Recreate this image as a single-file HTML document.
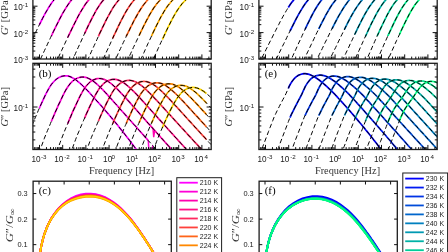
<!DOCTYPE html><html><head><meta charset="utf-8"><title>figure</title>
<style>html,body{margin:0;padding:0;background:#fff}svg{display:block}text{font-family:"Liberation Sans",sans-serif;fill:#1a1a1a}.s{font-family:"Liberation Serif",serif;fill:#333}</style></head><body>
<svg width="448" height="252" viewBox="0 0 448 252">
<rect width="448" height="252" fill="#fff"/>
<defs>
<clipPath id="clipaL"><rect x="32.90" y="-27.70" width="178.30" height="86.70"/></clipPath>
<clipPath id="clipbL"><rect x="32.90" y="63.30" width="178.30" height="86.20"/></clipPath>
<clipPath id="clipcL"><rect x="33.10" y="181.20" width="138.20" height="93.80"/></clipPath>
<clipPath id="clipaR"><rect x="258.90" y="-27.70" width="178.30" height="86.70"/></clipPath>
<clipPath id="clipbR"><rect x="258.90" y="63.30" width="178.30" height="86.20"/></clipPath>
<clipPath id="clipcR"><rect x="259.10" y="181.20" width="138.20" height="93.80"/></clipPath>
</defs>
<g clip-path="url(#clipaL)">
<path d="M39.3 24.9 L39.5 24.5 L41.0 21.5 L42.5 18.5 L44.0 15.7 L45.5 12.9 L47.0 10.3 L48.5 7.8 L50.0 5.5 L51.4 3.3 L52.9 1.3 L54.4 -0.6 L55.8 -2.3 L57.2 -3.8 L58.6 -5.2 L60.1 -6.5 L61.5 -7.7 L62.9 -8.8 L64.3 -9.8 L65.7 -10.8 L67.2 -11.6 L68.6 -12.4 L70.0 -13.1 L71.4 -13.8 L72.8 -14.4 L74.3 -14.9 L75.7 -15.4 L77.1 -15.8 L78.5 -16.3 L79.9 -16.6 L81.4 -16.9 L82.8 -17.2 L84.2 -17.5 L85.6 -17.8 L87.1 -18.0 L88.5 -18.2 L89.9 -18.4 L91.3 -18.6 L92.7 -18.7 L94.2 -18.9 L95.6 -19.0 L97.0 -19.2 L98.4 -19.3 L99.8 -19.4 L101.3 -19.5 L102.7 -19.6 L104.1 -19.7 L105.5 -19.8 L106.9 -19.8 L108.4 -19.9 L109.8 -20.0 L111.2 -20.0 L112.6 -20.1 L114.0 -20.2 L115.5 -20.2 L116.9 -20.3 L118.3 -20.3 L119.7 -20.3 L121.1 -20.4 L122.6 -20.4 L124.0 -20.5 L125.4 -20.5 L126.8 -20.5 L128.3 -20.6 L129.7 -20.6 L131.1 -20.6 L132.5 -20.6 L133.9 -20.7 L135.4 -20.7 L136.8 -20.7 L138.2 -20.7 L139.6 -20.7 L141.0 -20.8 L142.5 -20.8 L143.9 -20.8 L145.3 -20.8 L146.7 -20.8 L148.1 -20.8 L149.6 -20.8 L151.0 -20.9 L152.4 -20.9 L153.8 -20.9 L155.2 -20.9 L156.7 -20.9 L158.1 -20.9 L159.5 -20.9 L160.9 -20.9 L162.4 -20.9 L163.8 -20.9 L165.2 -20.9 L166.6 -20.9 L168.0 -21.0 L169.5 -21.0 L170.9 -21.0 L172.3 -21.0 L173.7 -21.0 L175.1 -21.0 L176.6 -21.0 L178.0 -21.0 L179.4 -21.0 L180.8 -21.0 L182.2 -21.0 L183.7 -21.0 L185.1 -21.0 L186.5 -21.0 L187.9 -21.0 L189.3 -21.0 L190.8 -21.0 L192.2 -21.0 L193.6 -21.0 L195.0 -21.0 L196.5 -21.0 L197.9 -21.0 L199.3 -21.0 L200.7 -21.0 L202.1 -21.0 L203.6 -21.0 L205.0 -21.0 L206.4 -21.0 L206.5 -21.0" fill="none" stroke="#ff00ff" stroke-width="1.7"/>
<path d="M29.0 46.4 L30.5 43.2 L32.0 40.0 L33.5 36.9 L35.0 33.7 L36.5 30.6 L38.0 27.5 L38.6 26.3 L39.5 24.5 L41.0 21.5 L42.5 18.5 L44.0 15.7 L45.5 12.9 L47.0 10.3 L48.5 7.8 L50.0 5.5 L51.4 3.3 L52.9 1.3 L54.4 -0.6 L55.8 -2.3 L57.2 -3.8 L58.6 -5.2 L60.1 -6.5 L61.5 -7.7 L62.9 -8.8 L64.3 -9.8 L65.7 -10.8 L67.2 -11.6 L68.6 -12.4 L70.0 -13.1 L71.4 -13.8 L72.8 -14.4 L74.3 -14.9 L75.7 -15.4 L77.1 -15.8 L78.5 -16.3 L79.9 -16.6 L81.4 -16.9 L82.8 -17.2 L84.2 -17.5 L85.6 -17.8 L87.1 -18.0 L88.5 -18.2 L89.9 -18.4 L91.3 -18.6 L92.7 -18.7 L94.2 -18.9 L95.6 -19.0 L97.0 -19.2 L98.4 -19.3 L99.8 -19.4 L101.3 -19.5 L102.7 -19.6 L104.1 -19.7 L105.5 -19.8 L106.9 -19.8 L108.4 -19.9 L109.8 -20.0 L111.2 -20.0 L112.6 -20.1 L114.0 -20.2 L115.5 -20.2 L116.9 -20.3 L118.3 -20.3 L119.7 -20.3 L121.1 -20.4 L122.6 -20.4 L124.0 -20.5 L125.4 -20.5 L126.8 -20.5 L128.3 -20.6 L129.7 -20.6 L131.1 -20.6 L132.5 -20.6 L133.9 -20.7 L135.4 -20.7 L136.8 -20.7 L138.2 -20.7 L139.6 -20.7 L141.0 -20.8 L142.5 -20.8 L143.9 -20.8 L145.3 -20.8 L146.7 -20.8 L148.1 -20.8 L149.6 -20.8 L151.0 -20.9 L152.4 -20.9 L153.8 -20.9 L155.2 -20.9 L156.7 -20.9 L158.1 -20.9 L159.5 -20.9 L160.9 -20.9 L162.4 -20.9 L163.8 -20.9 L165.2 -20.9 L166.6 -20.9 L168.0 -21.0 L169.5 -21.0 L170.9 -21.0 L172.3 -21.0 L173.7 -21.0 L175.1 -21.0 L176.6 -21.0 L178.0 -21.0 L179.4 -21.0 L180.8 -21.0 L182.2 -21.0 L183.7 -21.0 L185.1 -21.0 L186.5 -21.0 L187.9 -21.0 L189.3 -21.0 L190.8 -21.0 L192.2 -21.0 L193.6 -21.0 L195.0 -21.0 L196.5 -21.0 L197.9 -21.0 L199.3 -21.0 L200.7 -21.0 L202.1 -21.0 L203.6 -21.0 L205.0 -21.0 L206.4 -21.0 L206.5 -21.0 L207.8 -21.0 L209.2 -21.0 L210.7 -21.0 L212.1 -21.0 L213.5 -21.0" fill="none" stroke="#000" stroke-width="1.0" stroke-dasharray="4.6 2.7"/>
<path d="M51.3 36.0 L52.0 34.6 L53.5 31.4 L55.0 28.3 L56.5 25.3 L58.0 22.3 L59.5 19.3 L61.0 16.5 L62.5 13.7 L64.0 11.1 L65.5 8.6 L67.0 6.2 L68.5 4.0 L69.9 2.0 L71.4 0.1 L72.8 -1.6 L74.3 -3.2 L75.7 -4.6 L77.1 -5.9 L78.5 -7.1 L79.9 -8.2 L81.4 -9.2 L82.8 -10.2 L84.2 -11.0 L85.6 -11.8 L87.1 -12.5 L88.5 -13.2 L89.9 -13.8 L91.3 -14.4 L92.7 -14.8 L94.2 -15.3 L95.6 -15.7 L97.0 -16.1 L98.4 -16.4 L99.8 -16.7 L101.3 -17.0 L102.7 -17.2 L104.1 -17.5 L105.5 -17.7 L106.9 -17.9 L108.4 -18.1 L109.8 -18.2 L111.2 -18.4 L112.6 -18.5 L114.0 -18.6 L115.5 -18.8 L116.9 -18.9 L118.3 -19.0 L119.7 -19.1 L121.1 -19.2 L122.6 -19.2 L124.0 -19.3 L125.4 -19.4 L126.8 -19.5 L128.3 -19.5 L129.7 -19.6 L131.1 -19.6 L132.5 -19.7 L133.9 -19.7 L135.4 -19.8 L136.8 -19.8 L138.2 -19.9 L139.6 -19.9 L141.0 -20.0 L142.5 -20.0 L143.9 -20.0 L145.3 -20.0 L146.7 -20.1 L148.1 -20.1 L149.6 -20.1 L151.0 -20.2 L152.4 -20.2 L153.8 -20.2 L155.2 -20.2 L156.7 -20.2 L158.1 -20.3 L159.5 -20.3 L160.9 -20.3 L162.4 -20.3 L163.8 -20.3 L165.2 -20.3 L166.6 -20.3 L168.0 -20.4 L169.5 -20.4 L170.9 -20.4 L172.3 -20.4 L173.7 -20.4 L175.1 -20.4 L176.6 -20.4 L178.0 -20.4 L179.4 -20.4 L180.8 -20.4 L182.2 -20.4 L183.7 -20.4 L185.1 -20.4 L186.5 -20.5 L187.9 -20.5 L189.3 -20.5 L190.8 -20.5 L192.2 -20.5 L193.6 -20.5 L195.0 -20.5 L196.5 -20.5 L197.9 -20.5 L199.3 -20.5 L200.7 -20.5 L202.1 -20.5 L203.6 -20.5 L205.0 -20.5 L206.4 -20.5 L206.5 -20.5" fill="none" stroke="#ff00d7" stroke-width="1.7"/>
<path d="M28.6 86.0 L30.0 82.7 L31.5 79.5 L32.9 76.3 L34.3 73.1 L35.7 69.8 L37.1 66.6 L38.6 63.4 L40.0 60.1 L41.5 56.9 L43.0 53.7 L44.5 50.5 L46.0 47.3 L47.5 44.1 L49.0 40.9 L50.3 38.2 L50.5 37.7 L52.0 34.6 L53.5 31.4 L55.0 28.3 L56.5 25.3 L58.0 22.3 L59.5 19.3 L61.0 16.5 L62.5 13.7 L64.0 11.1 L65.5 8.6 L67.0 6.2 L68.5 4.0 L69.9 2.0 L71.4 0.1 L72.8 -1.6 L74.3 -3.2 L75.7 -4.6 L77.1 -5.9 L78.5 -7.1 L79.9 -8.2 L81.4 -9.2 L82.8 -10.2 L84.2 -11.0 L85.6 -11.8 L87.1 -12.5 L88.5 -13.2 L89.9 -13.8 L91.3 -14.4 L92.7 -14.8 L94.2 -15.3 L95.6 -15.7 L97.0 -16.1 L98.4 -16.4 L99.8 -16.7 L101.3 -17.0 L102.7 -17.2 L104.1 -17.5 L105.5 -17.7 L106.9 -17.9 L108.4 -18.1 L109.8 -18.2 L111.2 -18.4 L112.6 -18.5 L114.0 -18.6 L115.5 -18.8 L116.9 -18.9 L118.3 -19.0 L119.7 -19.1 L121.1 -19.2 L122.6 -19.2 L124.0 -19.3 L125.4 -19.4 L126.8 -19.5 L128.3 -19.5 L129.7 -19.6 L131.1 -19.6 L132.5 -19.7 L133.9 -19.7 L135.4 -19.8 L136.8 -19.8 L138.2 -19.9 L139.6 -19.9 L141.0 -20.0 L142.5 -20.0 L143.9 -20.0 L145.3 -20.0 L146.7 -20.1 L148.1 -20.1 L149.6 -20.1 L151.0 -20.2 L152.4 -20.2 L153.8 -20.2 L155.2 -20.2 L156.7 -20.2 L158.1 -20.3 L159.5 -20.3 L160.9 -20.3 L162.4 -20.3 L163.8 -20.3 L165.2 -20.3 L166.6 -20.3 L168.0 -20.4 L169.5 -20.4 L170.9 -20.4 L172.3 -20.4 L173.7 -20.4 L175.1 -20.4 L176.6 -20.4 L178.0 -20.4 L179.4 -20.4 L180.8 -20.4 L182.2 -20.4 L183.7 -20.4 L185.1 -20.4 L186.5 -20.5 L187.9 -20.5 L189.3 -20.5 L190.8 -20.5 L192.2 -20.5 L193.6 -20.5 L195.0 -20.5 L196.5 -20.5 L197.9 -20.5 L199.3 -20.5 L200.7 -20.5 L202.1 -20.5 L203.6 -20.5 L205.0 -20.5 L206.4 -20.5 L206.5 -20.5 L207.8 -20.5 L209.2 -20.5 L210.7 -20.5 L212.1 -20.5 L213.5 -20.5" fill="none" stroke="#000" stroke-width="1.0" stroke-dasharray="4.6 2.7"/>
<path d="M67.7 37.5 L69.2 34.4 L70.7 31.3 L72.2 28.2 L73.7 25.2 L75.2 22.2 L76.6 19.3 L78.1 16.4 L79.6 13.7 L81.1 11.1 L82.6 8.6 L84.1 6.3 L85.5 4.1 L87.0 2.1 L88.5 0.3 L89.9 -1.4 L91.3 -2.9 L92.7 -4.3 L94.2 -5.6 L95.6 -6.7 L97.0 -7.8 L98.4 -8.8 L99.8 -9.7 L101.3 -10.6 L102.7 -11.4 L104.1 -12.1 L105.5 -12.7 L106.9 -13.3 L108.4 -13.8 L109.8 -14.3 L111.2 -14.8 L112.6 -15.2 L114.0 -15.5 L115.5 -15.9 L116.9 -16.2 L118.3 -16.4 L119.7 -16.7 L121.1 -16.9 L122.6 -17.1 L124.0 -17.3 L125.4 -17.5 L126.8 -17.6 L128.3 -17.8 L129.7 -17.9 L131.1 -18.0 L132.5 -18.2 L133.9 -18.3 L135.4 -18.4 L136.8 -18.5 L138.2 -18.5 L139.6 -18.6 L141.0 -18.7 L142.5 -18.8 L143.9 -18.8 L145.3 -18.9 L146.7 -19.0 L148.1 -19.0 L149.6 -19.1 L151.0 -19.1 L152.4 -19.2 L153.8 -19.2 L155.2 -19.3 L156.7 -19.3 L158.1 -19.3 L159.5 -19.4 L160.9 -19.4 L162.4 -19.4 L163.8 -19.5 L165.2 -19.5 L166.6 -19.5 L168.0 -19.5 L169.5 -19.6 L170.9 -19.6 L172.3 -19.6 L173.7 -19.6 L175.1 -19.6 L176.6 -19.6 L178.0 -19.7 L179.4 -19.7 L180.8 -19.7 L182.2 -19.7 L183.7 -19.7 L185.1 -19.7 L186.5 -19.7 L187.9 -19.7 L189.3 -19.8 L190.8 -19.8 L192.2 -19.8 L193.6 -19.8 L195.0 -19.8 L196.5 -19.8 L197.9 -19.8 L199.3 -19.8 L200.7 -19.8 L202.1 -19.8 L203.6 -19.8 L205.0 -19.8 L206.4 -19.8 L206.5 -19.8" fill="none" stroke="#ff00af" stroke-width="1.7"/>
<path d="M28.8 124.6 L30.2 121.4 L31.7 118.1 L33.1 114.9 L34.5 111.7 L35.9 108.4 L37.3 105.2 L38.8 102.0 L40.2 98.7 L41.6 95.5 L43.0 92.3 L44.4 89.0 L45.9 85.8 L47.3 82.6 L48.7 79.3 L50.1 76.1 L51.6 72.9 L53.0 69.7 L54.4 66.4 L55.8 63.2 L57.2 60.0 L58.7 56.8 L60.2 53.5 L61.7 50.3 L63.2 47.1 L64.7 43.9 L66.2 40.7 L66.8 39.5 L67.7 37.6 L69.2 34.4 L70.7 31.3 L72.2 28.2 L73.7 25.2 L75.2 22.2 L76.6 19.3 L78.1 16.4 L79.6 13.7 L81.1 11.1 L82.6 8.6 L84.1 6.3 L85.5 4.1 L87.0 2.1 L88.5 0.3 L89.9 -1.4 L91.3 -2.9 L92.7 -4.3 L94.2 -5.6 L95.6 -6.7 L97.0 -7.8 L98.4 -8.8 L99.8 -9.7 L101.3 -10.6 L102.7 -11.4 L104.1 -12.1 L105.5 -12.7 L106.9 -13.3 L108.4 -13.8 L109.8 -14.3 L111.2 -14.8 L112.6 -15.2 L114.0 -15.5 L115.5 -15.9 L116.9 -16.2 L118.3 -16.4 L119.7 -16.7 L121.1 -16.9 L122.6 -17.1 L124.0 -17.3 L125.4 -17.5 L126.8 -17.6 L128.3 -17.8 L129.7 -17.9 L131.1 -18.0 L132.5 -18.2 L133.9 -18.3 L135.4 -18.4 L136.8 -18.5 L138.2 -18.5 L139.6 -18.6 L141.0 -18.7 L142.5 -18.8 L143.9 -18.8 L145.3 -18.9 L146.7 -19.0 L148.1 -19.0 L149.6 -19.1 L151.0 -19.1 L152.4 -19.2 L153.8 -19.2 L155.2 -19.3 L156.7 -19.3 L158.1 -19.3 L159.5 -19.4 L160.9 -19.4 L162.4 -19.4 L163.8 -19.5 L165.2 -19.5 L166.6 -19.5 L168.0 -19.5 L169.5 -19.6 L170.9 -19.6 L172.3 -19.6 L173.7 -19.6 L175.1 -19.6 L176.6 -19.6 L178.0 -19.7 L179.4 -19.7 L180.8 -19.7 L182.2 -19.7 L183.7 -19.7 L185.1 -19.7 L186.5 -19.7 L187.9 -19.7 L189.3 -19.8 L190.8 -19.8 L192.2 -19.8 L193.6 -19.8 L195.0 -19.8 L196.5 -19.8 L197.9 -19.8 L199.3 -19.8 L200.7 -19.8 L202.1 -19.8 L203.6 -19.8 L205.0 -19.8 L206.4 -19.8 L206.5 -19.8 L207.8 -19.8 L209.2 -19.8 L210.7 -19.8 L212.1 -19.9 L213.5 -19.9" fill="none" stroke="#000" stroke-width="1.0" stroke-dasharray="4.6 2.7"/>
<path d="M84.6 33.6 L85.5 31.7 L86.9 28.6 L88.3 25.6 L89.8 22.7 L91.2 19.8 L92.6 17.0 L94.1 14.3 L95.5 11.7 L96.9 9.2 L98.4 6.9 L99.8 4.8 L101.2 2.8 L102.7 0.9 L104.1 -0.7 L105.5 -2.3 L106.9 -3.7 L108.4 -5.0 L109.8 -6.1 L111.2 -7.2 L112.6 -8.2 L114.0 -9.2 L115.5 -10.0 L116.9 -10.8 L118.3 -11.5 L119.7 -12.2 L121.1 -12.8 L122.6 -13.3 L124.0 -13.8 L125.4 -14.3 L126.8 -14.7 L128.3 -15.1 L129.7 -15.4 L131.1 -15.7 L132.5 -16.0 L133.9 -16.2 L135.4 -16.5 L136.8 -16.7 L138.2 -16.9 L139.6 -17.0 L141.0 -17.2 L142.5 -17.4 L143.9 -17.5 L145.3 -17.6 L146.7 -17.8 L148.1 -17.9 L149.6 -18.0 L151.0 -18.1 L152.4 -18.2 L153.8 -18.2 L155.2 -18.3 L156.7 -18.4 L158.1 -18.5 L159.5 -18.5 L160.9 -18.6 L162.4 -18.6 L163.8 -18.7 L165.2 -18.8 L166.6 -18.8 L168.0 -18.8 L169.5 -18.9 L170.9 -18.9 L172.3 -19.0 L173.7 -19.0 L175.1 -19.0 L176.6 -19.1 L178.0 -19.1 L179.4 -19.1 L180.8 -19.1 L182.2 -19.2 L183.7 -19.2 L185.1 -19.2 L186.5 -19.2 L187.9 -19.3 L189.3 -19.3 L190.8 -19.3 L192.2 -19.3 L193.6 -19.3 L195.0 -19.3 L196.5 -19.4 L197.9 -19.4 L199.3 -19.4 L200.7 -19.4 L202.1 -19.4 L203.6 -19.4 L205.0 -19.4 L206.4 -19.4 L206.5 -19.4" fill="none" stroke="#ff0f87" stroke-width="1.7"/>
<path d="M29.9 155.7 L31.3 152.5 L32.8 149.3 L34.2 146.2 L35.6 143.0 L37.0 139.8 L38.4 136.6 L39.9 133.4 L41.3 130.2 L42.7 127.0 L44.1 123.8 L45.5 120.6 L47.0 117.4 L48.4 114.2 L49.8 111.0 L51.2 107.8 L52.7 104.7 L54.1 101.5 L55.5 98.3 L56.9 95.1 L58.3 91.9 L59.8 88.7 L61.2 85.5 L62.6 82.3 L64.0 79.1 L65.4 75.9 L66.9 72.7 L68.3 69.6 L69.7 66.4 L71.1 63.2 L72.5 60.0 L74.0 56.8 L75.4 53.7 L76.8 50.5 L78.3 47.3 L79.7 44.2 L81.2 41.0 L82.6 37.9 L84.0 34.8 L84.4 33.9 L85.5 31.7 L86.9 28.6 L88.3 25.6 L89.8 22.7 L91.2 19.8 L92.6 17.0 L94.1 14.3 L95.5 11.7 L96.9 9.2 L98.4 6.9 L99.8 4.8 L101.2 2.8 L102.7 0.9 L104.1 -0.7 L105.5 -2.3 L106.9 -3.7 L108.4 -5.0 L109.8 -6.1 L111.2 -7.2 L112.6 -8.2 L114.0 -9.2 L115.5 -10.0 L116.9 -10.8 L118.3 -11.5 L119.7 -12.2 L121.1 -12.8 L122.6 -13.3 L124.0 -13.8 L125.4 -14.3 L126.8 -14.7 L128.3 -15.1 L129.7 -15.4 L131.1 -15.7 L132.5 -16.0 L133.9 -16.2 L135.4 -16.5 L136.8 -16.7 L138.2 -16.9 L139.6 -17.0 L141.0 -17.2 L142.5 -17.4 L143.9 -17.5 L145.3 -17.6 L146.7 -17.8 L148.1 -17.9 L149.6 -18.0 L151.0 -18.1 L152.4 -18.2 L153.8 -18.2 L155.2 -18.3 L156.7 -18.4 L158.1 -18.5 L159.5 -18.5 L160.9 -18.6 L162.4 -18.6 L163.8 -18.7 L165.2 -18.8 L166.6 -18.8 L168.0 -18.8 L169.5 -18.9 L170.9 -18.9 L172.3 -19.0 L173.7 -19.0 L175.1 -19.0 L176.6 -19.1 L178.0 -19.1 L179.4 -19.1 L180.8 -19.1 L182.2 -19.2 L183.7 -19.2 L185.1 -19.2 L186.5 -19.2 L187.9 -19.3 L189.3 -19.3 L190.8 -19.3 L192.2 -19.3 L193.6 -19.3 L195.0 -19.3 L196.5 -19.4 L197.9 -19.4 L199.3 -19.4 L200.7 -19.4 L202.1 -19.4 L203.6 -19.4 L205.0 -19.4 L206.4 -19.4 L206.5 -19.4 L207.8 -19.4 L209.2 -19.4 L210.7 -19.5 L212.1 -19.5 L213.5 -19.5" fill="none" stroke="#000" stroke-width="1.0" stroke-dasharray="4.6 2.7"/>
<path d="M98.4 36.3 L98.4 36.3 L99.8 33.2 L101.3 30.2 L102.7 27.2 L104.1 24.3 L105.5 21.4 L106.9 18.6 L108.4 15.9 L109.8 13.3 L111.2 10.8 L112.6 8.4 L114.0 6.2 L115.5 4.2 L116.9 2.3 L118.3 0.6 L119.7 -1.0 L121.1 -2.5 L122.6 -3.8 L124.0 -5.0 L125.4 -6.2 L126.8 -7.2 L128.3 -8.2 L129.7 -9.1 L131.1 -9.9 L132.5 -10.6 L133.9 -11.3 L135.4 -12.0 L136.8 -12.5 L138.2 -13.1 L139.6 -13.5 L141.0 -14.0 L142.5 -14.4 L143.9 -14.7 L145.3 -15.0 L146.7 -15.3 L148.1 -15.6 L149.6 -15.9 L151.0 -16.1 L152.4 -16.3 L153.8 -16.5 L155.2 -16.6 L156.7 -16.8 L158.1 -17.0 L159.5 -17.1 L160.9 -17.2 L162.4 -17.3 L163.8 -17.5 L165.2 -17.6 L166.6 -17.6 L168.0 -17.7 L169.5 -17.8 L170.9 -17.9 L172.3 -18.0 L173.7 -18.0 L175.1 -18.1 L176.6 -18.2 L178.0 -18.2 L179.4 -18.3 L180.8 -18.3 L182.2 -18.4 L183.7 -18.4 L185.1 -18.5 L186.5 -18.5 L187.9 -18.5 L189.3 -18.6 L190.8 -18.6 L192.2 -18.6 L193.6 -18.7 L195.0 -18.7 L196.5 -18.7 L197.9 -18.7 L199.3 -18.8 L200.7 -18.8 L202.1 -18.8 L203.6 -18.8 L205.0 -18.9 L206.4 -18.9 L206.5 -18.9" fill="none" stroke="#ff285f" stroke-width="1.7"/>
<path d="M30.2 187.3 L31.6 184.1 L33.1 181.0 L34.5 177.8 L35.9 174.7 L37.3 171.5 L38.7 168.4 L40.2 165.2 L41.6 162.0 L43.0 158.9 L44.4 155.7 L45.8 152.6 L47.3 149.4 L48.7 146.3 L50.1 143.1 L51.5 140.0 L53.0 136.8 L54.4 133.7 L55.8 130.5 L57.2 127.4 L58.6 124.2 L60.1 121.1 L61.5 117.9 L62.9 114.8 L64.3 111.6 L65.7 108.5 L67.2 105.3 L68.6 102.2 L70.0 99.0 L71.4 95.9 L72.8 92.7 L74.3 89.6 L75.7 86.4 L77.1 83.3 L78.5 80.1 L79.9 77.0 L81.4 73.8 L82.8 70.7 L84.2 67.5 L85.6 64.4 L87.1 61.2 L88.5 58.1 L89.9 55.0 L91.3 51.8 L92.7 48.7 L94.2 45.6 L95.6 42.5 L97.0 39.4 L98.4 36.3 L98.4 36.3 L99.8 33.2 L101.3 30.2 L102.7 27.2 L104.1 24.3 L105.5 21.4 L106.9 18.6 L108.4 15.9 L109.8 13.3 L111.2 10.8 L112.6 8.4 L114.0 6.2 L115.5 4.2 L116.9 2.3 L118.3 0.6 L119.7 -1.0 L121.1 -2.5 L122.6 -3.8 L124.0 -5.0 L125.4 -6.2 L126.8 -7.2 L128.3 -8.2 L129.7 -9.1 L131.1 -9.9 L132.5 -10.6 L133.9 -11.3 L135.4 -12.0 L136.8 -12.5 L138.2 -13.1 L139.6 -13.5 L141.0 -14.0 L142.5 -14.4 L143.9 -14.7 L145.3 -15.0 L146.7 -15.3 L148.1 -15.6 L149.6 -15.9 L151.0 -16.1 L152.4 -16.3 L153.8 -16.5 L155.2 -16.6 L156.7 -16.8 L158.1 -17.0 L159.5 -17.1 L160.9 -17.2 L162.4 -17.3 L163.8 -17.5 L165.2 -17.6 L166.6 -17.6 L168.0 -17.7 L169.5 -17.8 L170.9 -17.9 L172.3 -18.0 L173.7 -18.0 L175.1 -18.1 L176.6 -18.2 L178.0 -18.2 L179.4 -18.3 L180.8 -18.3 L182.2 -18.4 L183.7 -18.4 L185.1 -18.5 L186.5 -18.5 L187.9 -18.5 L189.3 -18.6 L190.8 -18.6 L192.2 -18.6 L193.6 -18.7 L195.0 -18.7 L196.5 -18.7 L197.9 -18.7 L199.3 -18.8 L200.7 -18.8 L202.1 -18.8 L203.6 -18.8 L205.0 -18.9 L206.4 -18.9 L206.5 -18.9 L207.8 -18.9 L209.2 -18.9 L210.7 -18.9 L212.1 -18.9 L213.5 -18.9" fill="none" stroke="#000" stroke-width="1.0" stroke-dasharray="4.6 2.7"/>
<path d="M112.7 38.3 L114.0 35.4 L115.5 32.4 L116.9 29.4 L118.3 26.4 L119.7 23.5 L121.1 20.6 L122.6 17.9 L124.0 15.2 L125.4 12.6 L126.8 10.2 L128.3 7.9 L129.7 5.8 L131.1 3.8 L132.5 2.0 L133.9 0.3 L135.4 -1.2 L136.8 -2.6 L138.2 -3.9 L139.6 -5.1 L141.0 -6.2 L142.5 -7.2 L143.9 -8.1 L145.3 -9.0 L146.7 -9.8 L148.1 -10.5 L149.6 -11.2 L151.0 -11.8 L152.4 -12.3 L153.8 -12.8 L155.2 -13.3 L156.7 -13.7 L158.1 -14.1 L159.5 -14.4 L160.9 -14.7 L162.4 -15.0 L163.8 -15.3 L165.2 -15.5 L166.6 -15.7 L168.0 -15.9 L169.5 -16.1 L170.9 -16.3 L172.3 -16.4 L173.7 -16.6 L175.1 -16.7 L176.6 -16.8 L178.0 -16.9 L179.4 -17.0 L180.8 -17.1 L182.2 -17.2 L183.7 -17.3 L185.1 -17.4 L186.5 -17.5 L187.9 -17.5 L189.3 -17.6 L190.8 -17.7 L192.2 -17.7 L193.6 -17.8 L195.0 -17.8 L196.5 -17.9 L197.9 -17.9 L199.3 -18.0 L200.7 -18.0 L202.1 -18.1 L203.6 -18.1 L205.0 -18.1 L206.4 -18.2 L206.5 -18.2" fill="none" stroke="#ff413c" stroke-width="1.7"/>
<path d="M30.2 217.4 L31.6 217.4 L33.1 214.7 L34.5 211.5 L35.9 208.4 L37.3 205.2 L38.7 202.1 L40.2 198.9 L41.6 195.8 L43.0 192.6 L44.4 189.5 L45.8 186.3 L47.3 183.2 L48.7 180.0 L50.1 176.9 L51.5 173.7 L53.0 170.6 L54.4 167.4 L55.8 164.3 L57.2 161.1 L58.6 158.0 L60.1 154.8 L61.5 151.7 L62.9 148.5 L64.3 145.4 L65.7 142.2 L67.2 139.1 L68.6 135.9 L70.0 132.8 L71.4 129.6 L72.8 126.4 L74.3 123.3 L75.7 120.1 L77.1 117.0 L78.5 113.8 L79.9 110.7 L81.4 107.5 L82.8 104.4 L84.2 101.2 L85.6 98.1 L87.1 94.9 L88.5 91.8 L89.9 88.6 L91.3 85.5 L92.7 82.3 L94.2 79.2 L95.6 76.0 L97.0 72.9 L98.4 69.7 L99.8 66.6 L101.3 63.4 L102.7 60.3 L104.1 57.2 L105.5 54.0 L106.9 50.9 L108.4 47.8 L109.8 44.7 L111.2 41.6 L112.6 38.5 L112.7 38.3 L114.0 35.4 L115.5 32.4 L116.9 29.4 L118.3 26.4 L119.7 23.5 L121.1 20.6 L122.6 17.9 L124.0 15.2 L125.4 12.6 L126.8 10.2 L128.3 7.9 L129.7 5.8 L131.1 3.8 L132.5 2.0 L133.9 0.3 L135.4 -1.2 L136.8 -2.6 L138.2 -3.9 L139.6 -5.1 L141.0 -6.2 L142.5 -7.2 L143.9 -8.1 L145.3 -9.0 L146.7 -9.8 L148.1 -10.5 L149.6 -11.2 L151.0 -11.8 L152.4 -12.3 L153.8 -12.8 L155.2 -13.3 L156.7 -13.7 L158.1 -14.1 L159.5 -14.4 L160.9 -14.7 L162.4 -15.0 L163.8 -15.3 L165.2 -15.5 L166.6 -15.7 L168.0 -15.9 L169.5 -16.1 L170.9 -16.3 L172.3 -16.4 L173.7 -16.6 L175.1 -16.7 L176.6 -16.8 L178.0 -16.9 L179.4 -17.0 L180.8 -17.1 L182.2 -17.2 L183.7 -17.3 L185.1 -17.4 L186.5 -17.5 L187.9 -17.5 L189.3 -17.6 L190.8 -17.7 L192.2 -17.7 L193.6 -17.8 L195.0 -17.8 L196.5 -17.9 L197.9 -17.9 L199.3 -18.0 L200.7 -18.0 L202.1 -18.1 L203.6 -18.1 L205.0 -18.1 L206.4 -18.2 L206.5 -18.2 L207.8 -18.2 L209.2 -18.2 L210.7 -18.2 L212.1 -18.3 L213.5 -18.3" fill="none" stroke="#000" stroke-width="1.0" stroke-dasharray="4.6 2.7"/>
<path d="M126.3 36.3 L126.3 36.2 L127.8 33.2 L129.3 30.2 L130.7 27.2 L132.2 24.3 L133.6 21.4 L135.1 18.7 L136.6 16.0 L138.0 13.4 L139.5 11.0 L140.9 8.7 L142.4 6.5 L143.8 4.5 L145.3 2.7 L146.7 1.0 L148.1 -0.5 L149.6 -1.9 L151.0 -3.2 L152.4 -4.4 L153.8 -5.5 L155.2 -6.5 L156.7 -7.5 L158.1 -8.3 L159.5 -9.1 L160.9 -9.8 L162.4 -10.5 L163.8 -11.1 L165.2 -11.7 L166.6 -12.2 L168.0 -12.6 L169.5 -13.1 L170.9 -13.4 L172.3 -13.8 L173.7 -14.1 L175.1 -14.4 L176.6 -14.6 L178.0 -14.9 L179.4 -15.1 L180.8 -15.3 L182.2 -15.5 L183.7 -15.7 L185.1 -15.8 L186.5 -16.0 L187.9 -16.1 L189.3 -16.2 L190.8 -16.3 L192.2 -16.4 L193.6 -16.5 L195.0 -16.6 L196.5 -16.7 L197.9 -16.8 L199.3 -16.9 L200.7 -17.0 L202.1 -17.0 L203.6 -17.1 L205.0 -17.1 L206.4 -17.2 L206.5 -17.2" fill="none" stroke="#ff6419" stroke-width="1.7"/>
<path d="M29.4 217.4 L30.8 217.4 L32.3 217.4 L33.7 217.4 L35.1 217.4 L36.5 217.4 L37.9 217.4 L39.4 217.4 L40.8 217.4 L42.2 217.4 L43.6 217.4 L45.0 215.5 L46.5 212.4 L47.9 209.2 L49.3 206.1 L50.7 202.9 L52.2 199.8 L53.6 196.6 L55.0 193.5 L56.4 190.3 L57.8 187.2 L59.3 184.0 L60.7 180.9 L62.1 177.7 L63.5 174.6 L64.9 171.4 L66.4 168.3 L67.8 165.1 L69.2 162.0 L70.6 158.8 L72.0 155.7 L73.5 152.5 L74.9 149.3 L76.3 146.2 L77.7 143.0 L79.1 139.9 L80.6 136.7 L82.0 133.6 L83.4 130.4 L84.8 127.3 L86.3 124.1 L87.7 121.0 L89.1 117.8 L90.5 114.7 L91.9 111.5 L93.4 108.4 L94.8 105.2 L96.2 102.1 L97.6 98.9 L99.0 95.8 L100.5 92.6 L101.9 89.5 L103.3 86.3 L104.7 83.2 L106.1 80.0 L107.6 76.9 L109.0 73.7 L110.4 70.6 L111.8 67.4 L113.2 64.3 L114.7 61.1 L116.1 58.0 L117.6 54.9 L119.0 51.7 L120.5 48.6 L121.9 45.5 L123.4 42.4 L124.9 39.3 L125.8 37.4 L126.3 36.2 L127.8 33.2 L129.3 30.2 L130.7 27.2 L132.2 24.3 L133.6 21.4 L135.1 18.7 L136.6 16.0 L138.0 13.4 L139.5 11.0 L140.9 8.7 L142.4 6.5 L143.8 4.5 L145.3 2.7 L146.7 1.0 L148.1 -0.5 L149.6 -1.9 L151.0 -3.2 L152.4 -4.4 L153.8 -5.5 L155.2 -6.5 L156.7 -7.5 L158.1 -8.3 L159.5 -9.1 L160.9 -9.8 L162.4 -10.5 L163.8 -11.1 L165.2 -11.7 L166.6 -12.2 L168.0 -12.6 L169.5 -13.1 L170.9 -13.4 L172.3 -13.8 L173.7 -14.1 L175.1 -14.4 L176.6 -14.6 L178.0 -14.9 L179.4 -15.1 L180.8 -15.3 L182.2 -15.5 L183.7 -15.7 L185.1 -15.8 L186.5 -16.0 L187.9 -16.1 L189.3 -16.2 L190.8 -16.3 L192.2 -16.4 L193.6 -16.5 L195.0 -16.6 L196.5 -16.7 L197.9 -16.8 L199.3 -16.9 L200.7 -17.0 L202.1 -17.0 L203.6 -17.1 L205.0 -17.1 L206.4 -17.2 L206.5 -17.2 L207.8 -17.2 L209.2 -17.3 L210.7 -17.3 L212.1 -17.4 L213.5 -17.4" fill="none" stroke="#000" stroke-width="1.0" stroke-dasharray="4.6 2.7"/>
<path d="M139.1 35.5 L139.3 35.2 L140.7 32.2 L142.2 29.2 L143.6 26.2 L145.1 23.3 L146.5 20.5 L148.0 17.8 L149.4 15.1 L150.9 12.6 L152.3 10.3 L153.7 8.0 L155.2 6.0 L156.6 4.0 L158.1 2.3 L159.5 0.7 L160.9 -0.8 L162.4 -2.1 L163.8 -3.4 L165.2 -4.5 L166.6 -5.6 L168.0 -6.6 L169.5 -7.5 L170.9 -8.3 L172.3 -9.1 L173.7 -9.8 L175.1 -10.4 L176.6 -11.0 L178.0 -11.5 L179.4 -12.0 L180.8 -12.4 L182.2 -12.8 L183.7 -13.2 L185.1 -13.5 L186.5 -13.8 L187.9 -14.1 L189.3 -14.3 L190.8 -14.6 L192.2 -14.8 L193.6 -15.0 L195.0 -15.2 L196.5 -15.3 L197.9 -15.5 L199.3 -15.6 L200.7 -15.7 L202.1 -15.9 L203.6 -16.0 L205.0 -16.1 L206.4 -16.2 L206.5 -16.2" fill="none" stroke="#ff8800" stroke-width="1.7"/>
<path d="M29.6 217.4 L31.0 217.4 L32.5 217.4 L33.9 217.4 L35.3 217.4 L36.7 217.4 L38.1 217.4 L39.6 217.4 L41.0 217.4 L42.4 217.4 L43.8 217.4 L45.2 217.4 L46.7 217.4 L48.1 217.4 L49.5 217.4 L50.9 217.4 L52.4 217.4 L53.8 217.4 L55.2 217.4 L56.6 217.4 L58.0 214.4 L59.5 211.3 L60.9 208.1 L62.3 205.0 L63.7 201.8 L65.1 198.7 L66.6 195.5 L68.0 192.4 L69.4 189.2 L70.8 186.1 L72.2 182.9 L73.7 179.8 L75.1 176.6 L76.5 173.5 L77.9 170.3 L79.3 167.2 L80.8 164.0 L82.2 160.9 L83.6 157.7 L85.0 154.5 L86.5 151.4 L87.9 148.2 L89.3 145.1 L90.7 141.9 L92.1 138.8 L93.6 135.6 L95.0 132.5 L96.4 129.3 L97.8 126.2 L99.2 123.0 L100.7 119.9 L102.1 116.7 L103.5 113.6 L104.9 110.4 L106.3 107.3 L107.8 104.1 L109.2 101.0 L110.6 97.8 L112.0 94.7 L113.4 91.5 L114.9 88.4 L116.3 85.2 L117.7 82.1 L119.1 78.9 L120.5 75.8 L122.0 72.6 L123.4 69.5 L124.8 66.3 L126.2 63.2 L127.7 60.0 L129.1 56.9 L130.5 53.8 L132.0 50.6 L133.4 47.5 L134.9 44.4 L136.4 41.3 L137.8 38.2 L138.7 36.3 L139.3 35.2 L140.7 32.2 L142.2 29.2 L143.6 26.2 L145.1 23.3 L146.5 20.5 L148.0 17.8 L149.4 15.1 L150.9 12.6 L152.3 10.3 L153.7 8.0 L155.2 6.0 L156.6 4.0 L158.1 2.3 L159.5 0.7 L160.9 -0.8 L162.4 -2.1 L163.8 -3.4 L165.2 -4.5 L166.6 -5.6 L168.0 -6.6 L169.5 -7.5 L170.9 -8.3 L172.3 -9.1 L173.7 -9.8 L175.1 -10.4 L176.6 -11.0 L178.0 -11.5 L179.4 -12.0 L180.8 -12.4 L182.2 -12.8 L183.7 -13.2 L185.1 -13.5 L186.5 -13.8 L187.9 -14.1 L189.3 -14.3 L190.8 -14.6 L192.2 -14.8 L193.6 -15.0 L195.0 -15.2 L196.5 -15.3 L197.9 -15.5 L199.3 -15.6 L200.7 -15.7 L202.1 -15.9 L203.6 -16.0 L205.0 -16.1 L206.4 -16.2 L206.5 -16.2 L207.8 -16.3 L209.2 -16.3 L210.7 -16.4 L212.1 -16.5 L213.5 -16.6" fill="none" stroke="#000" stroke-width="1.0" stroke-dasharray="4.6 2.7"/>
<path d="M151.5 36.1 L152.4 34.1 L153.8 31.1 L155.2 28.2 L156.7 25.2 L158.1 22.4 L159.5 19.6 L160.9 16.9 L162.4 14.4 L163.8 11.9 L165.2 9.6 L166.6 7.5 L168.0 5.5 L169.5 3.7 L170.9 2.0 L172.3 0.5 L173.7 -0.9 L175.1 -2.2 L176.6 -3.4 L178.0 -4.5 L179.4 -5.5 L180.8 -6.4 L182.2 -7.3 L183.7 -8.1 L185.1 -8.8 L186.5 -9.5 L187.9 -10.1 L189.3 -10.7 L190.8 -11.2 L192.2 -11.6 L193.6 -12.0 L195.0 -12.4 L196.5 -12.8 L197.9 -13.1 L199.3 -13.3 L200.7 -13.6 L202.1 -13.8 L203.6 -14.1 L205.0 -14.3 L206.4 -14.4 L206.5 -14.5" fill="none" stroke="#ffac00" stroke-width="1.7"/>
<path d="M30.2 217.4 L31.6 217.4 L33.1 217.4 L34.5 217.4 L35.9 217.4 L37.3 217.4 L38.7 217.4 L40.2 217.4 L41.6 217.4 L43.0 217.4 L44.4 217.4 L45.8 217.4 L47.3 217.4 L48.7 217.4 L50.1 217.4 L51.5 217.4 L53.0 217.4 L54.4 217.4 L55.8 217.4 L57.2 217.4 L58.6 217.4 L60.1 217.4 L61.5 217.4 L62.9 217.4 L64.3 217.4 L65.7 217.4 L67.2 217.4 L68.6 217.4 L70.0 216.5 L71.4 213.3 L72.8 210.2 L74.3 207.0 L75.7 203.9 L77.1 200.7 L78.5 197.6 L79.9 194.4 L81.4 191.2 L82.8 188.1 L84.2 184.9 L85.6 181.8 L87.1 178.6 L88.5 175.5 L89.9 172.3 L91.3 169.2 L92.7 166.0 L94.2 162.9 L95.6 159.7 L97.0 156.6 L98.4 153.4 L99.8 150.3 L101.3 147.1 L102.7 144.0 L104.1 140.8 L105.5 137.7 L106.9 134.5 L108.4 131.4 L109.8 128.2 L111.2 125.1 L112.6 121.9 L114.0 118.8 L115.5 115.6 L116.9 112.5 L118.3 109.3 L119.7 106.2 L121.1 103.0 L122.6 99.9 L124.0 96.7 L125.4 93.6 L126.8 90.4 L128.3 87.3 L129.7 84.1 L131.1 81.0 L132.5 77.8 L133.9 74.7 L135.4 71.5 L136.8 68.4 L138.2 65.2 L139.6 62.1 L141.0 58.9 L142.5 55.8 L143.9 52.7 L145.3 49.5 L146.7 46.4 L148.1 43.3 L149.6 40.2 L151.0 37.2 L151.5 36.1 L152.4 34.1 L153.8 31.1 L155.2 28.2 L156.7 25.2 L158.1 22.4 L159.5 19.6 L160.9 16.9 L162.4 14.4 L163.8 11.9 L165.2 9.6 L166.6 7.5 L168.0 5.5 L169.5 3.7 L170.9 2.0 L172.3 0.5 L173.7 -0.9 L175.1 -2.2 L176.6 -3.4 L178.0 -4.5 L179.4 -5.5 L180.8 -6.4 L182.2 -7.3 L183.7 -8.1 L185.1 -8.8 L186.5 -9.5 L187.9 -10.1 L189.3 -10.7 L190.8 -11.2 L192.2 -11.6 L193.6 -12.0 L195.0 -12.4 L196.5 -12.8 L197.9 -13.1 L199.3 -13.3 L200.7 -13.6 L202.1 -13.8 L203.6 -14.1 L205.0 -14.3 L206.4 -14.4 L206.5 -14.5 L207.8 -14.6 L209.2 -14.8 L210.7 -14.9 L212.1 -15.0 L213.5 -15.2" fill="none" stroke="#000" stroke-width="1.0" stroke-dasharray="4.6 2.7"/>
<path d="M162.3 39.5 L162.4 39.4 L163.8 36.4 L165.2 33.3 L166.6 30.4 L168.0 27.4 L169.5 24.5 L170.9 21.7 L172.3 19.0 L173.7 16.4 L175.1 13.9 L176.6 11.5 L178.0 9.3 L179.4 7.3 L180.8 5.4 L182.2 3.6 L183.7 2.0 L185.1 0.6 L186.5 -0.8 L187.9 -2.0 L189.3 -3.1 L190.8 -4.2 L192.2 -5.2 L193.6 -6.0 L195.0 -6.9 L196.5 -7.6 L197.9 -8.3 L199.3 -9.0 L200.7 -9.5 L202.1 -10.1 L203.6 -10.5 L205.0 -11.0 L206.4 -11.4 L206.5 -11.4" fill="none" stroke="#ffd700" stroke-width="1.7"/>
<path d="M30.2 217.4 L31.6 217.4 L33.1 217.4 L34.5 217.4 L35.9 217.4 L37.3 217.4 L38.7 217.4 L40.2 217.4 L41.6 217.4 L43.0 217.4 L44.4 217.4 L45.8 217.4 L47.3 217.4 L48.7 217.4 L50.1 217.4 L51.5 217.4 L53.0 217.4 L54.4 217.4 L55.8 217.4 L57.2 217.4 L58.6 217.4 L60.1 217.4 L61.5 217.4 L62.9 217.4 L64.3 217.4 L65.7 217.4 L67.2 217.4 L68.6 217.4 L70.0 217.4 L71.4 217.4 L72.8 217.4 L74.3 217.4 L75.7 217.4 L77.1 217.4 L78.5 217.4 L79.9 217.4 L81.4 217.4 L82.8 215.6 L84.2 212.4 L85.6 209.3 L87.1 206.1 L88.5 203.0 L89.9 199.8 L91.3 196.7 L92.7 193.5 L94.2 190.4 L95.6 187.2 L97.0 184.1 L98.4 180.9 L99.8 177.8 L101.3 174.6 L102.7 171.5 L104.1 168.3 L105.5 165.2 L106.9 162.0 L108.4 158.9 L109.8 155.7 L111.2 152.6 L112.6 149.4 L114.0 146.3 L115.5 143.1 L116.9 140.0 L118.3 136.8 L119.7 133.7 L121.1 130.5 L122.6 127.4 L124.0 124.2 L125.4 121.1 L126.8 117.9 L128.3 114.7 L129.7 111.6 L131.1 108.4 L132.5 105.3 L133.9 102.1 L135.4 99.0 L136.8 95.8 L138.2 92.7 L139.6 89.5 L141.0 86.4 L142.5 83.2 L143.9 80.1 L145.3 76.9 L146.7 73.8 L148.1 70.6 L149.6 67.5 L151.0 64.4 L152.4 61.2 L153.8 58.1 L155.2 54.9 L156.7 51.8 L158.1 48.7 L159.5 45.6 L160.9 42.5 L162.3 39.5 L162.4 39.4 L163.8 36.4 L165.2 33.3 L166.6 30.4 L168.0 27.4 L169.5 24.5 L170.9 21.7 L172.3 19.0 L173.7 16.4 L175.1 13.9 L176.6 11.5 L178.0 9.3 L179.4 7.3 L180.8 5.4 L182.2 3.6 L183.7 2.0 L185.1 0.6 L186.5 -0.8 L187.9 -2.0 L189.3 -3.1 L190.8 -4.2 L192.2 -5.2 L193.6 -6.0 L195.0 -6.9 L196.5 -7.6 L197.9 -8.3 L199.3 -9.0 L200.7 -9.5 L202.1 -10.1 L203.6 -10.5 L205.0 -11.0 L206.4 -11.4 L206.5 -11.4 L207.8 -11.7 L209.2 -12.0 L210.7 -12.3 L212.1 -12.6 L213.5 -12.9" fill="none" stroke="#000" stroke-width="1.0" stroke-dasharray="4.6 2.7"/>
</g>
<g clip-path="url(#clipbL)">
<path d="M39.3 108.3 L39.9 107.0 L41.4 103.6 L43.0 100.2 L44.4 97.1 L45.8 94.1 L47.3 91.3 L48.7 88.7 L50.1 86.4 L51.5 84.3 L53.0 82.5 L54.4 81.0 L55.8 79.7 L57.2 78.6 L58.6 77.7 L60.1 77.0 L61.5 76.4 L62.9 76.1 L64.3 75.8 L65.7 75.8 L67.2 75.9 L68.6 76.2 L70.0 76.6 L71.4 77.2 L72.8 77.9 L74.3 78.8 L75.7 79.7 L77.1 80.8 L78.5 82.0 L79.9 83.2 L81.4 84.5 L82.8 85.8 L84.2 87.2 L85.6 88.7 L87.1 90.2 L88.5 91.7 L89.9 93.2 L91.3 94.7 L92.7 96.3 L94.2 97.9 L95.6 99.5 L97.0 101.1 L98.4 102.6 L99.8 104.2 L101.3 105.8 L102.7 107.5 L104.1 109.1 L105.5 110.7 L106.9 112.4 L108.4 114.1 L109.8 115.7 L111.2 117.4 L112.6 119.1 L114.0 120.9 L115.5 122.6 L116.9 124.3 L118.3 126.1 L119.7 127.9 L121.1 129.6 L122.6 131.4 L124.0 133.2 L125.4 135.1 L126.8 136.9 L128.3 138.7 L129.7 140.6 L131.1 142.5 L132.5 144.3 L133.9 146.2 L135.4 148.2 L136.8 150.1 L138.2 152.0 L139.6 154.0 L141.0 155.9 L142.5 157.9 L143.9 159.9 L145.3 161.9 L146.7 163.9 L148.1 166.0 L149.6 168.0 L151.0 170.1 L152.4 172.2 L153.8 174.3 L155.2 176.4 L156.7 178.5 L158.1 180.6 L159.5 182.8 L160.9 184.9 L162.4 187.1 L163.8 189.3 L165.2 191.5 L166.6 193.7 L168.0 196.0 L169.5 198.2 L170.9 200.5 L172.3 202.7 L173.7 205.0 L175.1 207.3 L176.6 209.6 L178.0 212.0 L179.4 214.3 L180.8 216.7 L182.2 219.0 L183.7 221.4 L185.1 223.8 L186.5 226.2 L187.9 228.7 L189.3 231.1 L190.8 233.6 L192.2 236.0 L193.6 238.5 L195.0 241.0 L196.5 243.5 L197.9 246.0 L199.3 248.5 L200.7 251.1 L202.1 253.6 L203.6 256.2 L205.0 258.8 L206.4 261.4 L206.5 261.6" fill="none" stroke="#ff00ff" stroke-width="1.7"/>
<path d="M28.9 132.8 L30.5 129.0 L32.1 125.2 L33.6 121.5 L35.2 117.8 L36.8 114.1 L38.3 110.5 L38.9 109.1 L39.9 107.0 L41.4 103.6 L43.0 100.2 L44.4 97.1 L45.8 94.1 L47.3 91.3 L48.7 88.7 L50.1 86.4 L51.5 84.3 L53.0 82.5 L54.4 81.0 L55.8 79.7 L57.2 78.6 L58.6 77.7 L60.1 77.0 L61.5 76.4 L62.9 76.1 L64.3 75.8 L65.7 75.8 L67.2 75.9 L68.6 76.2 L70.0 76.6 L71.4 77.2 L72.8 77.9 L74.3 78.8 L75.7 79.7 L77.1 80.8 L78.5 82.0 L79.9 83.2 L81.4 84.5 L82.8 85.8 L84.2 87.2 L85.6 88.7 L87.1 90.2 L88.5 91.7 L89.9 93.2 L91.3 94.7 L92.7 96.3 L94.2 97.9 L95.6 99.5 L97.0 101.1 L98.4 102.6 L99.8 104.2 L101.3 105.8 L102.7 107.5 L104.1 109.1 L105.5 110.7 L106.9 112.4 L108.4 114.1 L109.8 115.7 L111.2 117.4 L112.6 119.1 L114.0 120.9 L115.5 122.6 L116.9 124.3 L118.3 126.1 L119.7 127.9 L121.1 129.6 L122.6 131.4 L124.0 133.2 L125.4 135.1 L126.8 136.9 L128.3 138.7 L129.7 140.6 L131.1 142.5 L132.5 144.3 L133.9 146.2 L135.4 148.2 L136.8 150.1 L138.2 152.0 L139.6 154.0 L141.0 155.9 L142.5 157.9 L143.9 159.9 L145.3 161.9 L146.7 163.9 L148.1 166.0 L149.6 168.0 L151.0 170.1 L152.4 172.2 L153.8 174.3 L155.2 176.4 L156.7 178.5 L158.1 180.6 L159.5 182.8 L160.9 184.9 L162.4 187.1 L163.8 189.3 L165.2 191.5 L166.6 193.7 L168.0 196.0 L169.5 198.2 L170.9 200.5 L172.3 202.7 L173.7 205.0 L175.1 207.3 L176.6 209.6 L178.0 212.0 L179.4 214.3 L180.8 216.7 L182.2 219.0 L183.7 221.4 L185.1 223.8 L186.5 226.2 L187.9 228.7 L189.3 231.1 L190.8 233.6 L192.2 236.0 L193.6 238.5 L195.0 241.0 L196.5 243.5 L197.9 246.0 L199.3 248.5 L200.7 251.1 L202.1 253.6 L203.6 256.2 L205.0 258.8 L206.4 261.4 L206.5 261.6 L207.8 264.0 L209.2 266.6 L210.7 269.3 L212.1 271.9 L213.5 274.6" fill="none" stroke="#000" stroke-width="1.0" stroke-dasharray="4.6 2.7"/>
<path d="M51.3 121.5 L52.2 119.4 L53.8 115.7 L55.3 112.1 L56.9 108.6 L58.4 105.1 L60.0 101.8 L61.5 98.6 L62.9 95.6 L64.3 92.8 L65.7 90.2 L67.2 87.8 L68.6 85.7 L70.0 83.9 L71.4 82.3 L72.8 81.0 L74.3 79.9 L75.7 79.0 L77.1 78.2 L78.5 77.7 L79.9 77.3 L81.4 77.1 L82.8 77.0 L84.2 77.1 L85.6 77.4 L87.1 77.8 L88.5 78.4 L89.9 79.1 L91.3 79.9 L92.7 80.8 L94.2 81.9 L95.6 83.0 L97.0 84.2 L98.4 85.5 L99.8 86.9 L101.3 88.3 L102.7 89.7 L104.1 91.2 L105.5 92.7 L106.9 94.2 L108.4 95.8 L109.8 97.3 L111.2 98.9 L112.6 100.5 L114.0 102.1 L115.5 103.7 L116.9 105.3 L118.3 106.9 L119.7 108.5 L121.1 110.1 L122.6 111.7 L124.0 113.3 L125.4 114.9 L126.8 116.5 L128.3 118.1 L129.7 119.7 L131.1 121.3 L132.5 122.9 L133.9 124.5 L135.4 126.0 L136.8 127.6 L138.2 129.2 L139.6 130.8 L141.0 132.4 L142.5 134.0 L143.9 135.6 L145.3 137.2 L146.7 138.8 L148.1 140.4 L148.3 140.5" fill="none" stroke="#ff00d7" stroke-width="1.7"/>
<path d="M148.3 140.5 L148.9 151 M151.2 151 L152.6 146.8 L153.8 151" fill="none" stroke="#ff00d7" stroke-width="1.5"/>
<path d="M28.8 180.4 L30.2 176.6 L31.7 172.7 L33.1 168.9 L34.5 165.0 L35.9 161.2 L37.3 157.3 L38.8 153.5 L40.2 149.7 L41.6 145.8 L43.0 142.0 L44.4 138.2 L45.9 134.4 L47.5 130.6 L49.1 126.8 L50.4 123.7 L50.6 123.1 L52.2 119.4 L53.8 115.7 L55.3 112.1 L56.9 108.6 L58.4 105.1 L60.0 101.8 L61.5 98.6 L62.9 95.6 L64.3 92.8 L65.7 90.2 L67.2 87.8 L68.6 85.7 L70.0 83.9 L71.4 82.3 L72.8 81.0 L74.3 79.9 L75.7 79.0 L77.1 78.2 L78.5 77.7 L79.9 77.3 L81.4 77.1 L82.8 77.0 L84.2 77.1 L85.6 77.4 L87.1 77.8 L88.5 78.4 L89.9 79.1 L91.3 79.9 L92.7 80.8 L94.2 81.9 L95.6 83.0 L97.0 84.2 L98.4 85.5 L99.8 86.9 L101.3 88.3 L102.7 89.7 L104.1 91.2 L105.5 92.7 L106.9 94.2 L108.4 95.8 L109.8 97.3 L111.2 98.9 L112.6 100.5 L114.0 102.1 L115.5 103.7 L116.9 105.3 L118.3 106.9 L119.7 108.5 L121.1 110.1 L122.6 111.7 L124.0 113.3 L125.4 114.9 L126.8 116.5 L128.3 118.1 L129.7 119.7 L131.1 121.3 L132.5 122.9 L133.9 124.5 L135.4 126.0 L136.8 127.6 L138.2 129.2 L139.6 130.8 L141.0 132.4 L142.5 134.0 L143.9 135.6 L145.3 137.2 L146.7 138.8 L148.1 140.4 L149.6 142.0 L151.0 143.5 L152.4 145.1 L153.8 146.7 L155.2 148.3 L156.7 149.9 L158.1 151.5 L159.5 153.1 L160.9 154.7 L162.4 156.3 L163.8 157.9 L165.2 159.5 L166.6 161.1 L168.0 162.7 L169.5 164.3 L170.9 165.9 L172.3 167.5 L173.7 169.1 L175.1 170.7 L176.6 172.3 L178.0 173.9 L179.4 175.5 L180.8 177.1 L182.2 178.7 L183.7 180.3 L185.1 181.9 L186.5 183.5 L187.9 185.2 L189.3 186.8 L190.8 188.4 L192.2 190.0 L193.6 191.6 L195.0 193.2 L196.5 194.8 L197.9 196.4 L199.3 198.0 L200.7 199.7 L202.1 201.3 L203.6 202.9 L205.0 204.5 L206.4 206.1 L206.5 206.2 L207.8 207.7 L209.2 209.4 L210.7 211.0 L212.1 212.6 L213.5 214.2" fill="none" stroke="#000" stroke-width="1.0" stroke-dasharray="4.6 2.7"/>
<path d="M67.7 123.6 L69.2 120.0 L70.8 116.3 L72.3 112.7 L73.9 109.2 L75.5 105.8 L77.0 102.5 L78.5 99.3 L79.9 96.4 L81.4 93.6 L82.8 91.1 L84.2 88.8 L85.6 86.8 L87.1 85.0 L88.5 83.5 L89.9 82.2 L91.3 81.1 L92.7 80.3 L94.2 79.6 L95.6 79.1 L97.0 78.7 L98.4 78.5 L99.8 78.5 L101.3 78.7 L102.7 79.0 L104.1 79.4 L105.5 80.0 L106.9 80.8 L108.4 81.6 L109.8 82.6 L111.2 83.7 L112.6 84.8 L114.0 86.1 L115.5 87.4 L116.9 88.7 L118.3 90.1 L119.7 91.6 L121.1 93.1 L122.6 94.6 L124.0 96.1 L125.4 97.7 L126.8 99.2 L128.3 100.8 L129.7 102.4 L131.1 104.0 L132.5 105.6 L133.9 107.2 L135.4 108.8 L136.8 110.4 L138.2 112.0 L139.6 113.6 L141.0 115.2 L142.5 116.8 L143.9 118.4 L145.3 120.0 L146.7 121.6 L148.1 123.2 L149.6 124.8 L151.0 126.3 L152.4 127.9 L153.8 129.5 L155.2 131.1 L156.7 132.7 L158.1 134.3 L159.5 135.9 L160.9 137.5 L162.4 139.1 L163.8 140.7 L165.2 142.3 L166.6 143.8 L168.0 145.4 L169.5 147.0 L170.9 148.6 L172.3 150.2 L173.7 151.8 L175.1 153.4 L176.6 155.0 L178.0 156.6 L179.4 158.2 L180.8 159.8 L182.2 161.4 L183.7 163.0 L185.1 164.6 L186.5 166.2 L187.9 167.8 L189.3 169.4 L190.8 171.0 L192.2 172.6 L193.6 174.2 L195.0 175.8 L196.5 177.4 L197.9 179.0 L199.3 180.6 L200.7 182.2 L202.1 183.8 L203.6 185.4 L205.0 187.1 L206.4 188.7 L206.5 188.8" fill="none" stroke="#ff00af" stroke-width="1.7"/>
<path d="M153.0 128.6 L153.7 137.1 L154.6 130.8" fill="none" stroke="#ff00af" stroke-width="1.4"/>
<path d="M28.8 227.2 L30.2 223.3 L31.7 219.5 L33.1 215.6 L34.5 211.8 L35.9 207.9 L37.3 204.1 L38.8 200.2 L40.2 196.4 L41.6 192.5 L43.0 188.7 L44.4 184.8 L45.9 181.0 L47.3 177.1 L48.7 173.3 L50.1 169.4 L51.6 165.6 L53.0 161.7 L54.4 157.9 L55.8 154.1 L57.2 150.2 L58.7 146.4 L60.1 142.6 L61.5 138.8 L63.0 135.0 L64.5 131.2 L66.1 127.4 L66.7 126.0 L67.7 123.7 L69.2 120.0 L70.8 116.3 L72.3 112.7 L73.9 109.2 L75.5 105.8 L77.0 102.5 L78.5 99.3 L79.9 96.4 L81.4 93.6 L82.8 91.1 L84.2 88.8 L85.6 86.8 L87.1 85.0 L88.5 83.5 L89.9 82.2 L91.3 81.1 L92.7 80.3 L94.2 79.6 L95.6 79.1 L97.0 78.7 L98.4 78.5 L99.8 78.5 L101.3 78.7 L102.7 79.0 L104.1 79.4 L105.5 80.0 L106.9 80.8 L108.4 81.6 L109.8 82.6 L111.2 83.7 L112.6 84.8 L114.0 86.1 L115.5 87.4 L116.9 88.7 L118.3 90.1 L119.7 91.6 L121.1 93.1 L122.6 94.6 L124.0 96.1 L125.4 97.7 L126.8 99.2 L128.3 100.8 L129.7 102.4 L131.1 104.0 L132.5 105.6 L133.9 107.2 L135.4 108.8 L136.8 110.4 L138.2 112.0 L139.6 113.6 L141.0 115.2 L142.5 116.8 L143.9 118.4 L145.3 120.0 L146.7 121.6 L148.1 123.2 L149.6 124.8 L151.0 126.3 L152.4 127.9 L153.8 129.5 L155.2 131.1 L156.7 132.7 L158.1 134.3 L159.5 135.9 L160.9 137.5 L162.4 139.1 L163.8 140.7 L165.2 142.3 L166.6 143.8 L168.0 145.4 L169.5 147.0 L170.9 148.6 L172.3 150.2 L173.7 151.8 L175.1 153.4 L176.6 155.0 L178.0 156.6 L179.4 158.2 L180.8 159.8 L182.2 161.4 L183.7 163.0 L185.1 164.6 L186.5 166.2 L187.9 167.8 L189.3 169.4 L190.8 171.0 L192.2 172.6 L193.6 174.2 L195.0 175.8 L196.5 177.4 L197.9 179.0 L199.3 180.6 L200.7 182.2 L202.1 183.8 L203.6 185.4 L205.0 187.1 L206.4 188.7 L206.5 188.8 L207.8 190.3 L209.2 191.9 L210.7 193.5 L212.1 195.1 L213.5 196.7" fill="none" stroke="#000" stroke-width="1.0" stroke-dasharray="4.6 2.7"/>
<path d="M84.6 118.0 L85.0 117.2 L86.5 113.6 L88.1 110.2 L89.6 106.8 L91.2 103.5 L92.7 100.4 L94.2 97.4 L95.6 94.7 L97.0 92.2 L98.4 89.9 L99.8 87.8 L101.3 86.1 L102.7 84.5 L104.1 83.2 L105.5 82.1 L106.9 81.2 L108.4 80.5 L109.8 80.0 L111.2 79.6 L112.6 79.4 L114.0 79.3 L115.5 79.4 L116.9 79.7 L118.3 80.1 L119.7 80.6 L121.1 81.3 L122.6 82.1 L124.0 83.0 L125.4 84.0 L126.8 85.2 L128.3 86.3 L129.7 87.6 L131.1 88.9 L132.5 90.3 L133.9 91.7 L135.4 93.2 L136.8 94.6 L138.2 96.1 L139.6 97.7 L141.0 99.2 L142.5 100.8 L143.9 102.3 L145.3 103.9 L146.7 105.5 L148.1 107.0 L149.6 108.6 L151.0 110.2 L152.4 111.8 L153.8 113.4 L155.2 114.9 L156.7 116.5 L158.1 118.1 L159.5 119.7 L160.9 121.2 L162.4 122.8 L163.8 124.4 L165.2 126.0 L166.6 127.5 L168.0 129.1 L169.5 130.7 L170.9 132.3 L172.3 133.8 L173.7 135.4 L175.1 137.0 L176.6 138.5 L178.0 140.1 L179.4 141.7 L180.8 143.2 L182.2 144.8 L183.7 146.4 L185.1 148.0 L186.5 149.5 L187.9 151.1 L189.3 152.7 L190.8 154.3 L192.2 155.8 L193.6 157.4 L195.0 159.0 L196.5 160.6 L197.9 162.1 L199.3 163.7 L200.7 165.3 L202.1 166.9 L203.6 168.4 L205.0 170.0 L206.4 171.6 L206.5 171.7" fill="none" stroke="#ff0f87" stroke-width="1.7"/>
<path d="M28.8 264.7 L30.2 260.9 L31.7 257.1 L33.1 253.3 L34.5 249.5 L35.9 245.7 L37.3 241.9 L38.8 238.1 L40.2 234.3 L41.6 230.4 L43.0 226.6 L44.4 222.8 L45.9 219.0 L47.3 215.2 L48.7 211.4 L50.1 207.6 L51.6 203.8 L53.0 200.0 L54.4 196.2 L55.8 192.4 L57.2 188.6 L58.7 184.8 L60.1 181.0 L61.5 177.2 L62.9 173.4 L64.3 169.6 L65.8 165.8 L67.2 162.0 L68.6 158.2 L70.0 154.4 L71.4 150.7 L72.9 146.9 L74.3 143.1 L75.7 139.3 L77.1 135.6 L78.7 131.9 L80.3 128.1 L81.8 124.5 L83.4 120.8 L83.8 119.8 L85.0 117.2 L86.5 113.6 L88.1 110.2 L89.6 106.8 L91.2 103.5 L92.7 100.4 L94.2 97.4 L95.6 94.7 L97.0 92.2 L98.4 89.9 L99.8 87.8 L101.3 86.1 L102.7 84.5 L104.1 83.2 L105.5 82.1 L106.9 81.2 L108.4 80.5 L109.8 80.0 L111.2 79.6 L112.6 79.4 L114.0 79.3 L115.5 79.4 L116.9 79.7 L118.3 80.1 L119.7 80.6 L121.1 81.3 L122.6 82.1 L124.0 83.0 L125.4 84.0 L126.8 85.2 L128.3 86.3 L129.7 87.6 L131.1 88.9 L132.5 90.3 L133.9 91.7 L135.4 93.2 L136.8 94.6 L138.2 96.1 L139.6 97.7 L141.0 99.2 L142.5 100.8 L143.9 102.3 L145.3 103.9 L146.7 105.5 L148.1 107.0 L149.6 108.6 L151.0 110.2 L152.4 111.8 L153.8 113.4 L155.2 114.9 L156.7 116.5 L158.1 118.1 L159.5 119.7 L160.9 121.2 L162.4 122.8 L163.8 124.4 L165.2 126.0 L166.6 127.5 L168.0 129.1 L169.5 130.7 L170.9 132.3 L172.3 133.8 L173.7 135.4 L175.1 137.0 L176.6 138.5 L178.0 140.1 L179.4 141.7 L180.8 143.2 L182.2 144.8 L183.7 146.4 L185.1 148.0 L186.5 149.5 L187.9 151.1 L189.3 152.7 L190.8 154.3 L192.2 155.8 L193.6 157.4 L195.0 159.0 L196.5 160.6 L197.9 162.1 L199.3 163.7 L200.7 165.3 L202.1 166.9 L203.6 168.4 L205.0 170.0 L206.4 171.6 L206.5 171.7 L207.8 173.2 L209.2 174.8 L210.7 176.4 L212.1 177.9 L213.5 179.5" fill="none" stroke="#000" stroke-width="1.0" stroke-dasharray="4.6 2.7"/>
<path d="M98.4 121.1 L99.1 119.5 L100.6 116.0 L102.2 112.5 L103.7 109.1 L105.3 105.9 L106.8 102.7 L108.4 99.7 L109.8 96.9 L111.2 94.3 L112.6 91.9 L114.0 89.8 L115.5 87.9 L116.9 86.3 L118.3 84.9 L119.7 83.7 L121.1 82.7 L122.6 81.9 L124.0 81.3 L125.4 80.8 L126.8 80.5 L128.3 80.3 L129.7 80.3 L131.1 80.5 L132.5 80.8 L133.9 81.2 L135.4 81.8 L136.8 82.5 L138.2 83.4 L139.6 84.3 L141.0 85.3 L142.5 86.4 L143.9 87.6 L145.3 88.9 L146.7 90.2 L148.1 91.6 L149.6 93.0 L151.0 94.4 L152.4 95.9 L153.8 97.4 L155.2 98.9 L156.7 100.4 L158.1 101.9 L159.5 103.5 L160.9 105.0 L162.4 106.6 L163.8 108.1 L165.2 109.7 L166.6 111.2 L168.0 112.8 L169.5 114.4 L170.9 115.9 L172.3 117.5 L173.7 119.0 L175.1 120.6 L176.6 122.2 L178.0 123.7 L179.4 125.3 L180.8 126.8 L182.2 128.4 L183.7 129.9 L185.1 131.5 L186.5 133.0 L187.9 134.6 L189.3 136.1 L190.8 137.7 L192.2 139.2 L193.6 140.8 L195.0 142.3 L196.5 143.9 L197.9 145.4 L199.3 147.0 L200.7 148.5 L202.1 150.1 L203.6 151.6 L205.0 153.2 L206.4 154.8 L206.5 154.9" fill="none" stroke="#ff285f" stroke-width="1.7"/>
<path d="M28.8 302.7 L30.2 299.0 L31.7 295.2 L33.1 291.5 L34.5 287.7 L35.9 284.0 L37.3 280.2 L38.8 276.5 L40.2 272.7 L41.6 268.9 L43.0 265.2 L44.4 261.4 L45.9 257.7 L47.3 253.9 L48.7 250.2 L50.1 246.4 L51.6 242.7 L53.0 238.9 L54.4 235.2 L55.8 231.4 L57.2 227.6 L58.7 223.9 L60.1 220.1 L61.5 216.4 L62.9 212.6 L64.3 208.9 L65.8 205.1 L67.2 201.4 L68.6 197.6 L70.0 193.9 L71.4 190.1 L72.9 186.4 L74.3 182.6 L75.7 178.9 L77.1 175.1 L78.5 171.3 L80.0 167.6 L81.4 163.9 L82.8 160.1 L84.2 156.4 L85.7 152.6 L87.1 148.9 L88.5 145.2 L89.9 141.4 L91.3 137.7 L92.8 134.0 L94.4 130.4 L96.0 126.7 L97.5 123.1 L97.5 123.1 L99.1 119.5 L100.6 116.0 L102.2 112.5 L103.7 109.1 L105.3 105.9 L106.8 102.7 L108.4 99.7 L109.8 96.9 L111.2 94.3 L112.6 91.9 L114.0 89.8 L115.5 87.9 L116.9 86.3 L118.3 84.9 L119.7 83.7 L121.1 82.7 L122.6 81.9 L124.0 81.3 L125.4 80.8 L126.8 80.5 L128.3 80.3 L129.7 80.3 L131.1 80.5 L132.5 80.8 L133.9 81.2 L135.4 81.8 L136.8 82.5 L138.2 83.4 L139.6 84.3 L141.0 85.3 L142.5 86.4 L143.9 87.6 L145.3 88.9 L146.7 90.2 L148.1 91.6 L149.6 93.0 L151.0 94.4 L152.4 95.9 L153.8 97.4 L155.2 98.9 L156.7 100.4 L158.1 101.9 L159.5 103.5 L160.9 105.0 L162.4 106.6 L163.8 108.1 L165.2 109.7 L166.6 111.2 L168.0 112.8 L169.5 114.4 L170.9 115.9 L172.3 117.5 L173.7 119.0 L175.1 120.6 L176.6 122.2 L178.0 123.7 L179.4 125.3 L180.8 126.8 L182.2 128.4 L183.7 129.9 L185.1 131.5 L186.5 133.0 L187.9 134.6 L189.3 136.1 L190.8 137.7 L192.2 139.2 L193.6 140.8 L195.0 142.3 L196.5 143.9 L197.9 145.4 L199.3 147.0 L200.7 148.5 L202.1 150.1 L203.6 151.6 L205.0 153.2 L206.4 154.8 L206.5 154.9 L207.8 156.3 L209.2 157.9 L210.7 159.4 L212.1 161.0 L213.5 162.5" fill="none" stroke="#000" stroke-width="1.0" stroke-dasharray="4.6 2.7"/>
<path d="M112.7 123.7 L113.2 122.6 L114.7 119.0 L116.3 115.5 L117.8 112.1 L119.4 108.8 L120.9 105.6 L122.5 102.5 L124.0 99.6 L125.4 96.8 L126.8 94.3 L128.3 92.1 L129.7 90.0 L131.1 88.3 L132.5 86.7 L133.9 85.4 L135.4 84.3 L136.8 83.4 L138.2 82.7 L139.6 82.1 L141.0 81.7 L142.5 81.5 L143.9 81.4 L145.3 81.5 L146.7 81.7 L148.1 82.1 L149.6 82.6 L151.0 83.2 L152.4 84.0 L153.8 84.9 L155.2 85.8 L156.7 86.9 L158.1 88.1 L159.5 89.3 L160.9 90.6 L162.4 91.9 L163.8 93.3 L165.2 94.7 L166.6 96.2 L168.0 97.6 L169.5 99.1 L170.9 100.7 L172.3 102.2 L173.7 103.7 L175.1 105.3 L176.6 106.8 L178.0 108.4 L179.4 109.9 L180.8 111.5 L182.2 113.0 L183.7 114.6 L185.1 116.2 L186.5 117.7 L187.9 119.3 L189.3 120.8 L190.8 122.4 L192.2 124.0 L193.6 125.5 L195.0 127.1 L196.5 128.6 L197.9 130.2 L199.3 131.7 L200.7 133.3 L202.1 134.8 L203.6 136.4 L205.0 137.9 L206.4 139.5 L206.5 139.6" fill="none" stroke="#ff413c" stroke-width="1.7"/>
<path d="M28.8 343.5 L30.2 339.7 L31.7 336.0 L33.1 332.2 L34.5 328.5 L35.9 324.7 L37.3 320.9 L38.8 317.2 L40.2 313.4 L41.6 309.7 L43.0 305.9 L44.4 302.2 L45.9 298.4 L47.3 294.7 L48.7 290.9 L50.1 287.2 L51.6 283.4 L53.0 279.6 L54.4 275.9 L55.8 272.1 L57.2 268.4 L58.7 264.6 L60.1 260.9 L61.5 257.1 L62.9 253.4 L64.3 249.6 L65.8 245.9 L67.2 242.1 L68.6 238.4 L70.0 234.6 L71.4 230.8 L72.9 227.1 L74.3 223.3 L75.7 219.6 L77.1 215.8 L78.5 212.1 L80.0 208.3 L81.4 204.6 L82.8 200.8 L84.2 197.1 L85.7 193.3 L87.1 189.5 L88.5 185.8 L89.9 182.0 L91.3 178.3 L92.8 174.5 L94.2 170.8 L95.6 167.0 L97.0 163.3 L98.4 159.6 L99.9 155.8 L101.3 152.1 L102.7 148.3 L104.1 144.6 L105.5 140.9 L107.0 137.2 L108.5 133.5 L110.0 129.8 L111.6 126.2 L111.7 126.0 L113.2 122.6 L114.7 119.0 L116.3 115.5 L117.8 112.1 L119.4 108.8 L120.9 105.6 L122.5 102.5 L124.0 99.6 L125.4 96.8 L126.8 94.3 L128.3 92.1 L129.7 90.0 L131.1 88.3 L132.5 86.7 L133.9 85.4 L135.4 84.3 L136.8 83.4 L138.2 82.7 L139.6 82.1 L141.0 81.7 L142.5 81.5 L143.9 81.4 L145.3 81.5 L146.7 81.7 L148.1 82.1 L149.6 82.6 L151.0 83.2 L152.4 84.0 L153.8 84.9 L155.2 85.8 L156.7 86.9 L158.1 88.1 L159.5 89.3 L160.9 90.6 L162.4 91.9 L163.8 93.3 L165.2 94.7 L166.6 96.2 L168.0 97.6 L169.5 99.1 L170.9 100.7 L172.3 102.2 L173.7 103.7 L175.1 105.3 L176.6 106.8 L178.0 108.4 L179.4 109.9 L180.8 111.5 L182.2 113.0 L183.7 114.6 L185.1 116.2 L186.5 117.7 L187.9 119.3 L189.3 120.8 L190.8 122.4 L192.2 124.0 L193.6 125.5 L195.0 127.1 L196.5 128.6 L197.9 130.2 L199.3 131.7 L200.7 133.3 L202.1 134.8 L203.6 136.4 L205.0 137.9 L206.4 139.5 L206.5 139.6 L207.8 141.0 L209.2 142.6 L210.7 144.1 L212.1 145.7 L213.5 147.2" fill="none" stroke="#000" stroke-width="1.0" stroke-dasharray="4.6 2.7"/>
<path d="M126.3 123.3 L127.4 120.7 L129.0 117.2 L130.6 113.8 L132.1 110.4 L133.7 107.2 L135.2 104.1 L136.7 101.2 L138.2 98.5 L139.6 95.9 L141.0 93.6 L142.5 91.6 L143.9 89.8 L145.3 88.3 L146.7 86.9 L148.1 85.8 L149.6 84.9 L151.0 84.2 L152.4 83.6 L153.8 83.2 L155.2 82.9 L156.7 82.8 L158.1 82.9 L159.5 83.1 L160.9 83.4 L162.4 83.9 L163.8 84.6 L165.2 85.3 L166.6 86.2 L168.0 87.2 L169.5 88.2 L170.9 89.4 L172.3 90.6 L173.7 91.9 L175.1 93.2 L176.6 94.6 L178.0 96.0 L179.4 97.5 L180.8 98.9 L182.2 100.4 L183.7 101.9 L185.1 103.5 L186.5 105.0 L187.9 106.5 L189.3 108.1 L190.8 109.6 L192.2 111.2 L193.6 112.8 L195.0 114.3 L196.5 115.9 L197.9 117.4 L199.3 119.0 L200.7 120.6 L202.1 122.1 L203.6 123.7 L205.0 125.2 L206.4 126.8 L206.5 126.9" fill="none" stroke="#ff6419" stroke-width="1.7"/>
<path d="M28.8 379.0 L30.2 375.2 L31.7 371.5 L33.1 367.7 L34.5 363.9 L35.9 360.2 L37.3 356.4 L38.8 352.7 L40.2 348.9 L41.6 345.2 L43.0 341.4 L44.4 337.7 L45.9 333.9 L47.3 330.2 L48.7 326.4 L50.1 322.6 L51.6 318.9 L53.0 315.1 L54.4 311.4 L55.8 307.6 L57.2 303.9 L58.7 300.1 L60.1 296.4 L61.5 292.6 L62.9 288.9 L64.3 285.1 L65.8 281.3 L67.2 277.6 L68.6 273.8 L70.0 270.1 L71.4 266.3 L72.9 262.6 L74.3 258.8 L75.7 255.1 L77.1 251.3 L78.5 247.6 L80.0 243.8 L81.4 240.0 L82.8 236.3 L84.2 232.5 L85.7 228.8 L87.1 225.0 L88.5 221.3 L89.9 217.5 L91.3 213.8 L92.8 210.0 L94.2 206.3 L95.6 202.5 L97.0 198.8 L98.4 195.0 L99.9 191.2 L101.3 187.5 L102.7 183.7 L104.1 180.0 L105.5 176.2 L107.0 172.5 L108.4 168.7 L109.8 165.0 L111.2 161.2 L112.6 157.5 L114.1 153.8 L115.5 150.0 L116.9 146.3 L118.3 142.6 L119.7 138.9 L121.2 135.2 L122.8 131.5 L124.3 127.9 L125.3 125.6 L125.9 124.3 L127.4 120.7 L129.0 117.2 L130.6 113.8 L132.1 110.4 L133.7 107.2 L135.2 104.1 L136.7 101.2 L138.2 98.5 L139.6 95.9 L141.0 93.6 L142.5 91.6 L143.9 89.8 L145.3 88.3 L146.7 86.9 L148.1 85.8 L149.6 84.9 L151.0 84.2 L152.4 83.6 L153.8 83.2 L155.2 82.9 L156.7 82.8 L158.1 82.9 L159.5 83.1 L160.9 83.4 L162.4 83.9 L163.8 84.6 L165.2 85.3 L166.6 86.2 L168.0 87.2 L169.5 88.2 L170.9 89.4 L172.3 90.6 L173.7 91.9 L175.1 93.2 L176.6 94.6 L178.0 96.0 L179.4 97.5 L180.8 98.9 L182.2 100.4 L183.7 101.9 L185.1 103.5 L186.5 105.0 L187.9 106.5 L189.3 108.1 L190.8 109.6 L192.2 111.2 L193.6 112.8 L195.0 114.3 L196.5 115.9 L197.9 117.4 L199.3 119.0 L200.7 120.6 L202.1 122.1 L203.6 123.7 L205.0 125.2 L206.4 126.8 L206.5 126.9 L207.8 128.3 L209.2 129.9 L210.7 131.4 L212.1 133.0 L213.5 134.5" fill="none" stroke="#000" stroke-width="1.0" stroke-dasharray="4.6 2.7"/>
<path d="M139.1 122.7 L140.3 120.0 L141.8 116.6 L143.4 113.2 L144.9 109.9 L146.5 106.7 L148.0 103.7 L149.5 100.8 L151.0 98.2 L152.4 95.8 L153.8 93.6 L155.2 91.7 L156.7 90.0 L158.1 88.6 L159.5 87.4 L160.9 86.3 L162.4 85.5 L163.8 84.9 L165.2 84.4 L166.6 84.0 L168.0 83.8 L169.5 83.8 L170.9 83.9 L172.3 84.2 L173.7 84.6 L175.1 85.2 L176.6 85.9 L178.0 86.7 L179.4 87.6 L180.8 88.7 L182.2 89.8 L183.7 91.0 L185.1 92.2 L186.5 93.5 L187.9 94.9 L189.3 96.3 L190.8 97.7 L192.2 99.2 L193.6 100.6 L195.0 102.2 L196.5 103.7 L197.9 105.2 L199.3 106.7 L200.7 108.3 L202.1 109.8 L203.6 111.4 L205.0 112.9 L206.4 114.5 L206.5 114.6" fill="none" stroke="#ff8800" stroke-width="1.7"/>
<path d="M28.8 411.9 L30.2 408.2 L31.7 404.4 L33.1 400.7 L34.5 396.9 L35.9 393.2 L37.3 389.4 L38.8 385.7 L40.2 381.9 L41.6 378.1 L43.0 374.4 L44.4 370.6 L45.9 366.9 L47.3 363.1 L48.7 359.4 L50.1 355.6 L51.6 351.9 L53.0 348.1 L54.4 344.4 L55.8 340.6 L57.2 336.8 L58.7 333.1 L60.1 329.3 L61.5 325.6 L62.9 321.8 L64.3 318.1 L65.8 314.3 L67.2 310.6 L68.6 306.8 L70.0 303.1 L71.4 299.3 L72.9 295.6 L74.3 291.8 L75.7 288.0 L77.1 284.3 L78.5 280.5 L80.0 276.8 L81.4 273.0 L82.8 269.3 L84.2 265.5 L85.7 261.8 L87.1 258.0 L88.5 254.3 L89.9 250.5 L91.3 246.7 L92.8 243.0 L94.2 239.2 L95.6 235.5 L97.0 231.7 L98.4 228.0 L99.9 224.2 L101.3 220.5 L102.7 216.7 L104.1 213.0 L105.5 209.2 L107.0 205.4 L108.4 201.7 L109.8 197.9 L111.2 194.2 L112.6 190.4 L114.1 186.7 L115.5 182.9 L116.9 179.2 L118.3 175.4 L119.7 171.7 L121.2 167.9 L122.6 164.2 L124.0 160.4 L125.4 156.7 L126.9 153.0 L128.3 149.2 L129.7 145.5 L131.1 141.8 L132.5 138.1 L134.0 134.4 L135.6 130.8 L137.1 127.1 L138.1 124.9 L138.7 123.6 L140.3 120.0 L141.8 116.6 L143.4 113.2 L144.9 109.9 L146.5 106.7 L148.0 103.7 L149.5 100.8 L151.0 98.2 L152.4 95.8 L153.8 93.6 L155.2 91.7 L156.7 90.0 L158.1 88.6 L159.5 87.4 L160.9 86.3 L162.4 85.5 L163.8 84.9 L165.2 84.4 L166.6 84.0 L168.0 83.8 L169.5 83.8 L170.9 83.9 L172.3 84.2 L173.7 84.6 L175.1 85.2 L176.6 85.9 L178.0 86.7 L179.4 87.6 L180.8 88.7 L182.2 89.8 L183.7 91.0 L185.1 92.2 L186.5 93.5 L187.9 94.9 L189.3 96.3 L190.8 97.7 L192.2 99.2 L193.6 100.6 L195.0 102.2 L196.5 103.7 L197.9 105.2 L199.3 106.7 L200.7 108.3 L202.1 109.8 L203.6 111.4 L205.0 112.9 L206.4 114.5 L206.5 114.6 L207.8 116.1 L209.2 117.6 L210.7 119.2 L212.1 120.7 L213.5 122.3" fill="none" stroke="#000" stroke-width="1.0" stroke-dasharray="4.6 2.7"/>
<path d="M151.5 123.1 L151.5 123.1 L153.1 119.6 L154.6 116.2 L156.2 112.8 L157.7 109.6 L159.3 106.5 L160.8 103.6 L162.3 100.9 L163.8 98.3 L165.2 96.1 L166.6 94.0 L168.0 92.2 L169.5 90.7 L170.9 89.4 L172.3 88.3 L173.7 87.4 L175.1 86.6 L176.6 86.1 L178.0 85.6 L179.4 85.4 L180.8 85.3 L182.2 85.4 L183.7 85.6 L185.1 85.9 L186.5 86.4 L187.9 87.1 L189.3 87.8 L190.8 88.7 L192.2 89.7 L193.6 90.8 L195.0 91.9 L196.5 93.1 L197.9 94.4 L199.3 95.8 L200.7 97.1 L202.1 98.6 L203.6 100.0 L205.0 101.5 L206.4 103.0 L206.5 103.1" fill="none" stroke="#ffac00" stroke-width="1.7"/>
<path d="M28.8 445.1 L30.2 441.4 L31.7 437.6 L33.1 433.9 L34.5 430.1 L35.9 426.4 L37.3 422.6 L38.8 418.9 L40.2 415.1 L41.6 411.4 L43.0 407.6 L44.4 403.8 L45.9 400.1 L47.3 396.3 L48.7 392.6 L50.1 388.8 L51.6 385.1 L53.0 381.3 L54.4 377.6 L55.8 373.8 L57.2 370.1 L58.7 366.3 L60.1 362.5 L61.5 358.8 L62.9 355.0 L64.3 351.3 L65.8 347.5 L67.2 343.8 L68.6 340.0 L70.0 336.3 L71.4 332.5 L72.9 328.8 L74.3 325.0 L75.7 321.3 L77.1 317.5 L78.5 313.7 L80.0 310.0 L81.4 306.2 L82.8 302.5 L84.2 298.7 L85.7 295.0 L87.1 291.2 L88.5 287.5 L89.9 283.7 L91.3 280.0 L92.8 276.2 L94.2 272.4 L95.6 268.7 L97.0 264.9 L98.4 261.2 L99.9 257.4 L101.3 253.7 L102.7 249.9 L104.1 246.2 L105.5 242.4 L107.0 238.7 L108.4 234.9 L109.8 231.1 L111.2 227.4 L112.6 223.6 L114.1 219.9 L115.5 216.1 L116.9 212.4 L118.3 208.6 L119.7 204.9 L121.2 201.1 L122.6 197.4 L124.0 193.6 L125.4 189.9 L126.9 186.1 L128.3 182.3 L129.7 178.6 L131.1 174.8 L132.5 171.1 L134.0 167.4 L135.4 163.6 L136.8 159.9 L138.2 156.1 L139.6 152.4 L141.1 148.7 L142.5 145.0 L143.9 141.3 L145.3 137.6 L146.8 133.9 L148.4 130.3 L149.9 126.7 L150.5 125.4 L151.5 123.1 L153.1 119.6 L154.6 116.2 L156.2 112.8 L157.7 109.6 L159.3 106.5 L160.8 103.6 L162.3 100.9 L163.8 98.3 L165.2 96.1 L166.6 94.0 L168.0 92.2 L169.5 90.7 L170.9 89.4 L172.3 88.3 L173.7 87.4 L175.1 86.6 L176.6 86.1 L178.0 85.6 L179.4 85.4 L180.8 85.3 L182.2 85.4 L183.7 85.6 L185.1 85.9 L186.5 86.4 L187.9 87.1 L189.3 87.8 L190.8 88.7 L192.2 89.7 L193.6 90.8 L195.0 91.9 L196.5 93.1 L197.9 94.4 L199.3 95.8 L200.7 97.1 L202.1 98.6 L203.6 100.0 L205.0 101.5 L206.4 103.0 L206.5 103.1 L207.8 104.5 L209.2 106.0 L210.7 107.5 L212.1 109.1 L213.5 110.6" fill="none" stroke="#000" stroke-width="1.0" stroke-dasharray="4.6 2.7"/>
<path d="M162.3 127.8 L162.7 126.8 L164.3 123.2 L165.8 119.8 L167.4 116.4 L168.9 113.1 L170.5 110.0 L172.0 107.0 L173.6 104.2 L175.1 101.5 L176.6 99.1 L178.0 97.0 L179.4 95.1 L180.8 93.5 L182.2 92.0 L183.7 90.8 L185.1 89.9 L186.5 89.0 L187.9 88.4 L189.3 87.9 L190.8 87.6 L192.2 87.4 L193.6 87.4 L195.0 87.6 L196.5 87.9 L197.9 88.3 L199.3 88.9 L200.7 89.6 L202.1 90.4 L203.6 91.3 L205.0 92.4 L206.4 93.5 L206.5 93.6" fill="none" stroke="#ffd700" stroke-width="1.7"/>
<path d="M28.8 479.0 L30.2 475.2 L31.7 471.4 L33.1 467.7 L34.5 463.9 L35.9 460.2 L37.3 456.4 L38.8 452.7 L40.2 448.9 L41.6 445.2 L43.0 441.4 L44.4 437.7 L45.9 433.9 L47.3 430.1 L48.7 426.4 L50.1 422.6 L51.6 418.9 L53.0 415.1 L54.4 411.4 L55.8 407.6 L57.2 403.9 L58.7 400.1 L60.1 396.4 L61.5 392.6 L62.9 388.9 L64.3 385.1 L65.8 381.3 L67.2 377.6 L68.6 373.8 L70.0 370.1 L71.4 366.3 L72.9 362.6 L74.3 358.8 L75.7 355.1 L77.1 351.3 L78.5 347.6 L80.0 343.8 L81.4 340.0 L82.8 336.3 L84.2 332.5 L85.7 328.8 L87.1 325.0 L88.5 321.3 L89.9 317.5 L91.3 313.8 L92.8 310.0 L94.2 306.3 L95.6 302.5 L97.0 298.7 L98.4 295.0 L99.9 291.2 L101.3 287.5 L102.7 283.7 L104.1 280.0 L105.5 276.2 L107.0 272.5 L108.4 268.7 L109.8 265.0 L111.2 261.2 L112.6 257.4 L114.1 253.7 L115.5 249.9 L116.9 246.2 L118.3 242.4 L119.7 238.7 L121.2 234.9 L122.6 231.2 L124.0 227.4 L125.4 223.7 L126.9 219.9 L128.3 216.1 L129.7 212.4 L131.1 208.6 L132.5 204.9 L134.0 201.1 L135.4 197.4 L136.8 193.6 L138.2 189.9 L139.6 186.1 L141.1 182.4 L142.5 178.6 L143.9 174.9 L145.3 171.1 L146.7 167.4 L148.2 163.6 L149.6 159.9 L151.0 156.2 L152.4 152.4 L153.8 148.7 L155.3 145.0 L156.7 141.3 L158.1 137.6 L159.6 134.0 L161.1 130.5 L161.2 130.4 L162.7 126.8 L164.3 123.2 L165.8 119.8 L167.4 116.4 L168.9 113.1 L170.5 110.0 L172.0 107.0 L173.6 104.2 L175.1 101.5 L176.6 99.1 L178.0 97.0 L179.4 95.1 L180.8 93.5 L182.2 92.0 L183.7 90.8 L185.1 89.9 L186.5 89.0 L187.9 88.4 L189.3 87.9 L190.8 87.6 L192.2 87.4 L193.6 87.4 L195.0 87.6 L196.5 87.9 L197.9 88.3 L199.3 88.9 L200.7 89.6 L202.1 90.4 L203.6 91.3 L205.0 92.4 L206.4 93.5 L206.5 93.6 L207.8 94.7 L209.2 95.9 L210.7 97.3 L212.1 98.6 L213.5 100.0" fill="none" stroke="#000" stroke-width="1.0" stroke-dasharray="4.6 2.7"/>
</g>
<g clip-path="url(#clipcL)">
<path d="M39.0 269.9 L39.0 269.9 L39.0 269.8 L39.0 269.8 L39.0 269.7 L39.0 269.6 L39.0 269.5 L39.0 269.3 L39.0 269.1 L39.0 268.9 L39.0 268.7 L39.0 268.4 L39.0 268.1 L39.0 267.7 L39.0 267.2 L39.0 266.6 L39.1 265.9 L39.1 265.1 L39.1 264.2 L39.2 263.0 L39.3 261.7 L39.4 260.1 L39.6 258.2 L39.8 256.0 L40.1 253.4 L40.5 250.4 L41.1 246.9 L42.0 243.0 L43.1 238.5 L44.5 233.7 L46.4 228.6 L48.7 223.3 L51.5 218.1 L54.8 213.1 L58.5 208.5 L62.5 204.4 L66.8 201.0 L71.4 198.2 L76.1 196.0 L80.9 194.5 L85.8 193.7 L90.8 193.6 L95.7 194.2 L100.4 195.4 L105.0 197.2 L109.4 199.5 L113.6 202.2 L117.5 205.2 L121.1 208.4 L124.4 211.8 L127.5 215.1 L130.3 218.4 L132.9 221.7 L135.2 224.8 L137.4 227.8 L139.4 230.6 L141.2 233.3 L142.9 235.8 L144.5 238.2 L145.9 240.4 L147.2 242.5 L148.5 244.4 L149.6 246.2 L150.6 247.9 L151.6 249.5 L152.5 250.9 L153.4 252.3 L154.1 253.5 L154.9 254.7 L155.6 255.8 L156.2 256.8 L156.8 257.7 L157.3 258.6 L157.8 259.4 L158.3 260.1 L158.7 260.8 L159.1 261.5 L159.5 262.1 L159.9 262.6 L160.2 263.2 L160.5 263.7 L160.8 264.1 L161.1 264.5 L161.3 264.9 L161.5 265.3 L161.8 265.6 L162.0 266.0 L162.1 266.2 L162.3 266.5 L162.5 266.8 L162.6 267.0 L162.8 267.2 L162.9 267.4 L163.0 267.6 L163.1 267.8 L163.2 268.0 L163.3 268.1 L163.4 268.3 L163.5 268.4 L163.6 268.5 L163.6 268.7 L163.7 268.8 L163.8 268.9 L163.8 269.0 L163.9 269.0 L163.9 269.1 L164.0 269.2 L164.0 269.3 L164.1 269.3 L164.1 269.4 L164.1 269.5 L164.2 269.5 L164.2 269.6 L164.2 269.6 L164.3 269.6 L164.3 269.7 L164.3 269.7 L164.3 269.8 L164.3 269.8 L164.4 269.8" fill="none" stroke="#ff00ff" stroke-width="1.9"/>
<path d="M39.0 269.9 L39.0 269.9 L39.0 269.8 L39.0 269.8 L39.0 269.7 L39.0 269.6 L39.0 269.5 L39.0 269.3 L39.0 269.1 L39.0 268.9 L39.0 268.7 L39.0 268.4 L39.0 268.1 L39.0 267.7 L39.0 267.2 L39.0 266.6 L39.1 265.9 L39.1 265.1 L39.1 264.2 L39.2 263.0 L39.3 261.7 L39.4 260.1 L39.6 258.2 L39.8 256.0 L40.1 253.4 L40.5 250.4 L41.1 246.9 L42.0 243.0 L43.1 238.6 L44.5 233.7 L46.4 228.6 L48.7 223.4 L51.5 218.2 L54.8 213.2 L58.5 208.7 L62.5 204.8 L66.8 201.4 L71.4 198.7 L76.1 196.6 L80.9 195.2 L85.8 194.3 L90.8 194.2 L95.7 194.7 L100.4 195.9 L105.0 197.7 L109.4 200.0 L113.6 202.6 L117.5 205.6 L121.1 208.8 L124.4 212.1 L127.5 215.4 L130.3 218.7 L132.9 221.9 L135.2 225.0 L137.4 228.0 L139.4 230.8 L141.2 233.5 L142.9 236.0 L144.5 238.3 L145.9 240.5 L147.2 242.6 L148.5 244.5 L149.6 246.3 L150.6 248.0 L151.6 249.5 L152.5 251.0 L153.4 252.3 L154.1 253.6 L154.9 254.7 L155.6 255.8 L156.2 256.8 L156.8 257.7 L157.3 258.6 L157.8 259.4 L158.3 260.1 L158.7 260.8 L159.1 261.5 L159.5 262.1 L159.9 262.7 L160.2 263.2 L160.5 263.7 L160.8 264.1 L161.1 264.5 L161.3 264.9 L161.5 265.3 L161.8 265.6 L162.0 266.0 L162.1 266.3 L162.3 266.5 L162.5 266.8 L162.6 267.0 L162.8 267.2 L162.9 267.5 L163.0 267.6 L163.1 267.8 L163.2 268.0 L163.3 268.1 L163.4 268.3 L163.5 268.4 L163.6 268.5 L163.6 268.7 L163.7 268.8 L163.8 268.9 L163.8 269.0 L163.9 269.1 L163.9 269.1 L164.0 269.2 L164.0 269.3 L164.1 269.3 L164.1 269.4 L164.1 269.5 L164.2 269.5 L164.2 269.6 L164.2 269.6 L164.3 269.6 L164.3 269.7 L164.3 269.7 L164.3 269.8 L164.3 269.8 L164.4 269.8" fill="none" stroke="#ff00d7" stroke-width="1.9"/>
<path d="M39.0 269.9 L39.0 269.9 L39.0 269.8 L39.0 269.8 L39.0 269.7 L39.0 269.6 L39.0 269.5 L39.0 269.3 L39.0 269.1 L39.0 268.9 L39.0 268.7 L39.0 268.4 L39.0 268.1 L39.0 267.7 L39.0 267.2 L39.0 266.6 L39.1 265.9 L39.1 265.1 L39.1 264.2 L39.2 263.0 L39.3 261.7 L39.4 260.1 L39.6 258.2 L39.8 256.0 L40.1 253.4 L40.5 250.4 L41.1 246.9 L42.0 243.0 L43.1 238.6 L44.5 233.8 L46.4 228.7 L48.7 223.4 L51.5 218.3 L54.8 213.4 L58.5 208.9 L62.5 205.0 L66.8 201.7 L71.4 199.1 L76.1 197.1 L80.9 195.7 L85.8 194.9 L90.8 194.7 L95.7 195.2 L100.4 196.4 L105.0 198.1 L109.4 200.3 L113.6 203.0 L117.5 205.9 L121.1 209.1 L124.4 212.3 L127.5 215.6 L130.3 218.9 L132.9 222.1 L135.2 225.1 L137.4 228.1 L139.4 230.9 L141.2 233.6 L142.9 236.1 L144.5 238.4 L145.9 240.6 L147.2 242.7 L148.5 244.6 L149.6 246.4 L150.6 248.0 L151.6 249.6 L152.5 251.0 L153.4 252.3 L154.1 253.6 L154.9 254.7 L155.6 255.8 L156.2 256.8 L156.8 257.7 L157.3 258.6 L157.8 259.4 L158.3 260.2 L158.7 260.9 L159.1 261.5 L159.5 262.1 L159.9 262.7 L160.2 263.2 L160.5 263.7 L160.8 264.1 L161.1 264.6 L161.3 264.9 L161.5 265.3 L161.8 265.6 L162.0 266.0 L162.1 266.3 L162.3 266.5 L162.5 266.8 L162.6 267.0 L162.8 267.2 L162.9 267.5 L163.0 267.6 L163.1 267.8 L163.2 268.0 L163.3 268.1 L163.4 268.3 L163.5 268.4 L163.6 268.5 L163.6 268.7 L163.7 268.8 L163.8 268.9 L163.8 269.0 L163.9 269.1 L163.9 269.1 L164.0 269.2 L164.0 269.3 L164.1 269.3 L164.1 269.4 L164.1 269.5 L164.2 269.5 L164.2 269.6 L164.2 269.6 L164.3 269.6 L164.3 269.7 L164.3 269.7 L164.3 269.8 L164.3 269.8 L164.4 269.8" fill="none" stroke="#ff00af" stroke-width="1.9"/>
<path d="M39.0 269.9 L39.0 269.9 L39.0 269.8 L39.0 269.8 L39.0 269.7 L39.0 269.6 L39.0 269.5 L39.0 269.3 L39.0 269.1 L39.0 268.9 L39.0 268.7 L39.0 268.4 L39.0 268.1 L39.0 267.7 L39.0 267.2 L39.0 266.6 L39.1 265.9 L39.1 265.1 L39.1 264.2 L39.2 263.0 L39.3 261.7 L39.4 260.1 L39.6 258.2 L39.8 256.0 L40.1 253.4 L40.5 250.4 L41.1 246.9 L42.0 243.0 L43.1 238.6 L44.5 233.8 L46.4 228.7 L48.7 223.5 L51.5 218.3 L54.8 213.5 L58.5 209.0 L62.5 205.2 L66.8 201.9 L71.4 199.4 L76.1 197.4 L80.9 196.0 L85.8 195.2 L90.8 195.1 L95.7 195.6 L100.4 196.7 L105.0 198.4 L109.4 200.6 L113.6 203.2 L117.5 206.1 L121.1 209.3 L124.4 212.5 L127.5 215.8 L130.3 219.0 L132.9 222.2 L135.2 225.3 L137.4 228.2 L139.4 231.0 L141.2 233.7 L142.9 236.1 L144.5 238.5 L145.9 240.7 L147.2 242.7 L148.5 244.6 L149.6 246.4 L150.6 248.1 L151.6 249.6 L152.5 251.0 L153.4 252.4 L154.1 253.6 L154.9 254.8 L155.6 255.8 L156.2 256.8 L156.8 257.8 L157.3 258.6 L157.8 259.4 L158.3 260.2 L158.7 260.9 L159.1 261.5 L159.5 262.1 L159.9 262.7 L160.2 263.2 L160.5 263.7 L160.8 264.1 L161.1 264.6 L161.3 264.9 L161.5 265.3 L161.8 265.7 L162.0 266.0 L162.1 266.3 L162.3 266.5 L162.5 266.8 L162.6 267.0 L162.8 267.3 L162.9 267.5 L163.0 267.6 L163.1 267.8 L163.2 268.0 L163.3 268.1 L163.4 268.3 L163.5 268.4 L163.6 268.5 L163.6 268.7 L163.7 268.8 L163.8 268.9 L163.8 269.0 L163.9 269.1 L163.9 269.1 L164.0 269.2 L164.0 269.3 L164.1 269.3 L164.1 269.4 L164.1 269.5 L164.2 269.5 L164.2 269.6 L164.2 269.6 L164.3 269.6 L164.3 269.7 L164.3 269.7 L164.3 269.8 L164.3 269.8 L164.4 269.8" fill="none" stroke="#ff0f87" stroke-width="1.9"/>
<path d="M39.0 269.9 L39.0 269.9 L39.0 269.8 L39.0 269.8 L39.0 269.7 L39.0 269.6 L39.0 269.5 L39.0 269.3 L39.0 269.1 L39.0 268.9 L39.0 268.7 L39.0 268.4 L39.0 268.1 L39.0 267.7 L39.0 267.2 L39.0 266.6 L39.1 265.9 L39.1 265.1 L39.1 264.2 L39.2 263.0 L39.3 261.7 L39.4 260.1 L39.6 258.2 L39.8 256.0 L40.1 253.4 L40.5 250.4 L41.1 246.9 L42.0 243.0 L43.1 238.6 L44.5 233.8 L46.4 228.7 L48.7 223.5 L51.5 218.4 L54.8 213.5 L58.5 209.1 L62.5 205.3 L66.8 202.1 L71.4 199.5 L76.1 197.6 L80.9 196.3 L85.8 195.5 L90.8 195.3 L95.7 195.8 L100.4 196.9 L105.0 198.6 L109.4 200.8 L113.6 203.4 L117.5 206.3 L121.1 209.4 L124.4 212.6 L127.5 215.9 L130.3 219.1 L132.9 222.3 L135.2 225.3 L137.4 228.3 L139.4 231.1 L141.2 233.7 L142.9 236.2 L144.5 238.5 L145.9 240.7 L147.2 242.8 L148.5 244.7 L149.6 246.4 L150.6 248.1 L151.6 249.6 L152.5 251.1 L153.4 252.4 L154.1 253.6 L154.9 254.8 L155.6 255.9 L156.2 256.8 L156.8 257.8 L157.3 258.6 L157.8 259.4 L158.3 260.2 L158.7 260.9 L159.1 261.5 L159.5 262.1 L159.9 262.7 L160.2 263.2 L160.5 263.7 L160.8 264.1 L161.1 264.6 L161.3 265.0 L161.5 265.3 L161.8 265.7 L162.0 266.0 L162.1 266.3 L162.3 266.5 L162.5 266.8 L162.6 267.0 L162.8 267.3 L162.9 267.5 L163.0 267.7 L163.1 267.8 L163.2 268.0 L163.3 268.1 L163.4 268.3 L163.5 268.4 L163.6 268.6 L163.6 268.7 L163.7 268.8 L163.8 268.9 L163.8 269.0 L163.9 269.1 L163.9 269.1 L164.0 269.2 L164.0 269.3 L164.1 269.3 L164.1 269.4 L164.1 269.5 L164.2 269.5 L164.2 269.6 L164.2 269.6 L164.3 269.6 L164.3 269.7 L164.3 269.7 L164.3 269.8 L164.3 269.8 L164.4 269.8" fill="none" stroke="#ff285f" stroke-width="1.9"/>
<path d="M39.0 269.9 L39.0 269.9 L39.0 269.8 L39.0 269.8 L39.0 269.7 L39.0 269.6 L39.0 269.5 L39.0 269.3 L39.0 269.1 L39.0 268.9 L39.0 268.7 L39.0 268.4 L39.0 268.1 L39.0 267.7 L39.0 267.2 L39.0 266.6 L39.1 265.9 L39.1 265.1 L39.1 264.2 L39.2 263.0 L39.3 261.7 L39.4 260.1 L39.6 258.2 L39.8 256.0 L40.1 253.4 L40.5 250.4 L41.1 246.9 L42.0 243.0 L43.1 238.6 L44.5 233.8 L46.4 228.7 L48.7 223.5 L51.5 218.4 L54.8 213.6 L58.5 209.2 L62.5 205.4 L66.8 202.3 L71.4 199.7 L76.1 197.9 L80.9 196.6 L85.8 195.8 L90.8 195.6 L95.7 196.0 L100.4 197.1 L105.0 198.8 L109.4 201.0 L113.6 203.6 L117.5 206.5 L121.1 209.5 L124.4 212.7 L127.5 216.0 L130.3 219.2 L132.9 222.4 L135.2 225.4 L137.4 228.3 L139.4 231.1 L141.2 233.8 L142.9 236.2 L144.5 238.6 L145.9 240.8 L147.2 242.8 L148.5 244.7 L149.6 246.5 L150.6 248.1 L151.6 249.7 L152.5 251.1 L153.4 252.4 L154.1 253.7 L154.9 254.8 L155.6 255.9 L156.2 256.9 L156.8 257.8 L157.3 258.6 L157.8 259.4 L158.3 260.2 L158.7 260.9 L159.1 261.5 L159.5 262.1 L159.9 262.7 L160.2 263.2 L160.5 263.7 L160.8 264.1 L161.1 264.6 L161.3 265.0 L161.5 265.3 L161.8 265.7 L162.0 266.0 L162.1 266.3 L162.3 266.5 L162.5 266.8 L162.6 267.0 L162.8 267.3 L162.9 267.5 L163.0 267.7 L163.1 267.8 L163.2 268.0 L163.3 268.2 L163.4 268.3 L163.5 268.4 L163.6 268.6 L163.6 268.7 L163.7 268.8 L163.8 268.9 L163.8 269.0 L163.9 269.1 L163.9 269.1 L164.0 269.2 L164.0 269.3 L164.1 269.3 L164.1 269.4 L164.1 269.5 L164.2 269.5 L164.2 269.6 L164.2 269.6 L164.3 269.6 L164.3 269.7 L164.3 269.7 L164.3 269.8 L164.3 269.8 L164.4 269.8" fill="none" stroke="#ff413c" stroke-width="1.9"/>
<path d="M39.0 269.9 L39.0 269.9 L39.0 269.8 L39.0 269.8 L39.0 269.7 L39.0 269.6 L39.0 269.5 L39.0 269.3 L39.0 269.1 L39.0 268.9 L39.0 268.7 L39.0 268.4 L39.0 268.1 L39.0 267.7 L39.0 267.2 L39.0 266.6 L39.1 265.9 L39.1 265.1 L39.1 264.2 L39.2 263.0 L39.3 261.7 L39.4 260.1 L39.6 258.2 L39.8 256.0 L40.1 253.4 L40.5 250.4 L41.1 246.9 L42.0 243.0 L43.1 238.6 L44.5 233.8 L46.4 228.7 L48.7 223.6 L51.5 218.5 L54.8 213.7 L58.5 209.3 L62.5 205.5 L66.8 202.4 L71.4 199.9 L76.1 198.1 L80.9 196.8 L85.8 196.0 L90.8 195.8 L95.7 196.3 L100.4 197.4 L105.0 199.0 L109.4 201.2 L113.6 203.7 L117.5 206.6 L121.1 209.7 L124.4 212.9 L127.5 216.1 L130.3 219.3 L132.9 222.4 L135.2 225.5 L137.4 228.4 L139.4 231.2 L141.2 233.8 L142.9 236.3 L144.5 238.6 L145.9 240.8 L147.2 242.8 L148.5 244.7 L149.6 246.5 L150.6 248.1 L151.6 249.7 L152.5 251.1 L153.4 252.4 L154.1 253.7 L154.9 254.8 L155.6 255.9 L156.2 256.9 L156.8 257.8 L157.3 258.7 L157.8 259.5 L158.3 260.2 L158.7 260.9 L159.1 261.5 L159.5 262.1 L159.9 262.7 L160.2 263.2 L160.5 263.7 L160.8 264.2 L161.1 264.6 L161.3 265.0 L161.5 265.3 L161.8 265.7 L162.0 266.0 L162.1 266.3 L162.3 266.5 L162.5 266.8 L162.6 267.0 L162.8 267.3 L162.9 267.5 L163.0 267.7 L163.1 267.8 L163.2 268.0 L163.3 268.2 L163.4 268.3 L163.5 268.4 L163.6 268.6 L163.6 268.7 L163.7 268.8 L163.8 268.9 L163.8 269.0 L163.9 269.1 L163.9 269.1 L164.0 269.2 L164.0 269.3 L164.1 269.3 L164.1 269.4 L164.1 269.5 L164.2 269.5 L164.2 269.6 L164.2 269.6 L164.3 269.6 L164.3 269.7 L164.3 269.7 L164.3 269.8 L164.3 269.8 L164.4 269.8" fill="none" stroke="#ff6419" stroke-width="1.9"/>
<path d="M39.0 269.9 L39.0 269.9 L39.0 269.8 L39.0 269.8 L39.0 269.7 L39.0 269.6 L39.0 269.5 L39.0 269.3 L39.0 269.1 L39.0 268.9 L39.0 268.7 L39.0 268.4 L39.0 268.1 L39.0 267.7 L39.0 267.2 L39.0 266.6 L39.1 265.9 L39.1 265.1 L39.1 264.2 L39.2 263.0 L39.3 261.7 L39.4 260.1 L39.6 258.2 L39.8 256.0 L40.1 253.4 L40.5 250.4 L41.1 246.9 L42.0 243.0 L43.1 238.6 L44.5 233.8 L46.4 228.8 L48.7 223.6 L51.5 218.5 L54.8 213.8 L58.5 209.5 L62.5 205.7 L66.8 202.6 L71.4 200.2 L76.1 198.4 L80.9 197.2 L85.8 196.4 L90.8 196.2 L95.7 196.6 L100.4 197.7 L105.0 199.3 L109.4 201.4 L113.6 204.0 L117.5 206.8 L121.1 209.9 L124.4 213.0 L127.5 216.3 L130.3 219.4 L132.9 222.6 L135.2 225.6 L137.4 228.5 L139.4 231.3 L141.2 233.9 L142.9 236.4 L144.5 238.7 L145.9 240.9 L147.2 242.9 L148.5 244.8 L149.6 246.5 L150.6 248.2 L151.6 249.7 L152.5 251.1 L153.4 252.5 L154.1 253.7 L154.9 254.8 L155.6 255.9 L156.2 256.9 L156.8 257.8 L157.3 258.7 L157.8 259.5 L158.3 260.2 L158.7 260.9 L159.1 261.5 L159.5 262.1 L159.9 262.7 L160.2 263.2 L160.5 263.7 L160.8 264.2 L161.1 264.6 L161.3 265.0 L161.5 265.3 L161.8 265.7 L162.0 266.0 L162.1 266.3 L162.3 266.6 L162.5 266.8 L162.6 267.0 L162.8 267.3 L162.9 267.5 L163.0 267.7 L163.1 267.8 L163.2 268.0 L163.3 268.2 L163.4 268.3 L163.5 268.4 L163.6 268.6 L163.6 268.7 L163.7 268.8 L163.8 268.9 L163.8 269.0 L163.9 269.1 L163.9 269.1 L164.0 269.2 L164.0 269.3 L164.1 269.3 L164.1 269.4 L164.1 269.5 L164.2 269.5 L164.2 269.6 L164.2 269.6 L164.3 269.6 L164.3 269.7 L164.3 269.7 L164.3 269.8 L164.3 269.8 L164.4 269.8" fill="none" stroke="#ff8800" stroke-width="1.9"/>
<path d="M39.0 269.9 L39.0 269.9 L39.0 269.8 L39.0 269.8 L39.0 269.7 L39.0 269.6 L39.0 269.5 L39.0 269.3 L39.0 269.1 L39.0 268.9 L39.0 268.7 L39.0 268.4 L39.0 268.1 L39.0 267.7 L39.0 267.2 L39.0 266.6 L39.1 265.9 L39.1 265.1 L39.1 264.2 L39.2 263.0 L39.3 261.7 L39.4 260.1 L39.6 258.2 L39.8 256.0 L40.1 253.4 L40.5 250.4 L41.1 246.9 L42.0 243.0 L43.1 238.6 L44.5 233.8 L46.4 228.8 L48.7 223.7 L51.5 218.6 L54.8 213.9 L58.5 209.6 L62.5 205.9 L66.8 202.9 L71.4 200.5 L76.1 198.8 L80.9 197.6 L85.8 196.8 L90.8 196.6 L95.7 197.0 L100.4 198.0 L105.0 199.6 L109.4 201.7 L113.6 204.2 L117.5 207.1 L121.1 210.1 L124.4 213.2 L127.5 216.4 L130.3 219.6 L132.9 222.7 L135.2 225.7 L137.4 228.6 L139.4 231.4 L141.2 234.0 L142.9 236.4 L144.5 238.8 L145.9 240.9 L147.2 242.9 L148.5 244.8 L149.6 246.6 L150.6 248.2 L151.6 249.8 L152.5 251.2 L153.4 252.5 L154.1 253.7 L154.9 254.9 L155.6 255.9 L156.2 256.9 L156.8 257.8 L157.3 258.7 L157.8 259.5 L158.3 260.2 L158.7 260.9 L159.1 261.6 L159.5 262.2 L159.9 262.7 L160.2 263.2 L160.5 263.7 L160.8 264.2 L161.1 264.6 L161.3 265.0 L161.5 265.3 L161.8 265.7 L162.0 266.0 L162.1 266.3 L162.3 266.6 L162.5 266.8 L162.6 267.0 L162.8 267.3 L162.9 267.5 L163.0 267.7 L163.1 267.8 L163.2 268.0 L163.3 268.2 L163.4 268.3 L163.5 268.4 L163.6 268.6 L163.6 268.7 L163.7 268.8 L163.8 268.9 L163.8 269.0 L163.9 269.1 L163.9 269.1 L164.0 269.2 L164.0 269.3 L164.1 269.3 L164.1 269.4 L164.1 269.5 L164.2 269.5 L164.2 269.6 L164.2 269.6 L164.3 269.6 L164.3 269.7 L164.3 269.7 L164.3 269.8 L164.3 269.8 L164.4 269.8" fill="none" stroke="#ffac00" stroke-width="1.9"/>
<path d="M39.0 269.9 L39.0 269.9 L39.0 269.8 L39.0 269.8 L39.0 269.7 L39.0 269.6 L39.0 269.5 L39.0 269.3 L39.0 269.1 L39.0 268.9 L39.0 268.7 L39.0 268.4 L39.0 268.1 L39.0 267.7 L39.0 267.2 L39.0 266.6 L39.1 265.9 L39.1 265.1 L39.1 264.2 L39.2 263.0 L39.3 261.7 L39.4 260.1 L39.6 258.2 L39.8 256.0 L40.1 253.4 L40.5 250.4 L41.1 246.9 L42.0 243.0 L43.1 238.6 L44.5 233.8 L46.4 228.8 L48.7 223.6 L51.5 218.5 L54.8 213.7 L58.5 209.4 L62.5 205.6 L66.8 202.5 L71.4 200.0 L76.1 198.2 L80.9 196.9 L85.8 196.1 L90.8 196.0 L95.7 196.4 L100.4 197.5 L105.0 199.1 L109.4 201.3 L113.6 203.8 L117.5 206.7 L121.1 209.7 L124.4 212.9 L127.5 216.1 L130.3 219.4 L132.9 222.5 L135.2 225.5 L137.4 228.4 L139.4 231.2 L141.2 233.8 L142.9 236.3 L144.5 238.6 L145.9 240.8 L147.2 242.8 L148.5 244.7 L149.6 246.5 L150.6 248.2 L151.6 249.7 L152.5 251.1 L153.4 252.4 L154.1 253.7 L154.9 254.8 L155.6 255.9 L156.2 256.9 L156.8 257.8 L157.3 258.7 L157.8 259.5 L158.3 260.2 L158.7 260.9 L159.1 261.5 L159.5 262.1 L159.9 262.7 L160.2 263.2 L160.5 263.7 L160.8 264.2 L161.1 264.6 L161.3 265.0 L161.5 265.3 L161.8 265.7 L162.0 266.0 L162.1 266.3 L162.3 266.5 L162.5 266.8 L162.6 267.0 L162.8 267.3 L162.9 267.5 L163.0 267.7 L163.1 267.8 L163.2 268.0 L163.3 268.2 L163.4 268.3 L163.5 268.4 L163.6 268.6 L163.6 268.7 L163.7 268.8 L163.8 268.9 L163.8 269.0 L163.9 269.1 L163.9 269.1 L164.0 269.2 L164.0 269.3 L164.1 269.3 L164.1 269.4 L164.1 269.5 L164.2 269.5 L164.2 269.6 L164.2 269.6 L164.3 269.6 L164.3 269.7 L164.3 269.7 L164.3 269.8 L164.3 269.8 L164.4 269.8" fill="none" stroke="#ffd700" stroke-width="1.1"/>
</g>
<g fill="none" stroke="#1c1c1c" stroke-width="1.30">
<rect x="32.90" y="-27.70" width="178.30" height="86.70"/>
<rect x="32.90" y="63.30" width="178.30" height="86.20"/>
<rect x="33.10" y="181.20" width="138.20" height="93.80"/>
</g>
<g stroke="#111" stroke-width="1.0">
<line x1="34.35" y1="59.00" x2="34.35" y2="56.60"/>
<line x1="34.35" y1="63.30" x2="34.35" y2="65.70"/>
<line x1="34.35" y1="149.50" x2="34.35" y2="147.10"/>
<line x1="35.91" y1="59.00" x2="35.91" y2="56.60"/>
<line x1="35.91" y1="63.30" x2="35.91" y2="65.70"/>
<line x1="35.91" y1="149.50" x2="35.91" y2="147.10"/>
<line x1="37.25" y1="59.00" x2="37.25" y2="56.60"/>
<line x1="37.25" y1="63.30" x2="37.25" y2="65.70"/>
<line x1="37.25" y1="149.50" x2="37.25" y2="147.10"/>
<line x1="38.44" y1="59.00" x2="38.44" y2="56.60"/>
<line x1="38.44" y1="63.30" x2="38.44" y2="65.70"/>
<line x1="38.44" y1="149.50" x2="38.44" y2="147.10"/>
<line x1="39.50" y1="59.00" x2="39.50" y2="54.40"/>
<line x1="39.50" y1="63.30" x2="39.50" y2="67.90"/>
<line x1="39.50" y1="149.50" x2="39.50" y2="144.90"/>
<line x1="46.48" y1="59.00" x2="46.48" y2="56.60"/>
<line x1="46.48" y1="63.30" x2="46.48" y2="65.70"/>
<line x1="46.48" y1="149.50" x2="46.48" y2="147.10"/>
<line x1="50.57" y1="59.00" x2="50.57" y2="56.60"/>
<line x1="50.57" y1="63.30" x2="50.57" y2="65.70"/>
<line x1="50.57" y1="149.50" x2="50.57" y2="147.10"/>
<line x1="53.47" y1="59.00" x2="53.47" y2="56.60"/>
<line x1="53.47" y1="63.30" x2="53.47" y2="65.70"/>
<line x1="53.47" y1="149.50" x2="53.47" y2="147.10"/>
<line x1="55.72" y1="59.00" x2="55.72" y2="56.60"/>
<line x1="55.72" y1="63.30" x2="55.72" y2="65.70"/>
<line x1="55.72" y1="149.50" x2="55.72" y2="147.10"/>
<line x1="57.55" y1="59.00" x2="57.55" y2="56.60"/>
<line x1="57.55" y1="63.30" x2="57.55" y2="65.70"/>
<line x1="57.55" y1="149.50" x2="57.55" y2="147.10"/>
<line x1="59.11" y1="59.00" x2="59.11" y2="56.60"/>
<line x1="59.11" y1="63.30" x2="59.11" y2="65.70"/>
<line x1="59.11" y1="149.50" x2="59.11" y2="147.10"/>
<line x1="60.45" y1="59.00" x2="60.45" y2="56.60"/>
<line x1="60.45" y1="63.30" x2="60.45" y2="65.70"/>
<line x1="60.45" y1="149.50" x2="60.45" y2="147.10"/>
<line x1="61.64" y1="59.00" x2="61.64" y2="56.60"/>
<line x1="61.64" y1="63.30" x2="61.64" y2="65.70"/>
<line x1="61.64" y1="149.50" x2="61.64" y2="147.10"/>
<line x1="62.70" y1="59.00" x2="62.70" y2="54.40"/>
<line x1="62.70" y1="63.30" x2="62.70" y2="67.90"/>
<line x1="62.70" y1="149.50" x2="62.70" y2="144.90"/>
<line x1="69.68" y1="59.00" x2="69.68" y2="56.60"/>
<line x1="69.68" y1="63.30" x2="69.68" y2="65.70"/>
<line x1="69.68" y1="149.50" x2="69.68" y2="147.10"/>
<line x1="73.77" y1="59.00" x2="73.77" y2="56.60"/>
<line x1="73.77" y1="63.30" x2="73.77" y2="65.70"/>
<line x1="73.77" y1="149.50" x2="73.77" y2="147.10"/>
<line x1="76.67" y1="59.00" x2="76.67" y2="56.60"/>
<line x1="76.67" y1="63.30" x2="76.67" y2="65.70"/>
<line x1="76.67" y1="149.50" x2="76.67" y2="147.10"/>
<line x1="78.92" y1="59.00" x2="78.92" y2="56.60"/>
<line x1="78.92" y1="63.30" x2="78.92" y2="65.70"/>
<line x1="78.92" y1="149.50" x2="78.92" y2="147.10"/>
<line x1="80.75" y1="59.00" x2="80.75" y2="56.60"/>
<line x1="80.75" y1="63.30" x2="80.75" y2="65.70"/>
<line x1="80.75" y1="149.50" x2="80.75" y2="147.10"/>
<line x1="82.31" y1="59.00" x2="82.31" y2="56.60"/>
<line x1="82.31" y1="63.30" x2="82.31" y2="65.70"/>
<line x1="82.31" y1="149.50" x2="82.31" y2="147.10"/>
<line x1="83.65" y1="59.00" x2="83.65" y2="56.60"/>
<line x1="83.65" y1="63.30" x2="83.65" y2="65.70"/>
<line x1="83.65" y1="149.50" x2="83.65" y2="147.10"/>
<line x1="84.84" y1="59.00" x2="84.84" y2="56.60"/>
<line x1="84.84" y1="63.30" x2="84.84" y2="65.70"/>
<line x1="84.84" y1="149.50" x2="84.84" y2="147.10"/>
<line x1="85.90" y1="59.00" x2="85.90" y2="54.40"/>
<line x1="85.90" y1="63.30" x2="85.90" y2="67.90"/>
<line x1="85.90" y1="149.50" x2="85.90" y2="144.90"/>
<line x1="92.88" y1="59.00" x2="92.88" y2="56.60"/>
<line x1="92.88" y1="63.30" x2="92.88" y2="65.70"/>
<line x1="92.88" y1="149.50" x2="92.88" y2="147.10"/>
<line x1="96.97" y1="59.00" x2="96.97" y2="56.60"/>
<line x1="96.97" y1="63.30" x2="96.97" y2="65.70"/>
<line x1="96.97" y1="149.50" x2="96.97" y2="147.10"/>
<line x1="99.87" y1="59.00" x2="99.87" y2="56.60"/>
<line x1="99.87" y1="63.30" x2="99.87" y2="65.70"/>
<line x1="99.87" y1="149.50" x2="99.87" y2="147.10"/>
<line x1="102.12" y1="59.00" x2="102.12" y2="56.60"/>
<line x1="102.12" y1="63.30" x2="102.12" y2="65.70"/>
<line x1="102.12" y1="149.50" x2="102.12" y2="147.10"/>
<line x1="103.95" y1="59.00" x2="103.95" y2="56.60"/>
<line x1="103.95" y1="63.30" x2="103.95" y2="65.70"/>
<line x1="103.95" y1="149.50" x2="103.95" y2="147.10"/>
<line x1="105.51" y1="59.00" x2="105.51" y2="56.60"/>
<line x1="105.51" y1="63.30" x2="105.51" y2="65.70"/>
<line x1="105.51" y1="149.50" x2="105.51" y2="147.10"/>
<line x1="106.85" y1="59.00" x2="106.85" y2="56.60"/>
<line x1="106.85" y1="63.30" x2="106.85" y2="65.70"/>
<line x1="106.85" y1="149.50" x2="106.85" y2="147.10"/>
<line x1="108.04" y1="59.00" x2="108.04" y2="56.60"/>
<line x1="108.04" y1="63.30" x2="108.04" y2="65.70"/>
<line x1="108.04" y1="149.50" x2="108.04" y2="147.10"/>
<line x1="109.10" y1="59.00" x2="109.10" y2="54.40"/>
<line x1="109.10" y1="63.30" x2="109.10" y2="67.90"/>
<line x1="109.10" y1="149.50" x2="109.10" y2="144.90"/>
<line x1="116.08" y1="59.00" x2="116.08" y2="56.60"/>
<line x1="116.08" y1="63.30" x2="116.08" y2="65.70"/>
<line x1="116.08" y1="149.50" x2="116.08" y2="147.10"/>
<line x1="120.17" y1="59.00" x2="120.17" y2="56.60"/>
<line x1="120.17" y1="63.30" x2="120.17" y2="65.70"/>
<line x1="120.17" y1="149.50" x2="120.17" y2="147.10"/>
<line x1="123.07" y1="59.00" x2="123.07" y2="56.60"/>
<line x1="123.07" y1="63.30" x2="123.07" y2="65.70"/>
<line x1="123.07" y1="149.50" x2="123.07" y2="147.10"/>
<line x1="125.32" y1="59.00" x2="125.32" y2="56.60"/>
<line x1="125.32" y1="63.30" x2="125.32" y2="65.70"/>
<line x1="125.32" y1="149.50" x2="125.32" y2="147.10"/>
<line x1="127.15" y1="59.00" x2="127.15" y2="56.60"/>
<line x1="127.15" y1="63.30" x2="127.15" y2="65.70"/>
<line x1="127.15" y1="149.50" x2="127.15" y2="147.10"/>
<line x1="128.71" y1="59.00" x2="128.71" y2="56.60"/>
<line x1="128.71" y1="63.30" x2="128.71" y2="65.70"/>
<line x1="128.71" y1="149.50" x2="128.71" y2="147.10"/>
<line x1="130.05" y1="59.00" x2="130.05" y2="56.60"/>
<line x1="130.05" y1="63.30" x2="130.05" y2="65.70"/>
<line x1="130.05" y1="149.50" x2="130.05" y2="147.10"/>
<line x1="131.24" y1="59.00" x2="131.24" y2="56.60"/>
<line x1="131.24" y1="63.30" x2="131.24" y2="65.70"/>
<line x1="131.24" y1="149.50" x2="131.24" y2="147.10"/>
<line x1="132.30" y1="59.00" x2="132.30" y2="54.40"/>
<line x1="132.30" y1="63.30" x2="132.30" y2="67.90"/>
<line x1="132.30" y1="149.50" x2="132.30" y2="144.90"/>
<line x1="139.28" y1="59.00" x2="139.28" y2="56.60"/>
<line x1="139.28" y1="63.30" x2="139.28" y2="65.70"/>
<line x1="139.28" y1="149.50" x2="139.28" y2="147.10"/>
<line x1="143.37" y1="59.00" x2="143.37" y2="56.60"/>
<line x1="143.37" y1="63.30" x2="143.37" y2="65.70"/>
<line x1="143.37" y1="149.50" x2="143.37" y2="147.10"/>
<line x1="146.27" y1="59.00" x2="146.27" y2="56.60"/>
<line x1="146.27" y1="63.30" x2="146.27" y2="65.70"/>
<line x1="146.27" y1="149.50" x2="146.27" y2="147.10"/>
<line x1="148.52" y1="59.00" x2="148.52" y2="56.60"/>
<line x1="148.52" y1="63.30" x2="148.52" y2="65.70"/>
<line x1="148.52" y1="149.50" x2="148.52" y2="147.10"/>
<line x1="150.35" y1="59.00" x2="150.35" y2="56.60"/>
<line x1="150.35" y1="63.30" x2="150.35" y2="65.70"/>
<line x1="150.35" y1="149.50" x2="150.35" y2="147.10"/>
<line x1="151.91" y1="59.00" x2="151.91" y2="56.60"/>
<line x1="151.91" y1="63.30" x2="151.91" y2="65.70"/>
<line x1="151.91" y1="149.50" x2="151.91" y2="147.10"/>
<line x1="153.25" y1="59.00" x2="153.25" y2="56.60"/>
<line x1="153.25" y1="63.30" x2="153.25" y2="65.70"/>
<line x1="153.25" y1="149.50" x2="153.25" y2="147.10"/>
<line x1="154.44" y1="59.00" x2="154.44" y2="56.60"/>
<line x1="154.44" y1="63.30" x2="154.44" y2="65.70"/>
<line x1="154.44" y1="149.50" x2="154.44" y2="147.10"/>
<line x1="155.50" y1="59.00" x2="155.50" y2="54.40"/>
<line x1="155.50" y1="63.30" x2="155.50" y2="67.90"/>
<line x1="155.50" y1="149.50" x2="155.50" y2="144.90"/>
<line x1="162.48" y1="59.00" x2="162.48" y2="56.60"/>
<line x1="162.48" y1="63.30" x2="162.48" y2="65.70"/>
<line x1="162.48" y1="149.50" x2="162.48" y2="147.10"/>
<line x1="166.57" y1="59.00" x2="166.57" y2="56.60"/>
<line x1="166.57" y1="63.30" x2="166.57" y2="65.70"/>
<line x1="166.57" y1="149.50" x2="166.57" y2="147.10"/>
<line x1="169.47" y1="59.00" x2="169.47" y2="56.60"/>
<line x1="169.47" y1="63.30" x2="169.47" y2="65.70"/>
<line x1="169.47" y1="149.50" x2="169.47" y2="147.10"/>
<line x1="171.72" y1="59.00" x2="171.72" y2="56.60"/>
<line x1="171.72" y1="63.30" x2="171.72" y2="65.70"/>
<line x1="171.72" y1="149.50" x2="171.72" y2="147.10"/>
<line x1="173.55" y1="59.00" x2="173.55" y2="56.60"/>
<line x1="173.55" y1="63.30" x2="173.55" y2="65.70"/>
<line x1="173.55" y1="149.50" x2="173.55" y2="147.10"/>
<line x1="175.11" y1="59.00" x2="175.11" y2="56.60"/>
<line x1="175.11" y1="63.30" x2="175.11" y2="65.70"/>
<line x1="175.11" y1="149.50" x2="175.11" y2="147.10"/>
<line x1="176.45" y1="59.00" x2="176.45" y2="56.60"/>
<line x1="176.45" y1="63.30" x2="176.45" y2="65.70"/>
<line x1="176.45" y1="149.50" x2="176.45" y2="147.10"/>
<line x1="177.64" y1="59.00" x2="177.64" y2="56.60"/>
<line x1="177.64" y1="63.30" x2="177.64" y2="65.70"/>
<line x1="177.64" y1="149.50" x2="177.64" y2="147.10"/>
<line x1="178.70" y1="59.00" x2="178.70" y2="54.40"/>
<line x1="178.70" y1="63.30" x2="178.70" y2="67.90"/>
<line x1="178.70" y1="149.50" x2="178.70" y2="144.90"/>
<line x1="185.68" y1="59.00" x2="185.68" y2="56.60"/>
<line x1="185.68" y1="63.30" x2="185.68" y2="65.70"/>
<line x1="185.68" y1="149.50" x2="185.68" y2="147.10"/>
<line x1="189.77" y1="59.00" x2="189.77" y2="56.60"/>
<line x1="189.77" y1="63.30" x2="189.77" y2="65.70"/>
<line x1="189.77" y1="149.50" x2="189.77" y2="147.10"/>
<line x1="192.67" y1="59.00" x2="192.67" y2="56.60"/>
<line x1="192.67" y1="63.30" x2="192.67" y2="65.70"/>
<line x1="192.67" y1="149.50" x2="192.67" y2="147.10"/>
<line x1="194.92" y1="59.00" x2="194.92" y2="56.60"/>
<line x1="194.92" y1="63.30" x2="194.92" y2="65.70"/>
<line x1="194.92" y1="149.50" x2="194.92" y2="147.10"/>
<line x1="196.75" y1="59.00" x2="196.75" y2="56.60"/>
<line x1="196.75" y1="63.30" x2="196.75" y2="65.70"/>
<line x1="196.75" y1="149.50" x2="196.75" y2="147.10"/>
<line x1="198.31" y1="59.00" x2="198.31" y2="56.60"/>
<line x1="198.31" y1="63.30" x2="198.31" y2="65.70"/>
<line x1="198.31" y1="149.50" x2="198.31" y2="147.10"/>
<line x1="199.65" y1="59.00" x2="199.65" y2="56.60"/>
<line x1="199.65" y1="63.30" x2="199.65" y2="65.70"/>
<line x1="199.65" y1="149.50" x2="199.65" y2="147.10"/>
<line x1="200.84" y1="59.00" x2="200.84" y2="56.60"/>
<line x1="200.84" y1="63.30" x2="200.84" y2="65.70"/>
<line x1="200.84" y1="149.50" x2="200.84" y2="147.10"/>
<line x1="201.90" y1="59.00" x2="201.90" y2="54.40"/>
<line x1="201.90" y1="63.30" x2="201.90" y2="67.90"/>
<line x1="201.90" y1="149.50" x2="201.90" y2="144.90"/>
<line x1="208.88" y1="59.00" x2="208.88" y2="56.60"/>
<line x1="208.88" y1="63.30" x2="208.88" y2="65.70"/>
<line x1="208.88" y1="149.50" x2="208.88" y2="147.10"/>
<line x1="32.90" y1="59.00" x2="37.50" y2="59.00"/>
<line x1="211.20" y1="59.00" x2="206.60" y2="59.00"/>
<line x1="32.90" y1="51.05" x2="35.30" y2="51.05"/>
<line x1="211.20" y1="51.05" x2="208.80" y2="51.05"/>
<line x1="32.90" y1="46.40" x2="35.30" y2="46.40"/>
<line x1="211.20" y1="46.40" x2="208.80" y2="46.40"/>
<line x1="32.90" y1="43.11" x2="35.30" y2="43.11"/>
<line x1="211.20" y1="43.11" x2="208.80" y2="43.11"/>
<line x1="32.90" y1="40.55" x2="35.30" y2="40.55"/>
<line x1="211.20" y1="40.55" x2="208.80" y2="40.55"/>
<line x1="32.90" y1="38.46" x2="35.30" y2="38.46"/>
<line x1="211.20" y1="38.46" x2="208.80" y2="38.46"/>
<line x1="32.90" y1="36.69" x2="35.30" y2="36.69"/>
<line x1="211.20" y1="36.69" x2="208.80" y2="36.69"/>
<line x1="32.90" y1="35.16" x2="35.30" y2="35.16"/>
<line x1="211.20" y1="35.16" x2="208.80" y2="35.16"/>
<line x1="32.90" y1="33.81" x2="35.30" y2="33.81"/>
<line x1="211.20" y1="33.81" x2="208.80" y2="33.81"/>
<line x1="32.90" y1="32.60" x2="37.50" y2="32.60"/>
<line x1="211.20" y1="32.60" x2="206.60" y2="32.60"/>
<line x1="32.90" y1="24.65" x2="35.30" y2="24.65"/>
<line x1="211.20" y1="24.65" x2="208.80" y2="24.65"/>
<line x1="32.90" y1="20.00" x2="35.30" y2="20.00"/>
<line x1="211.20" y1="20.00" x2="208.80" y2="20.00"/>
<line x1="32.90" y1="16.71" x2="35.30" y2="16.71"/>
<line x1="211.20" y1="16.71" x2="208.80" y2="16.71"/>
<line x1="32.90" y1="14.15" x2="35.30" y2="14.15"/>
<line x1="211.20" y1="14.15" x2="208.80" y2="14.15"/>
<line x1="32.90" y1="12.06" x2="35.30" y2="12.06"/>
<line x1="211.20" y1="12.06" x2="208.80" y2="12.06"/>
<line x1="32.90" y1="10.29" x2="35.30" y2="10.29"/>
<line x1="211.20" y1="10.29" x2="208.80" y2="10.29"/>
<line x1="32.90" y1="8.76" x2="35.30" y2="8.76"/>
<line x1="211.20" y1="8.76" x2="208.80" y2="8.76"/>
<line x1="32.90" y1="7.41" x2="35.30" y2="7.41"/>
<line x1="211.20" y1="7.41" x2="208.80" y2="7.41"/>
<line x1="32.90" y1="6.20" x2="37.50" y2="6.20"/>
<line x1="211.20" y1="6.20" x2="206.60" y2="6.20"/>
<line x1="32.90" y1="-1.75" x2="35.30" y2="-1.75"/>
<line x1="211.20" y1="-1.75" x2="208.80" y2="-1.75"/>
<line x1="32.90" y1="-6.40" x2="35.30" y2="-6.40"/>
<line x1="211.20" y1="-6.40" x2="208.80" y2="-6.40"/>
<line x1="32.90" y1="-9.69" x2="35.30" y2="-9.69"/>
<line x1="211.20" y1="-9.69" x2="208.80" y2="-9.69"/>
<line x1="32.90" y1="-12.25" x2="35.30" y2="-12.25"/>
<line x1="211.20" y1="-12.25" x2="208.80" y2="-12.25"/>
<line x1="32.90" y1="-14.34" x2="35.30" y2="-14.34"/>
<line x1="211.20" y1="-14.34" x2="208.80" y2="-14.34"/>
<line x1="32.90" y1="-16.11" x2="35.30" y2="-16.11"/>
<line x1="211.20" y1="-16.11" x2="208.80" y2="-16.11"/>
<line x1="32.90" y1="-17.64" x2="35.30" y2="-17.64"/>
<line x1="211.20" y1="-17.64" x2="208.80" y2="-17.64"/>
<line x1="32.90" y1="-18.99" x2="35.30" y2="-18.99"/>
<line x1="211.20" y1="-18.99" x2="208.80" y2="-18.99"/>
<line x1="32.90" y1="-20.20" x2="37.50" y2="-20.20"/>
<line x1="211.20" y1="-20.20" x2="206.60" y2="-20.20"/>
<line x1="32.90" y1="139.89" x2="35.30" y2="139.89"/>
<line x1="211.20" y1="139.89" x2="208.80" y2="139.89"/>
<line x1="32.90" y1="132.03" x2="35.30" y2="132.03"/>
<line x1="211.20" y1="132.03" x2="208.80" y2="132.03"/>
<line x1="32.90" y1="125.93" x2="35.30" y2="125.93"/>
<line x1="211.20" y1="125.93" x2="208.80" y2="125.93"/>
<line x1="32.90" y1="120.95" x2="35.30" y2="120.95"/>
<line x1="211.20" y1="120.95" x2="208.80" y2="120.95"/>
<line x1="32.90" y1="116.74" x2="35.30" y2="116.74"/>
<line x1="211.20" y1="116.74" x2="208.80" y2="116.74"/>
<line x1="32.90" y1="113.10" x2="35.30" y2="113.10"/>
<line x1="211.20" y1="113.10" x2="208.80" y2="113.10"/>
<line x1="32.90" y1="109.88" x2="35.30" y2="109.88"/>
<line x1="211.20" y1="109.88" x2="208.80" y2="109.88"/>
<line x1="32.90" y1="107.00" x2="37.50" y2="107.00"/>
<line x1="211.20" y1="107.00" x2="206.60" y2="107.00"/>
<line x1="32.90" y1="88.07" x2="35.30" y2="88.07"/>
<line x1="211.20" y1="88.07" x2="208.80" y2="88.07"/>
<line x1="32.90" y1="76.99" x2="35.30" y2="76.99"/>
<line x1="211.20" y1="76.99" x2="208.80" y2="76.99"/>
<line x1="32.90" y1="69.13" x2="35.30" y2="69.13"/>
<line x1="211.20" y1="69.13" x2="208.80" y2="69.13"/>
<line x1="39.00" y1="181.20" x2="39.00" y2="184.50"/>
<line x1="64.12" y1="181.20" x2="64.12" y2="184.50"/>
<line x1="89.24" y1="181.20" x2="89.24" y2="184.50"/>
<line x1="114.36" y1="181.20" x2="114.36" y2="184.50"/>
<line x1="139.48" y1="181.20" x2="139.48" y2="184.50"/>
<line x1="164.60" y1="181.20" x2="164.60" y2="184.50"/>
<line x1="33.10" y1="244.65" x2="36.30" y2="244.65"/>
<line x1="171.30" y1="244.65" x2="168.10" y2="244.65"/>
<line x1="33.10" y1="219.10" x2="36.30" y2="219.10"/>
<line x1="171.30" y1="219.10" x2="168.10" y2="219.10"/>
<line x1="33.10" y1="193.55" x2="36.30" y2="193.55"/>
<line x1="171.30" y1="193.55" x2="168.10" y2="193.55"/>
</g>
<text x="31.40" y="162.20" font-size="8.2">10</text>
<text x="41.00" y="159.20" font-size="6.2">-3</text>
<text x="54.20" y="162.20" font-size="8.2">10</text>
<text x="64.30" y="159.20" font-size="6.2">-2</text>
<text x="77.40" y="162.20" font-size="8.2">10</text>
<text x="87.50" y="159.20" font-size="6.2">-1</text>
<text x="103.10" y="162.20" font-size="8.2">10</text>
<text x="111.50" y="159.20" font-size="6.2">0</text>
<text x="126.00" y="162.20" font-size="8.2">10</text>
<text x="134.70" y="159.20" font-size="6.2">1</text>
<text x="148.00" y="162.20" font-size="8.2">10</text>
<text x="157.50" y="159.20" font-size="6.2">2</text>
<text x="171.40" y="162.20" font-size="8.2">10</text>
<text x="181.20" y="159.20" font-size="6.2">3</text>
<text x="194.20" y="162.20" font-size="8.2">10</text>
<text x="204.50" y="159.20" font-size="6.2">4</text>
<text x="13.60" y="10.10" font-size="8.2">10</text>
<text x="22.60" y="7.40" font-size="6.2">-1</text>
<text x="13.60" y="36.50" font-size="8.2">10</text>
<text x="22.60" y="33.80" font-size="6.2">-2</text>
<text x="13.60" y="62.90" font-size="8.2">10</text>
<text x="22.60" y="60.20" font-size="6.2">-3</text>
<text x="13.60" y="110.90" font-size="8.2">10</text>
<text x="22.60" y="108.20" font-size="6.2">-1</text>
<text x="17.40" y="247.45" font-size="7.4">0.1</text>
<text x="17.40" y="221.90" font-size="7.4">0.2</text>
<text x="17.40" y="196.35" font-size="7.4">0.3</text>
<text class="s" x="88.90" y="173.5" font-size="10" textLength="65.2" lengthAdjust="spacingAndGlyphs">Frequency [Hz]</text>
<text class="s" transform="translate(7.60,15.80) rotate(-90)" font-size="10" text-anchor="middle" textLength="38.3" lengthAdjust="spacingAndGlyphs"><tspan font-style="italic">G</tspan>′ [GPa]</text>
<text class="s" transform="translate(7.60,106.80) rotate(-90)" font-size="10" text-anchor="middle" textLength="39.6" lengthAdjust="spacingAndGlyphs"><tspan font-style="italic">G</tspan>″ [GPa]</text>
<text class="s" transform="translate(12.90,225.30) rotate(-90)" font-size="10.5" text-anchor="middle" textLength="34" lengthAdjust="spacingAndGlyphs"><tspan font-style="italic">G</tspan>″/<tspan font-style="italic">G</tspan><tspan font-size="8" dy="2">∞</tspan></text>
<text class="s" x="38.70" y="77.30" font-size="11" style="fill:#000">(b)</text>
<text class="s" x="38.70" y="193.90" font-size="11" style="fill:#000">(c)</text>
<rect x="176.80" y="177.70" width="44.80" height="100" fill="#fff" stroke="#1c1c1c" stroke-width="1"/>
<line x1="179.20" y1="182.70" x2="197.80" y2="182.70" stroke="#ff00ff" stroke-width="1.8"/>
<text x="199.80" y="185.20" font-size="7">210 K</text>
<line x1="179.20" y1="191.65" x2="197.80" y2="191.65" stroke="#ff00d7" stroke-width="1.8"/>
<text x="199.80" y="194.15" font-size="7">212 K</text>
<line x1="179.20" y1="200.60" x2="197.80" y2="200.60" stroke="#ff00af" stroke-width="1.8"/>
<text x="199.80" y="203.10" font-size="7">214 K</text>
<line x1="179.20" y1="209.55" x2="197.80" y2="209.55" stroke="#ff0f87" stroke-width="1.8"/>
<text x="199.80" y="212.05" font-size="7">216 K</text>
<line x1="179.20" y1="218.50" x2="197.80" y2="218.50" stroke="#ff285f" stroke-width="1.8"/>
<text x="199.80" y="221.00" font-size="7">218 K</text>
<line x1="179.20" y1="227.45" x2="197.80" y2="227.45" stroke="#ff413c" stroke-width="1.8"/>
<text x="199.80" y="229.95" font-size="7">220 K</text>
<line x1="179.20" y1="236.40" x2="197.80" y2="236.40" stroke="#ff6419" stroke-width="1.8"/>
<text x="199.80" y="238.90" font-size="7">222 K</text>
<line x1="179.20" y1="245.35" x2="197.80" y2="245.35" stroke="#ff8800" stroke-width="1.8"/>
<text x="199.80" y="247.85" font-size="7">224 K</text>
<line x1="179.20" y1="254.30" x2="197.80" y2="254.30" stroke="#ffac00" stroke-width="1.8"/>
<text x="199.80" y="256.80" font-size="7">226 K</text>
<g clip-path="url(#clipaR)">
<path d="M288.3 7.5 L289.4 5.8 L290.9 3.6 L292.4 1.6 L293.9 -0.3 L295.3 -2.1 L296.7 -3.7 L298.1 -5.2 L299.6 -6.5 L301.0 -7.7 L302.4 -8.9 L303.8 -9.9 L305.2 -10.9 L306.7 -11.8 L308.1 -12.6 L309.5 -13.4 L310.9 -14.1 L312.4 -14.7 L313.8 -15.3 L315.2 -15.8 L316.6 -16.3 L318.0 -16.7 L319.5 -17.1 L320.9 -17.5 L322.3 -17.8 L323.7 -18.1 L325.1 -18.4 L326.6 -18.6 L328.0 -18.8 L329.4 -19.1 L330.8 -19.2 L332.2 -19.4 L333.7 -19.6 L335.1 -19.7 L336.5 -19.9 L337.9 -20.0 L339.3 -20.1 L340.8 -20.2 L342.2 -20.3 L343.6 -20.4 L345.0 -20.5 L346.4 -20.6 L347.9 -20.7 L349.3 -20.7 L350.7 -20.8 L352.1 -20.9 L353.6 -20.9 L355.0 -21.0 L356.4 -21.1 L357.8 -21.1 L359.2 -21.2 L360.7 -21.2 L362.1 -21.2 L363.5 -21.3 L364.9 -21.3 L366.3 -21.3 L367.8 -21.4 L369.2 -21.4 L370.6 -21.4 L372.0 -21.5 L373.4 -21.5 L374.9 -21.5 L376.3 -21.5 L377.7 -21.6 L379.1 -21.6 L380.5 -21.6 L382.0 -21.6 L383.4 -21.6 L384.8 -21.7 L386.2 -21.7 L387.7 -21.7 L389.1 -21.7 L390.5 -21.7 L391.9 -21.7 L393.3 -21.7 L394.8 -21.7 L396.2 -21.8 L397.6 -21.8 L399.0 -21.8 L400.4 -21.8 L401.9 -21.8 L403.3 -21.8 L404.7 -21.8 L406.1 -21.8 L407.5 -21.8 L409.0 -21.8 L410.4 -21.8 L411.8 -21.8 L413.2 -21.8 L414.6 -21.8 L416.1 -21.9 L417.5 -21.9 L418.9 -21.9 L420.3 -21.9 L421.8 -21.9 L423.2 -21.9 L424.6 -21.9 L426.0 -21.9 L427.4 -21.9 L428.9 -21.9 L430.3 -21.9 L431.7 -21.9 L433.1 -21.9 L434.5 -21.9 L436.0 -21.9 L437.4 -21.9 L438.3 -21.9 L438.8 -21.9 L439.0 -21.9" fill="none" stroke="#0000ff" stroke-width="1.7"/>
<path d="M252.9 77.8 L254.3 74.7 L255.8 71.5 L257.2 68.3 L258.6 65.2 L260.0 62.0 L261.4 58.9 L263.0 55.7 L264.6 52.6 L266.1 49.4 L267.7 46.3 L269.2 43.2 L270.8 40.1 L272.4 37.0 L273.9 33.9 L275.5 30.8 L277.0 27.8 L278.6 24.8 L280.1 21.8 L281.7 18.9 L283.2 16.1 L284.8 13.4 L286.3 10.7 L287.2 9.3 L287.8 8.2 L289.4 5.8 L290.9 3.6 L292.4 1.6 L293.9 -0.3 L295.3 -2.1 L296.7 -3.7 L298.1 -5.2 L299.6 -6.5 L301.0 -7.7 L302.4 -8.9 L303.8 -9.9 L305.2 -10.9 L306.7 -11.8 L308.1 -12.6 L309.5 -13.4 L310.9 -14.1 L312.4 -14.7 L313.8 -15.3 L315.2 -15.8 L316.6 -16.3 L318.0 -16.7 L319.5 -17.1 L320.9 -17.5 L322.3 -17.8 L323.7 -18.1 L325.1 -18.4 L326.6 -18.6 L328.0 -18.8 L329.4 -19.1 L330.8 -19.2 L332.2 -19.4 L333.7 -19.6 L335.1 -19.7 L336.5 -19.9 L337.9 -20.0 L339.3 -20.1 L340.8 -20.2 L342.2 -20.3 L343.6 -20.4 L345.0 -20.5 L346.4 -20.6 L347.9 -20.7 L349.3 -20.7 L350.7 -20.8 L352.1 -20.9 L353.6 -20.9 L355.0 -21.0 L356.4 -21.1 L357.8 -21.1 L359.2 -21.2 L360.7 -21.2 L362.1 -21.2 L363.5 -21.3 L364.9 -21.3 L366.3 -21.3 L367.8 -21.4 L369.2 -21.4 L370.6 -21.4 L372.0 -21.5 L373.4 -21.5 L374.9 -21.5 L376.3 -21.5 L377.7 -21.6 L379.1 -21.6 L380.5 -21.6 L382.0 -21.6 L383.4 -21.6 L384.8 -21.7 L386.2 -21.7 L387.7 -21.7 L389.1 -21.7 L390.5 -21.7 L391.9 -21.7 L393.3 -21.7 L394.8 -21.7 L396.2 -21.8 L397.6 -21.8 L399.0 -21.8 L400.4 -21.8 L401.9 -21.8 L403.3 -21.8 L404.7 -21.8 L406.1 -21.8 L407.5 -21.8 L409.0 -21.8 L410.4 -21.8 L411.8 -21.8 L413.2 -21.8 L414.6 -21.8 L416.1 -21.9 L417.5 -21.9 L418.9 -21.9 L420.3 -21.9 L421.8 -21.9 L423.2 -21.9 L424.6 -21.9 L426.0 -21.9 L427.4 -21.9 L428.9 -21.9 L430.3 -21.9 L431.7 -21.9 L433.1 -21.9 L434.5 -21.9 L436.0 -21.9 L437.4 -21.9 L438.3 -21.9 L438.8 -21.9" fill="none" stroke="#000" stroke-width="1.0" stroke-dasharray="4.6 2.7"/>
<path d="M290.0 31.0 L291.5 28.1 L293.0 25.1 L294.5 22.1 L296.0 19.2 L297.5 16.4 L299.0 13.7 L300.5 11.1 L302.0 8.6 L303.5 6.2 L305.0 4.0 L306.5 2.0 L308.0 0.1 L309.4 -1.7 L310.9 -3.2 L312.3 -4.7 L313.7 -6.0 L315.1 -7.3 L316.5 -8.4 L318.0 -9.4 L319.4 -10.4 L320.8 -11.3 L322.2 -12.1 L323.6 -12.9 L325.1 -13.5 L326.5 -14.2 L327.9 -14.8 L329.3 -15.3 L330.7 -15.7 L332.2 -16.2 L333.6 -16.6 L335.0 -16.9 L336.4 -17.2 L337.8 -17.5 L339.3 -17.8 L340.7 -18.1 L342.1 -18.3 L343.5 -18.5 L344.9 -18.7 L346.4 -18.8 L347.8 -19.0 L349.2 -19.2 L350.6 -19.3 L352.1 -19.4 L353.5 -19.5 L354.9 -19.6 L356.3 -19.7 L357.7 -19.8 L359.2 -19.9 L360.6 -20.0 L362.0 -20.1 L363.4 -20.2 L364.8 -20.2 L366.3 -20.3 L367.7 -20.4 L369.1 -20.4 L370.5 -20.5 L371.9 -20.5 L373.4 -20.6 L374.8 -20.6 L376.2 -20.7 L377.6 -20.7 L379.0 -20.7 L380.5 -20.8 L381.9 -20.8 L383.3 -20.8 L384.7 -20.9 L386.2 -20.9 L387.6 -20.9 L389.0 -20.9 L390.4 -21.0 L391.8 -21.0 L393.3 -21.0 L394.7 -21.0 L396.1 -21.0 L397.5 -21.1 L398.9 -21.1 L400.4 -21.1 L401.8 -21.1 L403.2 -21.1 L404.6 -21.1 L406.0 -21.1 L407.5 -21.1 L408.9 -21.2 L410.3 -21.2 L411.7 -21.2 L413.1 -21.2 L414.6 -21.2 L416.0 -21.2 L417.4 -21.2 L418.8 -21.2 L420.3 -21.2 L421.7 -21.2 L423.1 -21.2 L424.5 -21.2 L425.9 -21.3 L427.4 -21.3 L428.8 -21.3 L430.2 -21.3 L431.6 -21.3 L433.0 -21.3 L434.5 -21.3 L435.9 -21.3 L436.8 -21.3 L437.3 -21.3 L439.0 -21.3" fill="none" stroke="#001af2" stroke-width="1.7"/>
<path d="M252.1 112.9 L253.5 109.7 L255.0 106.6 L256.4 103.4 L257.8 100.2 L259.2 97.1 L260.6 93.9 L262.1 90.8 L263.5 87.6 L264.9 84.4 L266.3 81.3 L267.7 78.1 L269.2 75.0 L270.6 71.8 L272.0 68.6 L273.4 65.5 L274.9 62.3 L276.3 59.2 L277.8 56.0 L279.3 52.9 L280.8 49.7 L282.3 46.6 L283.9 43.5 L285.4 40.4 L286.6 38.0 L286.9 37.3 L288.4 34.2 L290.0 31.1 L291.5 28.1 L293.0 25.1 L294.5 22.1 L296.0 19.2 L297.5 16.4 L299.0 13.7 L300.5 11.1 L302.0 8.6 L303.5 6.2 L305.0 4.0 L306.5 2.0 L308.0 0.1 L309.4 -1.7 L310.9 -3.2 L312.3 -4.7 L313.7 -6.0 L315.1 -7.3 L316.5 -8.4 L318.0 -9.4 L319.4 -10.4 L320.8 -11.3 L322.2 -12.1 L323.6 -12.9 L325.1 -13.5 L326.5 -14.2 L327.9 -14.8 L329.3 -15.3 L330.7 -15.7 L332.2 -16.2 L333.6 -16.6 L335.0 -16.9 L336.4 -17.2 L337.8 -17.5 L339.3 -17.8 L340.7 -18.1 L342.1 -18.3 L343.5 -18.5 L344.9 -18.7 L346.4 -18.8 L347.8 -19.0 L349.2 -19.2 L350.6 -19.3 L352.1 -19.4 L353.5 -19.5 L354.9 -19.6 L356.3 -19.7 L357.7 -19.8 L359.2 -19.9 L360.6 -20.0 L362.0 -20.1 L363.4 -20.2 L364.8 -20.2 L366.3 -20.3 L367.7 -20.4 L369.1 -20.4 L370.5 -20.5 L371.9 -20.5 L373.4 -20.6 L374.8 -20.6 L376.2 -20.7 L377.6 -20.7 L379.0 -20.7 L380.5 -20.8 L381.9 -20.8 L383.3 -20.8 L384.7 -20.9 L386.2 -20.9 L387.6 -20.9 L389.0 -20.9 L390.4 -21.0 L391.8 -21.0 L393.3 -21.0 L394.7 -21.0 L396.1 -21.0 L397.5 -21.1 L398.9 -21.1 L400.4 -21.1 L401.8 -21.1 L403.2 -21.1 L404.6 -21.1 L406.0 -21.1 L407.5 -21.1 L408.9 -21.2 L410.3 -21.2 L411.7 -21.2 L413.1 -21.2 L414.6 -21.2 L416.0 -21.2 L417.4 -21.2 L418.8 -21.2 L420.3 -21.2 L421.7 -21.2 L423.1 -21.2 L424.5 -21.2 L425.9 -21.3 L427.4 -21.3 L428.8 -21.3 L430.2 -21.3 L431.6 -21.3 L433.0 -21.3 L434.5 -21.3 L435.9 -21.3 L436.8 -21.3 L437.3 -21.3" fill="none" stroke="#000" stroke-width="1.0" stroke-dasharray="4.6 2.7"/>
<path d="M305.0 29.5 L305.9 27.6 L307.3 24.6 L308.8 21.7 L310.2 18.8 L311.6 16.0 L313.0 13.3 L314.5 10.7 L315.9 8.3 L317.3 6.0 L318.8 3.8 L320.2 1.8 L321.6 -0.1 L323.0 -1.7 L324.5 -3.3 L325.9 -4.7 L327.3 -6.0 L328.7 -7.2 L330.1 -8.3 L331.6 -9.3 L333.0 -10.3 L334.4 -11.2 L335.8 -12.0 L337.2 -12.7 L338.7 -13.4 L340.1 -14.0 L341.5 -14.5 L342.9 -15.0 L344.3 -15.5 L345.8 -15.9 L347.2 -16.3 L348.6 -16.6 L350.0 -17.0 L351.5 -17.2 L352.9 -17.5 L354.3 -17.7 L355.7 -18.0 L357.1 -18.2 L358.6 -18.3 L360.0 -18.5 L361.4 -18.7 L362.8 -18.8 L364.2 -19.0 L365.7 -19.1 L367.1 -19.2 L368.5 -19.3 L369.9 -19.4 L371.3 -19.5 L372.8 -19.6 L374.2 -19.7 L375.6 -19.7 L377.0 -19.8 L378.4 -19.9 L379.9 -19.9 L381.3 -20.0 L382.7 -20.1 L384.1 -20.1 L385.6 -20.2 L387.0 -20.2 L388.4 -20.2 L389.8 -20.3 L391.2 -20.3 L392.7 -20.4 L394.1 -20.4 L395.5 -20.4 L396.9 -20.5 L398.3 -20.5 L399.8 -20.5 L401.2 -20.5 L402.6 -20.6 L404.0 -20.6 L405.4 -20.6 L406.9 -20.6 L408.3 -20.6 L409.7 -20.7 L411.1 -20.7 L412.5 -20.7 L414.0 -20.7 L415.4 -20.7 L416.8 -20.7 L418.2 -20.8 L419.7 -20.8 L421.1 -20.8 L422.5 -20.8 L423.9 -20.8 L425.3 -20.8 L426.8 -20.8 L428.2 -20.8 L429.6 -20.8 L431.0 -20.8 L432.4 -20.8 L433.9 -20.9 L435.3 -20.9 L436.2 -20.9 L436.7 -20.9 L439.0 -20.9" fill="none" stroke="#0033e6" stroke-width="1.7"/>
<path d="M253.2 144.0 L254.6 140.8 L256.1 137.6 L257.5 134.5 L258.9 131.3 L260.3 128.2 L261.7 125.0 L263.2 121.8 L264.6 118.7 L266.0 115.5 L267.4 112.4 L268.8 109.2 L270.3 106.0 L271.7 102.9 L273.1 99.7 L274.5 96.6 L276.0 93.4 L277.4 90.2 L278.8 87.1 L280.2 83.9 L281.6 80.8 L283.1 77.6 L284.5 74.4 L285.9 71.3 L287.3 68.1 L288.7 65.0 L290.2 61.8 L291.6 58.7 L293.0 55.5 L294.4 52.4 L295.9 49.2 L297.3 46.1 L298.7 43.0 L300.2 39.9 L301.6 36.8 L302.1 35.7 L303.0 33.7 L304.5 30.6 L305.9 27.6 L307.3 24.6 L308.8 21.7 L310.2 18.8 L311.6 16.0 L313.0 13.3 L314.5 10.7 L315.9 8.3 L317.3 6.0 L318.8 3.8 L320.2 1.8 L321.6 -0.1 L323.0 -1.7 L324.5 -3.3 L325.9 -4.7 L327.3 -6.0 L328.7 -7.2 L330.1 -8.3 L331.6 -9.3 L333.0 -10.3 L334.4 -11.2 L335.8 -12.0 L337.2 -12.7 L338.7 -13.4 L340.1 -14.0 L341.5 -14.5 L342.9 -15.0 L344.3 -15.5 L345.8 -15.9 L347.2 -16.3 L348.6 -16.6 L350.0 -17.0 L351.5 -17.2 L352.9 -17.5 L354.3 -17.7 L355.7 -18.0 L357.1 -18.2 L358.6 -18.3 L360.0 -18.5 L361.4 -18.7 L362.8 -18.8 L364.2 -19.0 L365.7 -19.1 L367.1 -19.2 L368.5 -19.3 L369.9 -19.4 L371.3 -19.5 L372.8 -19.6 L374.2 -19.7 L375.6 -19.7 L377.0 -19.8 L378.4 -19.9 L379.9 -19.9 L381.3 -20.0 L382.7 -20.1 L384.1 -20.1 L385.6 -20.2 L387.0 -20.2 L388.4 -20.2 L389.8 -20.3 L391.2 -20.3 L392.7 -20.4 L394.1 -20.4 L395.5 -20.4 L396.9 -20.5 L398.3 -20.5 L399.8 -20.5 L401.2 -20.5 L402.6 -20.6 L404.0 -20.6 L405.4 -20.6 L406.9 -20.6 L408.3 -20.6 L409.7 -20.7 L411.1 -20.7 L412.5 -20.7 L414.0 -20.7 L415.4 -20.7 L416.8 -20.7 L418.2 -20.8 L419.7 -20.8 L421.1 -20.8 L422.5 -20.8 L423.9 -20.8 L425.3 -20.8 L426.8 -20.8 L428.2 -20.8 L429.6 -20.8 L431.0 -20.8 L432.4 -20.8 L433.9 -20.9 L435.3 -20.9 L436.2 -20.9 L436.7 -20.9" fill="none" stroke="#000" stroke-width="1.0" stroke-dasharray="4.6 2.7"/>
<path d="M318.7 29.0 L320.0 26.4 L321.5 23.4 L323.0 20.5 L324.5 17.7 L325.9 14.9 L327.4 12.3 L328.9 9.7 L330.4 7.3 L331.8 5.1 L333.3 3.0 L334.8 1.1 L336.2 -0.7 L337.6 -2.3 L339.1 -3.8 L340.5 -5.1 L341.9 -6.4 L343.3 -7.5 L344.7 -8.6 L346.2 -9.6 L347.6 -10.5 L349.0 -11.3 L350.4 -12.1 L351.9 -12.8 L353.3 -13.4 L354.7 -14.0 L356.1 -14.5 L357.5 -15.0 L359.0 -15.5 L360.4 -15.9 L361.8 -16.2 L363.2 -16.6 L364.6 -16.9 L366.1 -17.1 L367.5 -17.4 L368.9 -17.6 L370.3 -17.8 L371.7 -18.0 L373.2 -18.2 L374.6 -18.3 L376.0 -18.5 L377.4 -18.6 L378.8 -18.8 L380.3 -18.9 L381.7 -19.0 L383.1 -19.1 L384.5 -19.2 L386.0 -19.3 L387.4 -19.4 L388.8 -19.4 L390.2 -19.5 L391.6 -19.6 L393.1 -19.7 L394.5 -19.7 L395.9 -19.8 L397.3 -19.8 L398.7 -19.9 L400.2 -19.9 L401.6 -20.0 L403.0 -20.0 L404.4 -20.1 L405.8 -20.1 L407.3 -20.1 L408.7 -20.2 L410.1 -20.2 L411.5 -20.2 L412.9 -20.2 L414.4 -20.3 L415.8 -20.3 L417.2 -20.3 L418.6 -20.3 L420.1 -20.4 L421.5 -20.4 L422.9 -20.4 L424.3 -20.4 L425.7 -20.4 L427.2 -20.5 L428.6 -20.5 L430.0 -20.5 L431.4 -20.5 L432.8 -20.5 L434.3 -20.5 L435.7 -20.5 L436.6 -20.5 L437.1 -20.5 L439.0 -20.5" fill="none" stroke="#004cd9" stroke-width="1.7"/>
<path d="M252.5 174.2 L253.9 171.1 L255.4 167.9 L256.8 164.8 L258.2 161.6 L259.6 158.4 L261.0 155.3 L262.5 152.1 L263.9 149.0 L265.3 145.8 L266.7 142.6 L268.1 139.5 L269.6 136.3 L271.0 133.2 L272.4 130.0 L273.8 126.8 L275.3 123.7 L276.7 120.5 L278.1 117.4 L279.5 114.2 L280.9 111.0 L282.4 107.9 L283.8 104.7 L285.2 101.6 L286.6 98.4 L288.0 95.2 L289.5 92.1 L290.9 88.9 L292.3 85.7 L293.7 82.6 L295.1 79.4 L296.6 76.3 L298.0 73.1 L299.4 70.0 L300.8 66.8 L302.2 63.6 L303.7 60.5 L305.1 57.3 L306.6 54.2 L308.1 51.1 L309.6 47.9 L311.1 44.8 L312.6 41.7 L314.1 38.6 L315.5 35.5 L315.5 35.5 L317.0 32.4 L318.5 29.4 L320.0 26.4 L321.5 23.4 L323.0 20.5 L324.5 17.7 L325.9 14.9 L327.4 12.3 L328.9 9.7 L330.4 7.3 L331.8 5.1 L333.3 3.0 L334.8 1.1 L336.2 -0.7 L337.6 -2.3 L339.1 -3.8 L340.5 -5.1 L341.9 -6.4 L343.3 -7.5 L344.7 -8.6 L346.2 -9.6 L347.6 -10.5 L349.0 -11.3 L350.4 -12.1 L351.9 -12.8 L353.3 -13.4 L354.7 -14.0 L356.1 -14.5 L357.5 -15.0 L359.0 -15.5 L360.4 -15.9 L361.8 -16.2 L363.2 -16.6 L364.6 -16.9 L366.1 -17.1 L367.5 -17.4 L368.9 -17.6 L370.3 -17.8 L371.7 -18.0 L373.2 -18.2 L374.6 -18.3 L376.0 -18.5 L377.4 -18.6 L378.8 -18.8 L380.3 -18.9 L381.7 -19.0 L383.1 -19.1 L384.5 -19.2 L386.0 -19.3 L387.4 -19.4 L388.8 -19.4 L390.2 -19.5 L391.6 -19.6 L393.1 -19.7 L394.5 -19.7 L395.9 -19.8 L397.3 -19.8 L398.7 -19.9 L400.2 -19.9 L401.6 -20.0 L403.0 -20.0 L404.4 -20.1 L405.8 -20.1 L407.3 -20.1 L408.7 -20.2 L410.1 -20.2 L411.5 -20.2 L412.9 -20.2 L414.4 -20.3 L415.8 -20.3 L417.2 -20.3 L418.6 -20.3 L420.1 -20.4 L421.5 -20.4 L422.9 -20.4 L424.3 -20.4 L425.7 -20.4 L427.2 -20.5 L428.6 -20.5 L430.0 -20.5 L431.4 -20.5 L432.8 -20.5 L434.3 -20.5 L435.7 -20.5 L436.6 -20.5 L437.1 -20.5" fill="none" stroke="#000" stroke-width="1.0" stroke-dasharray="4.6 2.7"/>
<path d="M332.0 28.8 L333.0 26.9 L334.5 23.9 L336.0 21.0 L337.5 18.2 L339.0 15.4 L340.6 12.8 L342.1 10.2 L343.6 7.8 L345.1 5.6 L346.6 3.5 L348.0 1.5 L349.5 -0.2 L350.9 -1.9 L352.4 -3.4 L353.8 -4.7 L355.2 -6.0 L356.6 -7.1 L358.0 -8.2 L359.5 -9.2 L360.9 -10.1 L362.3 -10.9 L363.7 -11.7 L365.1 -12.4 L366.6 -13.1 L368.0 -13.7 L369.4 -14.2 L370.8 -14.7 L372.2 -15.1 L373.7 -15.5 L375.1 -15.9 L376.5 -16.2 L377.9 -16.5 L379.3 -16.8 L380.8 -17.1 L382.2 -17.3 L383.6 -17.5 L385.0 -17.7 L386.5 -17.9 L387.9 -18.0 L389.3 -18.2 L390.7 -18.3 L392.1 -18.5 L393.6 -18.6 L395.0 -18.7 L396.4 -18.8 L397.8 -18.9 L399.2 -19.0 L400.7 -19.1 L402.1 -19.1 L403.5 -19.2 L404.9 -19.3 L406.3 -19.4 L407.8 -19.4 L409.2 -19.5 L410.6 -19.5 L412.0 -19.6 L413.4 -19.6 L414.9 -19.7 L416.3 -19.7 L417.7 -19.8 L419.1 -19.8 L420.6 -19.8 L422.0 -19.9 L423.4 -19.9 L424.8 -19.9 L426.2 -20.0 L427.7 -20.0 L429.1 -20.0 L430.5 -20.0 L431.9 -20.0 L433.3 -20.1 L434.8 -20.1 L436.2 -20.1 L437.1 -20.1 L437.6 -20.1 L439.0 -20.1" fill="none" stroke="#0066cc" stroke-width="1.7"/>
<path d="M252.3 203.2 L253.7 200.1 L255.2 196.9 L256.6 193.8 L258.0 190.6 L259.4 187.4 L260.8 184.3 L262.3 181.1 L263.7 178.0 L265.1 174.8 L266.5 171.6 L267.9 168.5 L269.4 165.3 L270.8 162.2 L272.2 159.0 L273.6 155.8 L275.1 152.7 L276.5 149.5 L277.9 146.3 L279.3 143.2 L280.7 140.0 L282.2 136.9 L283.6 133.7 L285.0 130.5 L286.4 127.4 L287.8 124.2 L289.3 121.1 L290.7 117.9 L292.1 114.7 L293.5 111.6 L294.9 108.4 L296.4 105.3 L297.8 102.1 L299.2 98.9 L300.6 95.8 L302.0 92.6 L303.5 89.5 L304.9 86.3 L306.3 83.1 L307.7 80.0 L309.2 76.8 L310.6 73.7 L312.0 70.5 L313.4 67.3 L314.8 64.2 L316.3 61.0 L317.7 57.9 L319.2 54.7 L320.8 51.6 L322.3 48.5 L323.8 45.3 L325.3 42.2 L326.9 39.1 L328.4 36.0 L328.9 35.0 L329.9 32.9 L331.4 29.9 L333.0 26.9 L334.5 23.9 L336.0 21.0 L337.5 18.2 L339.0 15.4 L340.6 12.8 L342.1 10.2 L343.6 7.8 L345.1 5.6 L346.6 3.5 L348.0 1.5 L349.5 -0.2 L350.9 -1.9 L352.4 -3.4 L353.8 -4.7 L355.2 -6.0 L356.6 -7.1 L358.0 -8.2 L359.5 -9.2 L360.9 -10.1 L362.3 -10.9 L363.7 -11.7 L365.1 -12.4 L366.6 -13.1 L368.0 -13.7 L369.4 -14.2 L370.8 -14.7 L372.2 -15.1 L373.7 -15.5 L375.1 -15.9 L376.5 -16.2 L377.9 -16.5 L379.3 -16.8 L380.8 -17.1 L382.2 -17.3 L383.6 -17.5 L385.0 -17.7 L386.5 -17.9 L387.9 -18.0 L389.3 -18.2 L390.7 -18.3 L392.1 -18.5 L393.6 -18.6 L395.0 -18.7 L396.4 -18.8 L397.8 -18.9 L399.2 -19.0 L400.7 -19.1 L402.1 -19.1 L403.5 -19.2 L404.9 -19.3 L406.3 -19.4 L407.8 -19.4 L409.2 -19.5 L410.6 -19.5 L412.0 -19.6 L413.4 -19.6 L414.9 -19.7 L416.3 -19.7 L417.7 -19.8 L419.1 -19.8 L420.6 -19.8 L422.0 -19.9 L423.4 -19.9 L424.8 -19.9 L426.2 -20.0 L427.7 -20.0 L429.1 -20.0 L430.5 -20.0 L431.9 -20.0 L433.3 -20.1 L434.8 -20.1 L436.2 -20.1 L437.1 -20.1 L437.6 -20.1" fill="none" stroke="#000" stroke-width="1.0" stroke-dasharray="4.6 2.7"/>
<path d="M344.5 29.3 L344.7 28.9 L346.2 25.9 L347.7 22.9 L349.2 20.0 L350.7 17.2 L352.2 14.5 L353.7 11.9 L355.2 9.5 L356.7 7.1 L358.2 5.0 L359.7 2.9 L361.1 1.1 L362.6 -0.6 L364.0 -2.2 L365.4 -3.6 L366.9 -4.9 L368.3 -6.1 L369.7 -7.3 L371.1 -8.3 L372.5 -9.2 L374.0 -10.1 L375.4 -10.9 L376.8 -11.7 L378.2 -12.3 L379.6 -12.9 L381.1 -13.5 L382.5 -14.0 L383.9 -14.5 L385.3 -14.9 L386.8 -15.3 L388.2 -15.6 L389.6 -16.0 L391.0 -16.3 L392.4 -16.5 L393.9 -16.8 L395.3 -17.0 L396.7 -17.2 L398.1 -17.4 L399.5 -17.5 L401.0 -17.7 L402.4 -17.8 L403.8 -18.0 L405.2 -18.1 L406.6 -18.2 L408.1 -18.3 L409.5 -18.4 L410.9 -18.5 L412.3 -18.6 L413.7 -18.7 L415.2 -18.8 L416.6 -18.8 L418.0 -18.9 L419.4 -19.0 L420.9 -19.0 L422.3 -19.1 L423.7 -19.1 L425.1 -19.2 L426.5 -19.2 L428.0 -19.3 L429.4 -19.3 L430.8 -19.4 L432.2 -19.4 L433.6 -19.4 L435.1 -19.5 L436.5 -19.5 L437.4 -19.5 L437.9 -19.5 L439.0 -19.5" fill="none" stroke="#0080bf" stroke-width="1.7"/>
<path d="M252.9 217.4 L254.3 217.4 L255.8 217.4 L257.2 217.4 L258.6 217.4 L260.0 214.8 L261.4 211.6 L262.9 208.5 L264.3 205.3 L265.7 202.1 L267.1 199.0 L268.5 195.8 L270.0 192.6 L271.4 189.5 L272.8 186.3 L274.2 183.2 L275.7 180.0 L277.1 176.8 L278.5 173.7 L279.9 170.5 L281.3 167.4 L282.8 164.2 L284.2 161.0 L285.6 157.9 L287.0 154.7 L288.4 151.6 L289.9 148.4 L291.3 145.2 L292.7 142.1 L294.1 138.9 L295.5 135.8 L297.0 132.6 L298.4 129.4 L299.8 126.3 L301.2 123.1 L302.6 120.0 L304.1 116.8 L305.5 113.6 L306.9 110.5 L308.3 107.3 L309.8 104.1 L311.2 101.0 L312.6 97.8 L314.0 94.7 L315.4 91.5 L316.9 88.3 L318.3 85.2 L319.7 82.0 L321.1 78.9 L322.5 75.7 L324.0 72.6 L325.4 69.4 L326.8 66.2 L328.2 63.1 L329.6 59.9 L331.1 56.8 L332.6 53.6 L334.1 50.5 L335.7 47.4 L337.2 44.2 L338.7 41.1 L340.2 38.0 L341.7 34.9 L341.9 34.5 L343.2 31.9 L344.7 28.9 L346.2 25.9 L347.7 22.9 L349.2 20.0 L350.7 17.2 L352.2 14.5 L353.7 11.9 L355.2 9.5 L356.7 7.1 L358.2 5.0 L359.7 2.9 L361.1 1.1 L362.6 -0.6 L364.0 -2.2 L365.4 -3.6 L366.9 -4.9 L368.3 -6.1 L369.7 -7.3 L371.1 -8.3 L372.5 -9.2 L374.0 -10.1 L375.4 -10.9 L376.8 -11.7 L378.2 -12.3 L379.6 -12.9 L381.1 -13.5 L382.5 -14.0 L383.9 -14.5 L385.3 -14.9 L386.8 -15.3 L388.2 -15.6 L389.6 -16.0 L391.0 -16.3 L392.4 -16.5 L393.9 -16.8 L395.3 -17.0 L396.7 -17.2 L398.1 -17.4 L399.5 -17.5 L401.0 -17.7 L402.4 -17.8 L403.8 -18.0 L405.2 -18.1 L406.6 -18.2 L408.1 -18.3 L409.5 -18.4 L410.9 -18.5 L412.3 -18.6 L413.7 -18.7 L415.2 -18.8 L416.6 -18.8 L418.0 -18.9 L419.4 -19.0 L420.9 -19.0 L422.3 -19.1 L423.7 -19.1 L425.1 -19.2 L426.5 -19.2 L428.0 -19.3 L429.4 -19.3 L430.8 -19.4 L432.2 -19.4 L433.6 -19.4 L435.1 -19.5 L436.5 -19.5 L437.4 -19.5 L437.9 -19.5" fill="none" stroke="#000" stroke-width="1.0" stroke-dasharray="4.6 2.7"/>
<path d="M354.7 34.5 L356.1 31.6 L357.5 28.6 L359.0 25.6 L360.5 22.7 L361.9 19.8 L363.4 17.0 L364.8 14.3 L366.3 11.8 L367.8 9.3 L369.2 7.0 L370.7 4.9 L372.1 2.9 L373.6 1.1 L375.0 -0.6 L376.4 -2.1 L377.8 -3.6 L379.2 -4.8 L380.7 -6.0 L382.1 -7.1 L383.5 -8.1 L384.9 -9.1 L386.4 -9.9 L387.8 -10.7 L389.2 -11.5 L390.6 -12.1 L392.0 -12.7 L393.5 -13.3 L394.9 -13.8 L396.3 -14.2 L397.7 -14.7 L399.1 -15.0 L400.6 -15.4 L402.0 -15.7 L403.4 -16.0 L404.8 -16.2 L406.2 -16.5 L407.7 -16.7 L409.1 -16.9 L410.5 -17.1 L411.9 -17.2 L413.3 -17.4 L414.8 -17.5 L416.2 -17.7 L417.6 -17.8 L419.0 -17.9 L420.5 -18.0 L421.9 -18.1 L423.3 -18.2 L424.7 -18.3 L426.1 -18.4 L427.6 -18.4 L429.0 -18.5 L430.4 -18.6 L431.8 -18.6 L433.2 -18.7 L434.7 -18.8 L436.1 -18.8 L437.0 -18.8 L437.5 -18.9 L439.0 -18.9" fill="none" stroke="#0099b2" stroke-width="1.7"/>
<path d="M253.4 217.4 L254.8 217.4 L256.3 217.4 L257.7 217.4 L259.1 217.4 L260.5 217.4 L261.9 217.4 L263.4 217.4 L264.8 217.4 L266.2 217.4 L267.6 217.4 L269.0 217.4 L270.5 217.4 L271.9 217.4 L273.3 214.5 L274.7 211.3 L276.2 208.2 L277.6 205.0 L279.0 201.8 L280.4 198.7 L281.8 195.5 L283.3 192.3 L284.7 189.2 L286.1 186.0 L287.5 182.9 L288.9 179.7 L290.4 176.5 L291.8 173.4 L293.2 170.2 L294.6 167.1 L296.0 163.9 L297.5 160.7 L298.9 157.6 L300.3 154.4 L301.7 151.3 L303.1 148.1 L304.6 144.9 L306.0 141.8 L307.4 138.6 L308.8 135.5 L310.3 132.3 L311.7 129.1 L313.1 126.0 L314.5 122.8 L315.9 119.6 L317.4 116.5 L318.8 113.3 L320.2 110.2 L321.6 107.0 L323.0 103.8 L324.5 100.7 L325.9 97.5 L327.3 94.4 L328.7 91.2 L330.1 88.0 L331.6 84.9 L333.0 81.7 L334.4 78.6 L335.8 75.4 L337.2 72.2 L338.7 69.1 L340.1 65.9 L341.5 62.8 L342.9 59.6 L344.4 56.5 L345.8 53.3 L347.3 50.2 L348.8 47.1 L350.2 43.9 L351.7 40.8 L352.2 39.9 L353.2 37.7 L354.6 34.7 L356.1 31.6 L357.5 28.6 L359.0 25.6 L360.5 22.7 L361.9 19.8 L363.4 17.0 L364.8 14.3 L366.3 11.8 L367.8 9.3 L369.2 7.0 L370.7 4.9 L372.1 2.9 L373.6 1.1 L375.0 -0.6 L376.4 -2.1 L377.8 -3.6 L379.2 -4.8 L380.7 -6.0 L382.1 -7.1 L383.5 -8.1 L384.9 -9.1 L386.4 -9.9 L387.8 -10.7 L389.2 -11.5 L390.6 -12.1 L392.0 -12.7 L393.5 -13.3 L394.9 -13.8 L396.3 -14.2 L397.7 -14.7 L399.1 -15.0 L400.6 -15.4 L402.0 -15.7 L403.4 -16.0 L404.8 -16.2 L406.2 -16.5 L407.7 -16.7 L409.1 -16.9 L410.5 -17.1 L411.9 -17.2 L413.3 -17.4 L414.8 -17.5 L416.2 -17.7 L417.6 -17.8 L419.0 -17.9 L420.5 -18.0 L421.9 -18.1 L423.3 -18.2 L424.7 -18.3 L426.1 -18.4 L427.6 -18.4 L429.0 -18.5 L430.4 -18.6 L431.8 -18.6 L433.2 -18.7 L434.7 -18.8 L436.1 -18.8 L437.0 -18.8 L437.5 -18.9" fill="none" stroke="#000" stroke-width="1.0" stroke-dasharray="4.6 2.7"/>
<path d="M365.4 36.5 L366.1 35.0 L367.5 32.0 L368.9 28.9 L370.3 26.0 L371.7 23.0 L373.2 20.2 L374.6 17.4 L376.0 14.7 L377.4 12.1 L378.8 9.7 L380.3 7.4 L381.7 5.2 L383.1 3.2 L384.5 1.4 L386.0 -0.3 L387.4 -1.8 L388.8 -3.2 L390.2 -4.5 L391.6 -5.7 L393.1 -6.8 L394.5 -7.8 L395.9 -8.8 L397.3 -9.6 L398.7 -10.4 L400.2 -11.1 L401.6 -11.8 L403.0 -12.4 L404.4 -13.0 L405.8 -13.5 L407.3 -13.9 L408.7 -14.4 L410.1 -14.7 L411.5 -15.1 L412.9 -15.4 L414.4 -15.7 L415.8 -15.9 L417.2 -16.2 L418.6 -16.4 L420.1 -16.6 L421.5 -16.8 L422.9 -16.9 L424.3 -17.1 L425.7 -17.2 L427.2 -17.4 L428.6 -17.5 L430.0 -17.6 L431.4 -17.7 L432.8 -17.8 L434.3 -17.9 L435.7 -18.0 L436.6 -18.0 L437.1 -18.1 L439.0 -18.1" fill="none" stroke="#00b2a6" stroke-width="1.7"/>
<path d="M253.8 217.4 L255.2 217.4 L256.7 217.4 L258.1 217.4 L259.5 217.4 L260.9 217.4 L262.3 217.4 L263.8 217.4 L265.2 217.4 L266.6 217.4 L268.0 217.4 L269.4 217.4 L270.9 217.4 L272.3 217.4 L273.7 217.4 L275.1 217.4 L276.6 217.4 L278.0 217.4 L279.4 217.4 L280.8 217.4 L282.2 217.4 L283.7 217.4 L285.1 214.8 L286.5 211.7 L287.9 208.5 L289.3 205.4 L290.8 202.2 L292.2 199.0 L293.6 195.9 L295.0 192.7 L296.4 189.6 L297.9 186.4 L299.3 183.2 L300.7 180.1 L302.1 176.9 L303.5 173.8 L305.0 170.6 L306.4 167.4 L307.8 164.3 L309.2 161.1 L310.7 157.9 L312.1 154.8 L313.5 151.6 L314.9 148.5 L316.3 145.3 L317.8 142.1 L319.2 139.0 L320.6 135.8 L322.0 132.7 L323.4 129.5 L324.9 126.3 L326.3 123.2 L327.7 120.0 L329.1 116.9 L330.5 113.7 L332.0 110.5 L333.4 107.4 L334.8 104.2 L336.2 101.1 L337.6 97.9 L339.1 94.7 L340.5 91.6 L341.9 88.4 L343.3 85.3 L344.7 82.1 L346.2 78.9 L347.6 75.8 L349.0 72.6 L350.4 69.5 L351.9 66.3 L353.3 63.2 L354.7 60.0 L356.1 56.9 L357.5 53.7 L359.0 50.6 L360.4 47.4 L361.8 44.3 L363.0 41.7 L363.2 41.2 L364.6 38.1 L366.1 35.0 L367.5 32.0 L368.9 28.9 L370.3 26.0 L371.7 23.0 L373.2 20.2 L374.6 17.4 L376.0 14.7 L377.4 12.1 L378.8 9.7 L380.3 7.4 L381.7 5.2 L383.1 3.2 L384.5 1.4 L386.0 -0.3 L387.4 -1.8 L388.8 -3.2 L390.2 -4.5 L391.6 -5.7 L393.1 -6.8 L394.5 -7.8 L395.9 -8.8 L397.3 -9.6 L398.7 -10.4 L400.2 -11.1 L401.6 -11.8 L403.0 -12.4 L404.4 -13.0 L405.8 -13.5 L407.3 -13.9 L408.7 -14.4 L410.1 -14.7 L411.5 -15.1 L412.9 -15.4 L414.4 -15.7 L415.8 -15.9 L417.2 -16.2 L418.6 -16.4 L420.1 -16.6 L421.5 -16.8 L422.9 -16.9 L424.3 -17.1 L425.7 -17.2 L427.2 -17.4 L428.6 -17.5 L430.0 -17.6 L431.4 -17.7 L432.8 -17.8 L434.3 -17.9 L435.7 -18.0 L436.6 -18.0 L437.1 -18.1" fill="none" stroke="#000" stroke-width="1.0" stroke-dasharray="4.6 2.7"/>
<path d="M377.2 36.0 L377.4 35.5 L378.8 32.5 L380.2 29.4 L381.6 26.5 L383.0 23.5 L384.4 20.7 L385.8 17.9 L387.1 15.2 L388.5 12.6 L389.9 10.1 L391.3 7.8 L392.7 5.6 L394.1 3.6 L395.5 1.8 L396.9 0.1 L398.4 -1.5 L399.8 -2.9 L401.2 -4.2 L402.6 -5.4 L404.0 -6.5 L405.5 -7.5 L406.9 -8.4 L408.3 -9.3 L409.7 -10.1 L411.1 -10.8 L412.6 -11.5 L414.0 -12.1 L415.4 -12.7 L416.8 -13.2 L418.3 -13.7 L419.7 -14.1 L421.1 -14.5 L422.5 -14.8 L423.9 -15.1 L425.4 -15.4 L426.8 -15.7 L428.2 -15.9 L429.6 -16.1 L431.0 -16.3 L432.5 -16.5 L433.9 -16.7 L434.8 -16.8 L435.3 -16.8 L439.0 -16.8" fill="none" stroke="#00cc99" stroke-width="1.7"/>
<path d="M252.6 217.4 L254.0 217.4 L255.5 217.4 L256.9 217.4 L258.3 217.4 L259.7 217.4 L261.1 217.4 L262.6 217.4 L264.0 217.4 L265.4 217.4 L266.8 217.4 L268.2 217.4 L269.7 217.4 L271.1 217.4 L272.5 217.4 L273.9 217.4 L275.4 217.4 L276.8 217.4 L278.2 217.4 L279.6 217.4 L281.0 217.4 L282.5 217.4 L283.9 217.4 L285.3 217.4 L286.7 217.4 L288.1 217.4 L289.6 217.4 L291.0 217.4 L292.4 217.4 L293.8 217.4 L295.2 217.4 L296.7 215.3 L298.1 212.2 L299.5 209.0 L300.9 205.9 L302.3 202.7 L303.8 199.5 L305.2 196.4 L306.6 193.2 L308.0 190.1 L309.5 186.9 L310.9 183.7 L312.3 180.6 L313.7 177.4 L315.1 174.3 L316.6 171.1 L318.0 167.9 L319.4 164.8 L320.8 161.6 L322.2 158.5 L323.7 155.3 L325.1 152.1 L326.5 149.0 L327.9 145.8 L329.3 142.6 L330.8 139.5 L332.2 136.3 L333.6 133.2 L335.0 130.0 L336.4 126.8 L337.9 123.7 L339.3 120.5 L340.7 117.4 L342.1 114.2 L343.5 111.0 L345.0 107.9 L346.4 104.7 L347.8 101.6 L349.2 98.4 L350.7 95.2 L352.1 92.1 L353.5 88.9 L354.9 85.8 L356.3 82.6 L357.8 79.4 L359.2 76.3 L360.6 73.1 L362.0 70.0 L363.4 66.8 L364.9 63.7 L366.3 60.5 L367.7 57.4 L369.1 54.2 L370.5 51.1 L371.9 47.9 L373.2 44.8 L373.5 44.3 L374.6 41.7 L376.0 38.6 L377.4 35.5 L378.8 32.5 L380.2 29.4 L381.6 26.5 L383.0 23.5 L384.4 20.7 L385.8 17.9 L387.1 15.2 L388.5 12.6 L389.9 10.1 L391.3 7.8 L392.7 5.6 L394.1 3.6 L395.5 1.8 L396.9 0.1 L398.4 -1.5 L399.8 -2.9 L401.2 -4.2 L402.6 -5.4 L404.0 -6.5 L405.5 -7.5 L406.9 -8.4 L408.3 -9.3 L409.7 -10.1 L411.1 -10.8 L412.6 -11.5 L414.0 -12.1 L415.4 -12.7 L416.8 -13.2 L418.3 -13.7 L419.7 -14.1 L421.1 -14.5 L422.5 -14.8 L423.9 -15.1 L425.4 -15.4 L426.8 -15.7 L428.2 -15.9 L429.6 -16.1 L431.0 -16.3 L432.5 -16.5 L433.9 -16.7 L434.8 -16.8 L435.3 -16.8" fill="none" stroke="#000" stroke-width="1.0" stroke-dasharray="4.6 2.7"/>
<path d="M387.9 35.9 L387.9 35.8 L389.3 32.8 L390.7 29.8 L392.1 26.8 L393.5 23.8 L394.9 21.0 L396.3 18.2 L397.7 15.5 L399.1 12.9 L400.5 10.4 L401.9 8.1 L403.3 5.9 L404.7 3.9 L406.1 2.1 L407.5 0.4 L408.9 -1.2 L410.3 -2.6 L411.8 -3.9 L413.2 -5.1 L414.6 -6.2 L416.0 -7.2 L417.5 -8.2 L418.9 -9.0 L420.3 -9.8 L421.7 -10.6 L423.1 -11.2 L424.6 -11.9 L426.0 -12.4 L427.4 -12.9 L428.8 -13.4 L430.2 -13.8 L431.7 -14.2 L433.1 -14.5 L434.0 -14.7 L434.5 -14.9 L439.0 -14.9" fill="none" stroke="#00e68c" stroke-width="1.7"/>
<path d="M251.7 217.4 L253.1 217.4 L254.6 217.4 L256.0 217.4 L257.4 217.4 L258.8 217.4 L260.2 217.4 L261.7 217.4 L263.1 217.4 L264.5 217.4 L265.9 217.4 L267.3 217.4 L268.8 217.4 L270.2 217.4 L271.6 217.4 L273.0 217.4 L274.5 217.4 L275.9 217.4 L277.3 217.4 L278.7 217.4 L280.1 217.4 L281.6 217.4 L283.0 217.4 L284.4 217.4 L285.8 217.4 L287.2 217.4 L288.7 217.4 L290.1 217.4 L291.5 217.4 L292.9 217.4 L294.3 217.4 L295.8 217.4 L297.2 217.4 L298.6 217.4 L300.0 217.4 L301.4 217.4 L302.9 217.4 L304.3 217.4 L305.7 217.4 L307.1 215.7 L308.6 212.5 L310.0 209.4 L311.4 206.2 L312.8 203.0 L314.2 199.9 L315.7 196.7 L317.1 193.5 L318.5 190.4 L319.9 187.2 L321.3 184.1 L322.8 180.9 L324.2 177.7 L325.6 174.6 L327.0 171.4 L328.4 168.3 L329.9 165.1 L331.3 161.9 L332.7 158.8 L334.1 155.6 L335.5 152.5 L337.0 149.3 L338.4 146.1 L339.8 143.0 L341.2 139.8 L342.6 136.7 L344.1 133.5 L345.5 130.3 L346.9 127.2 L348.3 124.0 L349.8 120.8 L351.2 117.7 L352.6 114.5 L354.0 111.4 L355.4 108.2 L356.9 105.0 L358.3 101.9 L359.7 98.7 L361.1 95.6 L362.5 92.4 L364.0 89.2 L365.4 86.1 L366.8 82.9 L368.2 79.8 L369.6 76.6 L371.1 73.4 L372.5 70.3 L373.9 67.1 L375.3 64.0 L376.7 60.8 L378.2 57.7 L379.6 54.5 L380.9 51.4 L382.3 48.3 L383.3 46.1 L383.7 45.1 L385.1 42.0 L386.5 38.9 L387.9 35.8 L389.3 32.8 L390.7 29.8 L392.1 26.8 L393.5 23.8 L394.9 21.0 L396.3 18.2 L397.7 15.5 L399.1 12.9 L400.5 10.4 L401.9 8.1 L403.3 5.9 L404.7 3.9 L406.1 2.1 L407.5 0.4 L408.9 -1.2 L410.3 -2.6 L411.8 -3.9 L413.2 -5.1 L414.6 -6.2 L416.0 -7.2 L417.5 -8.2 L418.9 -9.0 L420.3 -9.8 L421.7 -10.6 L423.1 -11.2 L424.6 -11.9 L426.0 -12.4 L427.4 -12.9 L428.8 -13.4 L430.2 -13.8 L431.7 -14.2 L433.1 -14.5 L434.0 -14.7 L434.5 -14.9" fill="none" stroke="#000" stroke-width="1.0" stroke-dasharray="4.6 2.7"/>
<path d="M399.3 34.7 L399.4 34.6 L400.8 31.5 L402.2 28.5 L403.6 25.6 L405.0 22.7 L406.4 19.8 L407.8 17.1 L409.2 14.4 L410.6 11.9 L412.0 9.5 L413.4 7.2 L414.8 5.1 L416.2 3.2 L417.7 1.4 L419.1 -0.2 L420.5 -1.7 L421.9 -3.0 L423.3 -4.3 L424.8 -5.5 L426.2 -6.5 L427.6 -7.5 L429.0 -8.4 L430.4 -9.3 L431.9 -10.0 L433.3 -10.7 L434.2 -11.1 L434.7 -11.4 L439.0 -11.4" fill="none" stroke="#00ff80" stroke-width="1.7"/>
<path d="M251.7 217.4 L253.1 217.4 L254.6 217.4 L256.0 217.4 L257.4 217.4 L258.8 217.4 L260.2 217.4 L261.7 217.4 L263.1 217.4 L264.5 217.4 L265.9 217.4 L267.3 217.4 L268.8 217.4 L270.2 217.4 L271.6 217.4 L273.0 217.4 L274.5 217.4 L275.9 217.4 L277.3 217.4 L278.7 217.4 L280.1 217.4 L281.6 217.4 L283.0 217.4 L284.4 217.4 L285.8 217.4 L287.2 217.4 L288.7 217.4 L290.1 217.4 L291.5 217.4 L292.9 217.4 L294.3 217.4 L295.8 217.4 L297.2 217.4 L298.6 217.4 L300.0 217.4 L301.4 217.4 L302.9 217.4 L304.3 217.4 L305.7 217.4 L307.1 217.4 L308.6 217.4 L310.0 217.4 L311.4 217.4 L312.8 217.4 L314.2 217.4 L315.7 217.4 L317.1 217.4 L318.5 214.4 L319.9 211.2 L321.3 208.0 L322.8 204.9 L324.2 201.7 L325.6 198.6 L327.0 195.4 L328.4 192.2 L329.9 189.1 L331.3 185.9 L332.7 182.7 L334.1 179.6 L335.5 176.4 L337.0 173.3 L338.4 170.1 L339.8 166.9 L341.2 163.8 L342.6 160.6 L344.1 157.5 L345.5 154.3 L346.9 151.1 L348.3 148.0 L349.8 144.8 L351.2 141.7 L352.6 138.5 L354.0 135.3 L355.4 132.2 L356.9 129.0 L358.3 125.9 L359.7 122.7 L361.1 119.5 L362.5 116.4 L364.0 113.2 L365.4 110.1 L366.8 106.9 L368.2 103.7 L369.6 100.6 L371.1 97.4 L372.5 94.2 L373.9 91.1 L375.3 87.9 L376.7 84.8 L378.2 81.6 L379.6 78.5 L381.0 75.3 L382.4 72.1 L383.9 69.0 L385.3 65.8 L386.7 62.7 L388.1 59.5 L389.5 56.4 L390.9 53.2 L392.3 50.1 L393.7 47.0 L394.7 44.8 L395.1 43.8 L396.5 40.7 L398.0 37.6 L399.4 34.6 L400.8 31.5 L402.2 28.5 L403.6 25.6 L405.0 22.7 L406.4 19.8 L407.8 17.1 L409.2 14.4 L410.6 11.9 L412.0 9.5 L413.4 7.2 L414.8 5.1 L416.2 3.2 L417.7 1.4 L419.1 -0.2 L420.5 -1.7 L421.9 -3.0 L423.3 -4.3 L424.8 -5.5 L426.2 -6.5 L427.6 -7.5 L429.0 -8.4 L430.4 -9.3 L431.9 -10.0 L433.3 -10.7 L434.2 -11.1 L434.7 -11.4" fill="none" stroke="#000" stroke-width="1.0" stroke-dasharray="4.6 2.7"/>
</g>
<g clip-path="url(#clipbR)">
<path d="M288.3 88.3 L288.5 87.9 L289.6 85.5 L290.8 83.4 L292.0 81.5 L293.3 79.8 L294.5 78.4 L295.8 77.2 L297.1 76.2 L298.4 75.3 L299.8 74.7 L301.2 74.2 L302.5 73.9 L303.9 73.7 L305.4 73.7 L306.8 73.9 L308.3 74.2 L309.7 74.6 L311.2 75.2 L312.7 75.9 L314.2 76.7 L315.8 77.7 L317.3 78.7 L318.8 79.8 L320.4 81.0 L321.9 82.3 L323.5 83.6 L325.1 85.0 L326.7 86.4 L328.2 87.8 L329.8 89.3 L331.4 90.8 L332.9 92.3 L334.4 93.8 L335.8 95.4 L337.2 96.9 L338.6 98.5 L340.0 100.0 L341.5 101.6 L342.9 103.1 L344.3 104.7 L345.7 106.3 L347.1 107.9 L348.6 109.5 L350.0 111.1 L351.4 112.8 L352.8 114.4 L354.3 116.1 L355.7 117.7 L357.1 119.4 L358.5 121.1 L359.9 122.8 L361.4 124.5 L362.8 126.2 L364.2 127.9 L365.6 129.7 L367.0 131.4 L368.5 133.2 L369.9 135.0 L371.3 136.8 L372.7 138.6 L374.1 140.4 L375.6 142.2 L377.0 144.0 L378.4 145.9 L379.8 147.7 L381.2 149.6 L382.7 151.5 L384.1 153.4 L385.5 155.3 L386.9 157.2 L388.4 159.1 L389.8 161.1 L391.2 163.0 L392.6 165.0 L394.0 167.0 L395.5 169.0 L396.9 171.0 L398.3 173.0 L399.7 175.1 L401.1 177.1 L402.6 179.2 L404.0 181.2 L405.4 183.3 L406.8 185.4 L408.2 187.5 L409.7 189.6 L411.1 191.8 L412.5 193.9 L413.9 196.1 L415.3 198.2 L416.8 200.4 L418.2 202.6 L419.6 204.8 L421.0 207.1 L422.5 209.3 L423.9 211.5 L425.3 213.8 L426.7 216.0 L428.1 218.3 L429.6 220.6 L431.0 222.9 L432.4 225.2 L433.8 227.6 L435.2 229.9 L436.7 232.3 L438.1 234.6 L439.0 236.2" fill="none" stroke="#0000ff" stroke-width="1.7"/>
<path d="M254.3 169.1 L255.7 165.3 L257.2 161.5 L258.6 157.8 L260.0 154.0 L261.4 150.3 L262.8 146.5 L264.3 142.8 L265.7 139.0 L267.1 135.3 L268.5 131.6 L269.9 127.9 L271.4 124.2 L272.8 120.5 L274.2 116.9 L275.9 113.3 L277.6 109.8 L279.4 106.3 L281.1 102.9 L282.9 99.6 L284.6 96.4 L286.1 93.4 L287.3 90.6 L288.0 89.0 L288.5 87.9 L289.6 85.5 L290.8 83.4 L292.0 81.5 L293.3 79.8 L294.5 78.4 L295.8 77.2 L297.1 76.2 L298.4 75.3 L299.8 74.7 L301.2 74.2 L302.5 73.9 L303.9 73.7 L305.4 73.7 L306.8 73.9 L308.3 74.2 L309.7 74.6 L311.2 75.2 L312.7 75.9 L314.2 76.7 L315.8 77.7 L317.3 78.7 L318.8 79.8 L320.4 81.0 L321.9 82.3 L323.5 83.6 L325.1 85.0 L326.7 86.4 L328.2 87.8 L329.8 89.3 L331.4 90.8 L332.9 92.3 L334.4 93.8 L335.8 95.4 L337.2 96.9 L338.6 98.5 L340.0 100.0 L341.5 101.6 L342.9 103.1 L344.3 104.7 L345.7 106.3 L347.1 107.9 L348.6 109.5 L350.0 111.1 L351.4 112.8 L352.8 114.4 L354.3 116.1 L355.7 117.7 L357.1 119.4 L358.5 121.1 L359.9 122.8 L361.4 124.5 L362.8 126.2 L364.2 127.9 L365.6 129.7 L367.0 131.4 L368.5 133.2 L369.9 135.0 L371.3 136.8 L372.7 138.6 L374.1 140.4 L375.6 142.2 L377.0 144.0 L378.4 145.9 L379.8 147.7 L381.2 149.6 L382.7 151.5 L384.1 153.4 L385.5 155.3 L386.9 157.2 L388.4 159.1 L389.8 161.1 L391.2 163.0 L392.6 165.0 L394.0 167.0 L395.5 169.0 L396.9 171.0 L398.3 173.0 L399.7 175.1 L401.1 177.1 L402.6 179.2 L404.0 181.2 L405.4 183.3 L406.8 185.4 L408.2 187.5 L409.7 189.6 L411.1 191.8 L412.5 193.9 L413.9 196.1 L415.3 198.2 L416.8 200.4 L418.2 202.6 L419.6 204.8 L421.0 207.1 L422.5 209.3 L423.9 211.5 L425.3 213.8 L426.7 216.0 L428.1 218.3 L429.6 220.6 L431.0 222.9 L432.4 225.2 L433.8 227.6 L435.2 229.9 L436.7 232.3 L438.1 234.6 L439.0 236.2 L439.5 237.0" fill="none" stroke="#000" stroke-width="1.0" stroke-dasharray="4.6 2.7"/>
<path d="M290.0 117.6 L291.4 114.4 L293.2 110.8 L294.9 107.4 L296.7 104.0 L298.4 100.7 L300.1 97.5 L301.7 94.5 L302.9 91.7 L304.1 89.1 L305.2 86.7 L306.4 84.6 L307.6 82.7 L308.9 81.1 L310.1 79.7 L311.4 78.5 L312.7 77.5 L314.1 76.7 L315.4 76.0 L316.8 75.6 L318.2 75.3 L319.6 75.1 L321.0 75.1 L322.4 75.3 L323.9 75.6 L325.4 76.1 L326.8 76.6 L328.4 77.4 L329.9 78.2 L331.4 79.2 L332.9 80.2 L334.5 81.3 L336.0 82.5 L337.6 83.8 L339.2 85.1 L340.7 86.5 L342.3 87.9 L343.9 89.4 L345.5 90.8 L347.1 92.3 L348.6 93.8 L350.0 95.4 L351.4 96.9 L352.8 98.4 L354.3 100.0 L355.7 101.5 L357.1 103.1 L358.5 104.7 L359.9 106.2 L361.4 107.8 L362.8 109.4 L364.2 111.0 L365.6 112.6 L367.0 114.2 L368.5 115.8 L369.9 117.4 L371.3 119.0 L372.7 120.6 L374.1 122.2 L375.6 123.8 L377.0 125.5 L378.4 127.1 L379.8 128.7 L381.2 130.4 L382.7 132.0 L384.1 133.7 L385.5 135.3 L386.9 137.0 L388.4 138.7 L389.8 140.3 L391.2 142.0 L392.6 143.7 L394.0 145.4 L395.5 147.1 L396.9 148.8 L398.3 150.5 L399.7 152.2 L401.1 153.9 L402.6 155.7 L404.0 157.4 L405.4 159.1 L406.8 160.9 L408.2 162.6 L409.7 164.4 L411.1 166.2 L412.5 167.9 L413.9 169.7 L415.3 171.5 L416.8 173.3 L418.2 175.1 L419.6 176.9 L421.0 178.7 L422.5 180.5 L423.9 182.3 L425.3 184.1 L426.7 186.0 L428.1 187.8 L429.6 189.6 L431.0 191.5 L432.4 193.3 L433.8 195.2 L435.2 197.1 L436.7 198.9 L438.1 200.8 L439.0 202.0" fill="none" stroke="#001af2" stroke-width="1.7"/>
<path d="M254.3 211.5 L255.7 207.8 L257.2 204.0 L258.6 200.2 L260.0 196.5 L261.4 192.7 L262.8 188.9 L264.3 185.2 L265.7 181.4 L267.1 177.7 L268.5 173.9 L269.9 170.1 L271.4 166.4 L272.8 162.6 L274.2 158.8 L275.6 155.1 L277.1 151.3 L278.5 147.6 L279.9 143.8 L281.3 140.1 L282.7 136.4 L284.2 132.6 L285.6 128.9 L287.0 125.3 L288.1 122.4 L288.4 121.6 L289.8 118.0 L291.4 114.4 L293.2 110.8 L294.9 107.4 L296.7 104.0 L298.4 100.7 L300.1 97.5 L301.7 94.5 L302.9 91.7 L304.1 89.1 L305.2 86.7 L306.4 84.6 L307.6 82.7 L308.9 81.1 L310.1 79.7 L311.4 78.5 L312.7 77.5 L314.1 76.7 L315.4 76.0 L316.8 75.6 L318.2 75.3 L319.6 75.1 L321.0 75.1 L322.4 75.3 L323.9 75.6 L325.4 76.1 L326.8 76.6 L328.4 77.4 L329.9 78.2 L331.4 79.2 L332.9 80.2 L334.5 81.3 L336.0 82.5 L337.6 83.8 L339.2 85.1 L340.7 86.5 L342.3 87.9 L343.9 89.4 L345.5 90.8 L347.1 92.3 L348.6 93.8 L350.0 95.4 L351.4 96.9 L352.8 98.4 L354.3 100.0 L355.7 101.5 L357.1 103.1 L358.5 104.7 L359.9 106.2 L361.4 107.8 L362.8 109.4 L364.2 111.0 L365.6 112.6 L367.0 114.2 L368.5 115.8 L369.9 117.4 L371.3 119.0 L372.7 120.6 L374.1 122.2 L375.6 123.8 L377.0 125.5 L378.4 127.1 L379.8 128.7 L381.2 130.4 L382.7 132.0 L384.1 133.7 L385.5 135.3 L386.9 137.0 L388.4 138.7 L389.8 140.3 L391.2 142.0 L392.6 143.7 L394.0 145.4 L395.5 147.1 L396.9 148.8 L398.3 150.5 L399.7 152.2 L401.1 153.9 L402.6 155.7 L404.0 157.4 L405.4 159.1 L406.8 160.9 L408.2 162.6 L409.7 164.4 L411.1 166.2 L412.5 167.9 L413.9 169.7 L415.3 171.5 L416.8 173.3 L418.2 175.1 L419.6 176.9 L421.0 178.7 L422.5 180.5 L423.9 182.3 L425.3 184.1 L426.7 186.0 L428.1 187.8 L429.6 189.6 L431.0 191.5 L432.4 193.3 L433.8 195.2 L435.2 197.1 L436.7 198.9 L438.1 200.8 L439.0 202.0 L439.5 202.7" fill="none" stroke="#000" stroke-width="1.0" stroke-dasharray="4.6 2.7"/>
<path d="M305.0 115.7 L305.6 114.3 L307.4 110.7 L309.1 107.3 L310.9 103.9 L312.6 100.7 L314.3 97.6 L315.9 94.6 L317.1 91.8 L318.2 89.3 L319.4 87.0 L320.6 84.9 L321.8 83.1 L323.0 81.5 L324.3 80.2 L325.6 79.1 L326.9 78.1 L328.3 77.4 L329.6 76.8 L331.0 76.4 L332.4 76.1 L333.8 76.0 L335.2 76.1 L336.7 76.3 L338.1 76.6 L339.6 77.1 L341.1 77.7 L342.6 78.5 L344.1 79.4 L345.6 80.3 L347.2 81.4 L348.7 82.6 L350.3 83.8 L351.8 85.1 L353.4 86.4 L355.0 87.8 L356.6 89.2 L358.1 90.7 L359.7 92.2 L361.3 93.7 L362.8 95.2 L364.2 96.7 L365.6 98.2 L367.0 99.8 L368.5 101.3 L369.9 102.9 L371.3 104.5 L372.7 106.0 L374.1 107.6 L375.6 109.2 L377.0 110.7 L378.4 112.3 L379.8 113.9 L381.2 115.4 L382.7 117.0 L384.1 118.6 L385.5 120.2 L386.9 121.8 L388.4 123.3 L389.8 124.9 L391.2 126.5 L392.6 128.1 L394.0 129.7 L395.5 131.2 L396.9 132.8 L398.3 134.4 L399.7 136.0 L401.1 137.6 L402.6 139.2 L404.0 140.8 L405.4 142.4 L406.8 144.0 L408.2 145.6 L409.7 147.2 L411.1 148.8 L412.5 150.4 L413.9 152.0 L415.3 153.6 L416.8 155.2 L418.2 156.9 L419.6 158.5 L421.0 160.1 L422.5 161.7 L423.9 163.4 L425.3 165.0 L426.7 166.6 L428.1 168.3 L429.6 169.9 L431.0 171.5 L432.4 173.2 L433.8 174.8 L435.2 176.5 L436.7 178.1 L438.1 179.8 L439.0 180.9" fill="none" stroke="#0033e6" stroke-width="1.7"/>
<path d="M254.3 249.0 L255.7 245.2 L257.2 241.5 L258.6 237.7 L260.0 233.9 L261.4 230.2 L262.8 226.4 L264.3 222.6 L265.7 218.9 L267.1 215.1 L268.5 211.4 L269.9 207.6 L271.4 203.8 L272.8 200.1 L274.2 196.3 L275.6 192.5 L277.1 188.8 L278.5 185.0 L279.9 181.2 L281.3 177.5 L282.7 173.7 L284.2 169.9 L285.6 166.2 L287.0 162.4 L288.4 158.7 L289.8 154.9 L291.3 151.2 L292.7 147.4 L294.1 143.7 L295.5 139.9 L296.9 136.2 L298.4 132.5 L299.8 128.8 L301.2 125.1 L302.6 121.4 L303.1 120.2 L304.0 117.8 L305.6 114.3 L307.4 110.7 L309.1 107.3 L310.9 103.9 L312.6 100.7 L314.3 97.6 L315.9 94.6 L317.1 91.8 L318.2 89.3 L319.4 87.0 L320.6 84.9 L321.8 83.1 L323.0 81.5 L324.3 80.2 L325.6 79.1 L326.9 78.1 L328.3 77.4 L329.6 76.8 L331.0 76.4 L332.4 76.1 L333.8 76.0 L335.2 76.1 L336.7 76.3 L338.1 76.6 L339.6 77.1 L341.1 77.7 L342.6 78.5 L344.1 79.4 L345.6 80.3 L347.2 81.4 L348.7 82.6 L350.3 83.8 L351.8 85.1 L353.4 86.4 L355.0 87.8 L356.6 89.2 L358.1 90.7 L359.7 92.2 L361.3 93.7 L362.8 95.2 L364.2 96.7 L365.6 98.2 L367.0 99.8 L368.5 101.3 L369.9 102.9 L371.3 104.5 L372.7 106.0 L374.1 107.6 L375.6 109.2 L377.0 110.7 L378.4 112.3 L379.8 113.9 L381.2 115.4 L382.7 117.0 L384.1 118.6 L385.5 120.2 L386.9 121.8 L388.4 123.3 L389.8 124.9 L391.2 126.5 L392.6 128.1 L394.0 129.7 L395.5 131.2 L396.9 132.8 L398.3 134.4 L399.7 136.0 L401.1 137.6 L402.6 139.2 L404.0 140.8 L405.4 142.4 L406.8 144.0 L408.2 145.6 L409.7 147.2 L411.1 148.8 L412.5 150.4 L413.9 152.0 L415.3 153.6 L416.8 155.2 L418.2 156.9 L419.6 158.5 L421.0 160.1 L422.5 161.7 L423.9 163.4 L425.3 165.0 L426.7 166.6 L428.1 168.3 L429.6 169.9 L431.0 171.5 L432.4 173.2 L433.8 174.8 L435.2 176.5 L436.7 178.1 L438.1 179.8 L439.0 180.9 L439.5 181.4" fill="none" stroke="#000" stroke-width="1.0" stroke-dasharray="4.6 2.7"/>
<path d="M318.7 115.7 L320.0 113.1 L321.7 109.6 L323.4 106.2 L325.2 102.9 L326.9 99.7 L328.6 96.7 L330.0 93.8 L331.1 91.1 L332.3 88.7 L333.5 86.5 L334.7 84.6 L335.9 82.9 L337.2 81.4 L338.4 80.2 L339.8 79.2 L341.1 78.3 L342.4 77.7 L343.8 77.2 L345.2 76.8 L346.6 76.6 L348.0 76.6 L349.4 76.7 L350.9 77.0 L352.3 77.4 L353.8 78.0 L355.3 78.7 L356.8 79.5 L358.4 80.4 L359.9 81.5 L361.4 82.6 L363.0 83.8 L364.6 85.0 L366.1 86.3 L367.7 87.7 L369.3 89.1 L370.9 90.5 L372.4 92.0 L374.0 93.5 L375.6 95.0 L377.0 96.5 L378.4 98.1 L379.8 99.6 L381.2 101.2 L382.7 102.7 L384.1 104.3 L385.5 105.8 L386.9 107.4 L388.4 109.0 L389.8 110.5 L391.2 112.1 L392.6 113.7 L394.0 115.2 L395.5 116.8 L396.9 118.3 L398.3 119.9 L399.7 121.5 L401.1 123.0 L402.6 124.6 L404.0 126.1 L405.4 127.7 L406.8 129.3 L408.2 130.8 L409.7 132.4 L411.1 133.9 L412.5 135.5 L413.9 137.0 L415.3 138.6 L416.8 140.1 L418.2 141.7 L419.6 143.2 L421.0 144.8 L422.5 146.4 L423.9 147.9 L425.3 149.5 L426.7 151.0 L428.1 152.6 L429.6 154.2 L431.0 155.7 L432.4 157.3 L433.8 158.8 L435.2 160.4 L436.7 162.0 L438.1 163.5 L439.0 164.5" fill="none" stroke="#004cd9" stroke-width="1.7"/>
<path d="M254.3 285.4 L255.7 281.6 L257.2 277.9 L258.6 274.1 L260.0 270.3 L261.4 266.6 L262.8 262.8 L264.3 259.0 L265.7 255.3 L267.1 251.5 L268.5 247.7 L269.9 244.0 L271.4 240.2 L272.8 236.4 L274.2 232.7 L275.6 228.9 L277.1 225.1 L278.5 221.4 L279.9 217.6 L281.3 213.8 L282.7 210.1 L284.2 206.3 L285.6 202.5 L287.0 198.8 L288.4 195.0 L289.8 191.3 L291.3 187.5 L292.7 183.7 L294.1 180.0 L295.5 176.2 L296.9 172.4 L298.4 168.7 L299.8 164.9 L301.2 161.2 L302.6 157.4 L304.0 153.6 L305.5 149.9 L306.9 146.1 L308.3 142.4 L309.7 138.7 L311.2 134.9 L312.6 131.2 L314.0 127.5 L315.4 123.9 L316.8 120.3 L316.8 120.2 L318.3 116.6 L320.0 113.1 L321.7 109.6 L323.4 106.2 L325.2 102.9 L326.9 99.7 L328.6 96.7 L330.0 93.8 L331.1 91.1 L332.3 88.7 L333.5 86.5 L334.7 84.6 L335.9 82.9 L337.2 81.4 L338.4 80.2 L339.8 79.2 L341.1 78.3 L342.4 77.7 L343.8 77.2 L345.2 76.8 L346.6 76.6 L348.0 76.6 L349.4 76.7 L350.9 77.0 L352.3 77.4 L353.8 78.0 L355.3 78.7 L356.8 79.5 L358.4 80.4 L359.9 81.5 L361.4 82.6 L363.0 83.8 L364.6 85.0 L366.1 86.3 L367.7 87.7 L369.3 89.1 L370.9 90.5 L372.4 92.0 L374.0 93.5 L375.6 95.0 L377.0 96.5 L378.4 98.1 L379.8 99.6 L381.2 101.2 L382.7 102.7 L384.1 104.3 L385.5 105.8 L386.9 107.4 L388.4 109.0 L389.8 110.5 L391.2 112.1 L392.6 113.7 L394.0 115.2 L395.5 116.8 L396.9 118.3 L398.3 119.9 L399.7 121.5 L401.1 123.0 L402.6 124.6 L404.0 126.1 L405.4 127.7 L406.8 129.3 L408.2 130.8 L409.7 132.4 L411.1 133.9 L412.5 135.5 L413.9 137.0 L415.3 138.6 L416.8 140.1 L418.2 141.7 L419.6 143.2 L421.0 144.8 L422.5 146.4 L423.9 147.9 L425.3 149.5 L426.7 151.0 L428.1 152.6 L429.6 154.2 L431.0 155.7 L432.4 157.3 L433.8 158.8 L435.2 160.4 L436.7 162.0 L438.1 163.5 L439.0 164.5 L439.5 165.1" fill="none" stroke="#000" stroke-width="1.0" stroke-dasharray="4.6 2.7"/>
<path d="M332.0 115.5 L332.6 114.1 L334.4 110.6 L336.1 107.2 L337.9 103.8 L339.6 100.6 L341.3 97.6 L342.8 94.7 L343.9 92.0 L345.1 89.6 L346.3 87.4 L347.5 85.4 L348.7 83.7 L350.0 82.2 L351.2 81.0 L352.5 80.0 L353.9 79.1 L355.2 78.4 L356.6 77.9 L358.0 77.5 L359.4 77.3 L360.8 77.3 L362.2 77.4 L363.7 77.7 L365.1 78.1 L366.6 78.7 L368.1 79.3 L369.6 80.2 L371.1 81.1 L372.7 82.1 L374.2 83.2 L375.8 84.4 L377.3 85.6 L378.9 86.9 L380.5 88.3 L382.0 89.7 L383.6 91.1 L385.2 92.6 L386.8 94.1 L388.4 95.6 L389.8 97.1 L391.2 98.6 L392.6 100.2 L394.0 101.7 L395.5 103.3 L396.9 104.9 L398.3 106.4 L399.7 108.0 L401.1 109.5 L402.6 111.1 L404.0 112.7 L405.4 114.2 L406.8 115.8 L408.2 117.4 L409.7 118.9 L411.1 120.5 L412.5 122.0 L413.9 123.6 L415.3 125.2 L416.8 126.7 L418.2 128.3 L419.6 129.8 L421.0 131.4 L422.5 132.9 L423.9 134.5 L425.3 136.0 L426.7 137.6 L428.1 139.2 L429.6 140.7 L431.0 142.3 L432.4 143.8 L433.8 145.4 L435.2 146.9 L436.7 148.5 L438.1 150.1 L439.0 151.1" fill="none" stroke="#0066cc" stroke-width="1.7"/>
<path d="M254.3 320.3 L255.7 316.5 L257.2 312.7 L258.6 309.0 L260.0 305.2 L261.4 301.4 L262.8 297.7 L264.3 293.9 L265.7 290.1 L267.1 286.4 L268.5 282.6 L269.9 278.9 L271.4 275.1 L272.8 271.3 L274.2 267.6 L275.6 263.8 L277.1 260.0 L278.5 256.3 L279.9 252.5 L281.3 248.7 L282.7 245.0 L284.2 241.2 L285.6 237.4 L287.0 233.7 L288.4 229.9 L289.8 226.1 L291.3 222.4 L292.7 218.6 L294.1 214.8 L295.5 211.1 L296.9 207.3 L298.4 203.5 L299.8 199.8 L301.2 196.0 L302.6 192.3 L304.0 188.5 L305.5 184.7 L306.9 181.0 L308.3 177.2 L309.7 173.4 L311.2 169.7 L312.6 165.9 L314.0 162.2 L315.4 158.4 L316.8 154.6 L318.3 150.9 L319.7 147.1 L321.1 143.4 L322.5 139.7 L323.9 135.9 L325.4 132.2 L326.8 128.5 L328.2 124.9 L329.6 121.2 L330.1 120.0 L331.0 117.6 L332.6 114.1 L334.4 110.6 L336.1 107.2 L337.9 103.8 L339.6 100.6 L341.3 97.6 L342.8 94.7 L343.9 92.0 L345.1 89.6 L346.3 87.4 L347.5 85.4 L348.7 83.7 L350.0 82.2 L351.2 81.0 L352.5 80.0 L353.9 79.1 L355.2 78.4 L356.6 77.9 L358.0 77.5 L359.4 77.3 L360.8 77.3 L362.2 77.4 L363.7 77.7 L365.1 78.1 L366.6 78.7 L368.1 79.3 L369.6 80.2 L371.1 81.1 L372.7 82.1 L374.2 83.2 L375.8 84.4 L377.3 85.6 L378.9 86.9 L380.5 88.3 L382.0 89.7 L383.6 91.1 L385.2 92.6 L386.8 94.1 L388.4 95.6 L389.8 97.1 L391.2 98.6 L392.6 100.2 L394.0 101.7 L395.5 103.3 L396.9 104.9 L398.3 106.4 L399.7 108.0 L401.1 109.5 L402.6 111.1 L404.0 112.7 L405.4 114.2 L406.8 115.8 L408.2 117.4 L409.7 118.9 L411.1 120.5 L412.5 122.0 L413.9 123.6 L415.3 125.2 L416.8 126.7 L418.2 128.3 L419.6 129.8 L421.0 131.4 L422.5 132.9 L423.9 134.5 L425.3 136.0 L426.7 137.6 L428.1 139.2 L429.6 140.7 L431.0 142.3 L432.4 143.8 L433.8 145.4 L435.2 146.9 L436.7 148.5 L438.1 150.1 L439.0 151.1 L439.5 151.6" fill="none" stroke="#000" stroke-width="1.0" stroke-dasharray="4.6 2.7"/>
<path d="M344.5 115.5 L345.5 113.4 L347.2 109.9 L349.0 106.5 L350.7 103.3 L352.4 100.2 L354.1 97.2 L355.5 94.4 L356.6 91.8 L357.8 89.5 L358.9 87.4 L360.2 85.6 L361.4 84.0 L362.7 82.6 L364.0 81.5 L365.3 80.5 L366.6 79.7 L368.0 79.1 L369.3 78.7 L370.7 78.4 L372.1 78.3 L373.6 78.3 L375.0 78.5 L376.5 78.9 L377.9 79.4 L379.4 80.0 L380.9 80.7 L382.5 81.6 L384.0 82.5 L385.5 83.6 L387.1 84.8 L388.6 86.0 L390.2 87.3 L391.8 88.6 L393.3 90.0 L394.9 91.4 L396.5 92.8 L398.1 94.3 L399.7 95.8 L401.1 97.3 L402.6 98.8 L404.0 100.4 L405.4 101.9 L406.8 103.5 L408.2 105.0 L409.7 106.6 L411.1 108.2 L412.5 109.7 L413.9 111.3 L415.3 112.9 L416.8 114.4 L418.2 116.0 L419.6 117.6 L421.0 119.1 L422.5 120.7 L423.9 122.2 L425.3 123.8 L426.7 125.4 L428.1 126.9 L429.6 128.5 L431.0 130.0 L432.4 131.6 L433.8 133.1 L435.2 134.7 L436.7 136.2 L438.1 137.8 L439.0 138.8" fill="none" stroke="#0080bf" stroke-width="1.7"/>
<path d="M254.3 353.3 L255.7 349.6 L257.2 345.8 L258.6 342.0 L260.0 338.3 L261.4 334.5 L262.8 330.7 L264.3 327.0 L265.7 323.2 L267.1 319.5 L268.5 315.7 L269.9 311.9 L271.4 308.2 L272.8 304.4 L274.2 300.6 L275.6 296.9 L277.1 293.1 L278.5 289.3 L279.9 285.6 L281.3 281.8 L282.7 278.0 L284.2 274.3 L285.6 270.5 L287.0 266.7 L288.4 263.0 L289.8 259.2 L291.3 255.4 L292.7 251.7 L294.1 247.9 L295.5 244.1 L296.9 240.4 L298.4 236.6 L299.8 232.8 L301.2 229.1 L302.6 225.3 L304.0 221.6 L305.5 217.8 L306.9 214.0 L308.3 210.3 L309.7 206.5 L311.2 202.7 L312.6 199.0 L314.0 195.2 L315.4 191.4 L316.8 187.7 L318.3 183.9 L319.7 180.1 L321.1 176.4 L322.5 172.6 L323.9 168.9 L325.4 165.1 L326.8 161.3 L328.2 157.6 L329.6 153.8 L331.0 150.1 L332.5 146.3 L333.9 142.6 L335.3 138.9 L336.7 135.1 L338.1 131.4 L339.6 127.8 L341.0 124.1 L342.4 120.5 L342.6 120.0 L343.8 116.9 L345.5 113.4 L347.2 109.9 L349.0 106.5 L350.7 103.3 L352.4 100.2 L354.1 97.2 L355.5 94.4 L356.6 91.8 L357.8 89.5 L358.9 87.4 L360.2 85.6 L361.4 84.0 L362.7 82.6 L364.0 81.5 L365.3 80.5 L366.6 79.7 L368.0 79.1 L369.3 78.7 L370.7 78.4 L372.1 78.3 L373.6 78.3 L375.0 78.5 L376.5 78.9 L377.9 79.4 L379.4 80.0 L380.9 80.7 L382.5 81.6 L384.0 82.5 L385.5 83.6 L387.1 84.8 L388.6 86.0 L390.2 87.3 L391.8 88.6 L393.3 90.0 L394.9 91.4 L396.5 92.8 L398.1 94.3 L399.7 95.8 L401.1 97.3 L402.6 98.8 L404.0 100.4 L405.4 101.9 L406.8 103.5 L408.2 105.0 L409.7 106.6 L411.1 108.2 L412.5 109.7 L413.9 111.3 L415.3 112.9 L416.8 114.4 L418.2 116.0 L419.6 117.6 L421.0 119.1 L422.5 120.7 L423.9 122.2 L425.3 123.8 L426.7 125.4 L428.1 126.9 L429.6 128.5 L431.0 130.0 L432.4 131.6 L433.8 133.1 L435.2 134.7 L436.7 136.2 L438.1 137.8 L439.0 138.8 L439.5 139.4" fill="none" stroke="#000" stroke-width="1.0" stroke-dasharray="4.6 2.7"/>
<path d="M354.7 119.3 L355.6 117.0 L357.3 113.5 L359.0 110.0 L360.8 106.7 L362.7 103.4 L364.6 100.3 L366.5 97.4 L367.9 94.7 L369.2 92.1 L370.5 89.9 L371.7 87.8 L372.9 86.0 L374.2 84.5 L375.4 83.2 L376.7 82.1 L378.1 81.1 L379.4 80.4 L380.8 79.8 L382.1 79.4 L383.5 79.2 L384.9 79.1 L386.4 79.2 L387.8 79.4 L389.3 79.8 L390.7 80.3 L392.2 80.9 L393.7 81.7 L395.3 82.6 L396.8 83.6 L398.3 84.6 L399.9 85.8 L401.4 87.0 L403.0 88.3 L404.6 89.7 L406.1 91.0 L407.7 92.5 L409.3 93.9 L410.9 95.4 L412.5 96.9 L413.9 98.4 L415.3 100.0 L416.8 101.5 L418.2 103.0 L419.6 104.6 L421.0 106.2 L422.5 107.7 L423.9 109.3 L425.3 110.8 L426.7 112.4 L428.1 114.0 L429.6 115.5 L431.0 117.1 L432.4 118.7 L433.8 120.2 L435.2 121.8 L436.7 123.4 L438.1 124.9 L439.0 125.9" fill="none" stroke="#0099b2" stroke-width="1.7"/>
<path d="M253.3 387.3 L254.7 383.5 L256.2 379.7 L257.6 376.0 L259.0 372.2 L260.4 368.4 L261.8 364.7 L263.3 360.9 L264.7 357.1 L266.1 353.4 L267.5 349.6 L268.9 345.8 L270.4 342.1 L271.8 338.3 L273.2 334.6 L274.6 330.8 L276.1 327.0 L277.5 323.3 L278.9 319.5 L280.3 315.7 L281.7 312.0 L283.2 308.2 L284.6 304.4 L286.0 300.7 L287.4 296.9 L288.8 293.1 L290.3 289.4 L291.7 285.6 L293.1 281.8 L294.5 278.1 L295.9 274.3 L297.4 270.5 L298.8 266.8 L300.2 263.0 L301.6 259.2 L303.0 255.5 L304.5 251.7 L305.9 247.9 L307.3 244.2 L308.7 240.4 L310.2 236.7 L311.6 232.9 L313.0 229.1 L314.4 225.4 L315.8 221.6 L317.3 217.8 L318.7 214.1 L320.1 210.3 L321.5 206.5 L322.9 202.8 L324.4 199.0 L325.8 195.2 L327.2 191.5 L328.6 187.7 L330.0 183.9 L331.5 180.2 L332.9 176.4 L334.3 172.7 L335.7 168.9 L337.1 165.1 L338.6 161.4 L340.0 157.6 L341.4 153.9 L342.8 150.1 L344.2 146.4 L345.7 142.6 L347.1 138.9 L348.5 135.2 L349.9 131.5 L351.4 127.8 L351.8 126.7 L352.8 124.2 L354.2 120.6 L355.6 117.0 L357.3 113.5 L359.0 110.0 L360.8 106.7 L362.7 103.4 L364.6 100.3 L366.5 97.4 L367.9 94.7 L369.2 92.1 L370.5 89.9 L371.7 87.8 L372.9 86.0 L374.2 84.5 L375.4 83.2 L376.7 82.1 L378.1 81.1 L379.4 80.4 L380.8 79.8 L382.1 79.4 L383.5 79.2 L384.9 79.1 L386.4 79.2 L387.8 79.4 L389.3 79.8 L390.7 80.3 L392.2 80.9 L393.7 81.7 L395.3 82.6 L396.8 83.6 L398.3 84.6 L399.9 85.8 L401.4 87.0 L403.0 88.3 L404.6 89.7 L406.1 91.0 L407.7 92.5 L409.3 93.9 L410.9 95.4 L412.5 96.9 L413.9 98.4 L415.3 100.0 L416.8 101.5 L418.2 103.0 L419.6 104.6 L421.0 106.2 L422.5 107.7 L423.9 109.3 L425.3 110.8 L426.7 112.4 L428.1 114.0 L429.6 115.5 L431.0 117.1 L432.4 118.7 L433.8 120.2 L435.2 121.8 L436.7 123.4 L438.1 124.9 L439.0 125.9 L439.5 126.5" fill="none" stroke="#000" stroke-width="1.0" stroke-dasharray="4.6 2.7"/>
<path d="M365.4 121.2 L366.8 117.8 L368.4 114.2 L370.1 110.8 L371.9 107.5 L373.8 104.2 L375.8 101.1 L377.7 98.2 L379.2 95.4 L380.5 92.9 L381.8 90.6 L383.1 88.6 L384.3 86.8 L385.5 85.2 L386.8 83.9 L388.1 82.8 L389.4 81.9 L390.8 81.1 L392.1 80.6 L393.5 80.1 L394.9 79.9 L396.3 79.8 L397.7 79.9 L399.2 80.1 L400.6 80.4 L402.1 81.0 L403.6 81.6 L405.1 82.4 L406.6 83.2 L408.2 84.2 L409.7 85.3 L411.2 86.5 L412.8 87.7 L414.4 89.0 L415.9 90.3 L417.5 91.7 L419.1 93.1 L420.7 94.6 L422.3 96.1 L423.8 97.6 L425.3 99.1 L426.7 100.6 L428.1 102.2 L429.6 103.7 L431.0 105.3 L432.4 106.8 L433.8 108.4 L435.2 109.9 L436.7 111.5 L438.1 113.1 L439.0 114.1" fill="none" stroke="#00b2a6" stroke-width="1.7"/>
<path d="M253.1 418.2 L254.5 414.4 L256.0 410.7 L257.4 406.9 L258.8 403.1 L260.2 399.4 L261.6 395.6 L263.1 391.8 L264.5 388.1 L265.9 384.3 L267.3 380.5 L268.7 376.8 L270.2 373.0 L271.6 369.2 L273.0 365.5 L274.4 361.7 L275.9 357.9 L277.3 354.2 L278.7 350.4 L280.1 346.6 L281.5 342.9 L283.0 339.1 L284.4 335.3 L285.8 331.6 L287.2 327.8 L288.6 324.0 L290.1 320.3 L291.5 316.5 L292.9 312.8 L294.3 309.0 L295.7 305.2 L297.2 301.5 L298.6 297.7 L300.0 293.9 L301.4 290.2 L302.8 286.4 L304.3 282.6 L305.7 278.9 L307.1 275.1 L308.5 271.3 L310.0 267.6 L311.4 263.8 L312.8 260.0 L314.2 256.3 L315.6 252.5 L317.1 248.7 L318.5 245.0 L319.9 241.2 L321.3 237.4 L322.7 233.7 L324.2 229.9 L325.6 226.1 L327.0 222.4 L328.4 218.6 L329.8 214.9 L331.3 211.1 L332.7 207.3 L334.1 203.6 L335.5 199.8 L336.9 196.0 L338.4 192.3 L339.8 188.5 L341.2 184.7 L342.6 181.0 L344.0 177.2 L345.5 173.4 L346.9 169.7 L348.3 165.9 L349.7 162.2 L351.2 158.4 L352.6 154.7 L354.0 150.9 L355.4 147.2 L356.8 143.4 L358.3 139.7 L359.7 136.0 L361.1 132.3 L362.3 129.2 L362.5 128.6 L363.9 125.0 L365.4 121.3 L366.8 117.8 L368.4 114.2 L370.1 110.8 L371.9 107.5 L373.8 104.2 L375.8 101.1 L377.7 98.2 L379.2 95.4 L380.5 92.9 L381.8 90.6 L383.1 88.6 L384.3 86.8 L385.5 85.2 L386.8 83.9 L388.1 82.8 L389.4 81.9 L390.8 81.1 L392.1 80.6 L393.5 80.1 L394.9 79.9 L396.3 79.8 L397.7 79.9 L399.2 80.1 L400.6 80.4 L402.1 81.0 L403.6 81.6 L405.1 82.4 L406.6 83.2 L408.2 84.2 L409.7 85.3 L411.2 86.5 L412.8 87.7 L414.4 89.0 L415.9 90.3 L417.5 91.7 L419.1 93.1 L420.7 94.6 L422.3 96.1 L423.8 97.6 L425.3 99.1 L426.7 100.6 L428.1 102.2 L429.6 103.7 L431.0 105.3 L432.4 106.8 L433.8 108.4 L435.2 109.9 L436.7 111.5 L438.1 113.1 L439.0 114.1 L439.5 114.6" fill="none" stroke="#000" stroke-width="1.0" stroke-dasharray="4.6 2.7"/>
<path d="M377.2 121.3 L378.3 118.6 L379.8 115.1 L381.5 111.7 L383.3 108.3 L385.4 105.1 L387.5 102.0 L389.7 99.0 L391.5 96.2 L393.0 93.7 L394.5 91.4 L395.9 89.3 L397.1 87.5 L398.3 85.9 L399.6 84.6 L400.9 83.5 L402.2 82.5 L403.6 81.8 L404.9 81.2 L406.3 80.8 L407.7 80.5 L409.1 80.4 L410.5 80.5 L412.0 80.7 L413.4 81.0 L414.9 81.5 L416.4 82.1 L417.9 82.9 L419.4 83.8 L420.9 84.7 L422.5 85.8 L424.0 87.0 L425.6 88.2 L427.1 89.5 L428.7 90.8 L430.3 92.2 L431.9 93.6 L433.4 95.1 L435.0 96.6 L436.6 98.1 L438.1 99.6 L439.0 100.6" fill="none" stroke="#00cc99" stroke-width="1.7"/>
<path d="M251.8 453.0 L253.2 449.2 L254.7 445.4 L256.1 441.7 L257.5 437.9 L258.9 434.1 L260.3 430.4 L261.8 426.6 L263.2 422.8 L264.6 419.1 L266.0 415.3 L267.4 411.6 L268.9 407.8 L270.3 404.0 L271.7 400.3 L273.1 396.5 L274.6 392.7 L276.0 389.0 L277.4 385.2 L278.8 381.4 L280.2 377.7 L281.7 373.9 L283.1 370.1 L284.5 366.4 L285.9 362.6 L287.3 358.8 L288.8 355.1 L290.2 351.3 L291.6 347.5 L293.0 343.8 L294.4 340.0 L295.9 336.2 L297.3 332.5 L298.7 328.7 L300.1 324.9 L301.5 321.2 L303.0 317.4 L304.4 313.7 L305.8 309.9 L307.2 306.1 L308.7 302.4 L310.1 298.6 L311.5 294.8 L312.9 291.1 L314.3 287.3 L315.8 283.5 L317.2 279.8 L318.6 276.0 L320.0 272.2 L321.4 268.5 L322.9 264.7 L324.3 260.9 L325.7 257.2 L327.1 253.4 L328.5 249.6 L330.0 245.9 L331.4 242.1 L332.8 238.3 L334.2 234.6 L335.6 230.8 L337.1 227.0 L338.5 223.3 L339.9 219.5 L341.3 215.7 L342.7 212.0 L344.2 208.2 L345.6 204.5 L347.0 200.7 L348.4 196.9 L349.9 193.2 L351.3 189.4 L352.7 185.6 L354.1 181.9 L355.5 178.1 L357.0 174.3 L358.4 170.6 L359.8 166.8 L361.2 163.1 L362.6 159.3 L364.1 155.6 L365.5 151.8 L366.9 148.1 L368.3 144.3 L369.7 140.6 L371.2 136.9 L372.6 133.2 L372.8 132.6 L374.0 129.5 L375.4 125.8 L376.8 122.2 L378.3 118.6 L379.8 115.1 L381.5 111.7 L383.3 108.3 L385.4 105.1 L387.5 102.0 L389.7 99.0 L391.5 96.2 L393.0 93.7 L394.5 91.4 L395.9 89.3 L397.1 87.5 L398.3 85.9 L399.6 84.6 L400.9 83.5 L402.2 82.5 L403.6 81.8 L404.9 81.2 L406.3 80.8 L407.7 80.5 L409.1 80.4 L410.5 80.5 L412.0 80.7 L413.4 81.0 L414.9 81.5 L416.4 82.1 L417.9 82.9 L419.4 83.8 L420.9 84.7 L422.5 85.8 L424.0 87.0 L425.6 88.2 L427.1 89.5 L428.7 90.8 L430.3 92.2 L431.9 93.6 L433.4 95.1 L435.0 96.6 L436.6 98.1 L438.1 99.6 L439.0 100.6 L439.5 101.1" fill="none" stroke="#000" stroke-width="1.0" stroke-dasharray="4.6 2.7"/>
<path d="M387.9 122.4 L389.1 119.3 L390.6 115.8 L392.3 112.4 L394.1 109.0 L396.2 105.7 L398.4 102.6 L400.6 99.7 L402.5 96.9 L404.2 94.4 L405.7 92.0 L407.2 90.0 L408.5 88.1 L409.7 86.6 L411.0 85.2 L412.3 84.1 L413.6 83.2 L414.9 82.4 L416.3 81.8 L417.7 81.4 L419.0 81.1 L420.5 81.0 L421.9 81.0 L423.3 81.2 L424.8 81.6 L426.3 82.1 L427.7 82.7 L429.3 83.5 L430.8 84.4 L432.3 85.3 L433.8 86.4 L435.4 87.5 L436.9 88.8 L438.0 89.6 L438.5 90.1 L439.0 90.1" fill="none" stroke="#00e68c" stroke-width="1.7"/>
<path d="M251.3 483.8 L252.7 480.0 L254.2 476.3 L255.6 472.5 L257.0 468.7 L258.4 465.0 L259.8 461.2 L261.3 457.4 L262.7 453.7 L264.1 449.9 L265.5 446.1 L266.9 442.4 L268.4 438.6 L269.8 434.8 L271.2 431.1 L272.6 427.3 L274.1 423.5 L275.5 419.8 L276.9 416.0 L278.3 412.2 L279.7 408.5 L281.2 404.7 L282.6 400.9 L284.0 397.2 L285.4 393.4 L286.8 389.6 L288.3 385.9 L289.7 382.1 L291.1 378.4 L292.5 374.6 L293.9 370.8 L295.4 367.1 L296.8 363.3 L298.2 359.5 L299.6 355.8 L301.0 352.0 L302.5 348.2 L303.9 344.5 L305.3 340.7 L306.7 336.9 L308.2 333.2 L309.6 329.4 L311.0 325.6 L312.4 321.9 L313.8 318.1 L315.3 314.3 L316.7 310.6 L318.1 306.8 L319.5 303.0 L320.9 299.3 L322.4 295.5 L323.8 291.7 L325.2 288.0 L326.6 284.2 L328.0 280.5 L329.5 276.7 L330.9 272.9 L332.3 269.2 L333.7 265.4 L335.1 261.6 L336.6 257.9 L338.0 254.1 L339.4 250.3 L340.8 246.6 L342.2 242.8 L343.7 239.0 L345.1 235.3 L346.5 231.5 L347.9 227.7 L349.4 224.0 L350.8 220.2 L352.2 216.4 L353.6 212.7 L355.0 208.9 L356.5 205.1 L357.9 201.4 L359.3 197.6 L360.7 193.8 L362.1 190.1 L363.6 186.3 L365.0 182.6 L366.4 178.8 L367.8 175.0 L369.2 171.3 L370.7 167.5 L372.1 163.8 L373.5 160.0 L374.9 156.2 L376.3 152.5 L377.8 148.8 L379.2 145.0 L380.6 141.3 L382.0 137.6 L383.0 135.0 L383.5 133.9 L384.9 130.2 L386.3 126.5 L387.7 122.9 L389.1 119.3 L390.6 115.8 L392.3 112.4 L394.1 109.0 L396.2 105.7 L398.4 102.6 L400.6 99.7 L402.5 96.9 L404.2 94.4 L405.7 92.0 L407.2 90.0 L408.5 88.1 L409.7 86.6 L411.0 85.2 L412.3 84.1 L413.6 83.2 L414.9 82.4 L416.3 81.8 L417.7 81.4 L419.0 81.1 L420.5 81.0 L421.9 81.0 L423.3 81.2 L424.8 81.6 L426.3 82.1 L427.7 82.7 L429.3 83.5 L430.8 84.4 L432.3 85.3 L433.8 86.4 L435.4 87.5 L436.9 88.8 L438.0 89.6 L438.5 90.1" fill="none" stroke="#000" stroke-width="1.0" stroke-dasharray="4.6 2.7"/>
<path d="M399.3 121.1 L400.5 118.1 L402.1 114.6 L403.8 111.2 L405.6 107.9 L407.8 104.7 L410.0 101.6 L412.1 98.7 L414.0 96.1 L415.5 93.6 L417.1 91.4 L418.5 89.5 L419.7 87.8 L421.0 86.3 L422.3 85.1 L423.6 84.0 L424.9 83.2 L426.3 82.5 L427.6 82.0 L429.0 81.6 L430.4 81.4 L431.8 81.4 L433.3 81.5 L434.7 81.8 L436.2 82.2 L437.1 82.6 L437.7 82.8 L439.0 82.8" fill="none" stroke="#00ff80" stroke-width="1.7"/>
<path d="M251.3 512.5 L252.7 508.8 L254.2 505.0 L255.6 501.2 L257.0 497.5 L258.4 493.7 L259.8 489.9 L261.3 486.2 L262.7 482.4 L264.1 478.7 L265.5 474.9 L266.9 471.1 L268.4 467.4 L269.8 463.6 L271.2 459.8 L272.6 456.1 L274.1 452.3 L275.5 448.5 L276.9 444.8 L278.3 441.0 L279.7 437.2 L281.2 433.5 L282.6 429.7 L284.0 425.9 L285.4 422.2 L286.8 418.4 L288.3 414.6 L289.7 410.9 L291.1 407.1 L292.5 403.3 L293.9 399.6 L295.4 395.8 L296.8 392.0 L298.2 388.3 L299.6 384.5 L301.0 380.8 L302.5 377.0 L303.9 373.2 L305.3 369.5 L306.7 365.7 L308.2 361.9 L309.6 358.2 L311.0 354.4 L312.4 350.6 L313.8 346.9 L315.3 343.1 L316.7 339.3 L318.1 335.6 L319.5 331.8 L320.9 328.0 L322.4 324.3 L323.8 320.5 L325.2 316.7 L326.6 313.0 L328.0 309.2 L329.5 305.4 L330.9 301.7 L332.3 297.9 L333.7 294.1 L335.1 290.4 L336.6 286.6 L338.0 282.9 L339.4 279.1 L340.8 275.3 L342.2 271.6 L343.7 267.8 L345.1 264.0 L346.5 260.3 L347.9 256.5 L349.4 252.7 L350.8 249.0 L352.2 245.2 L353.6 241.4 L355.0 237.7 L356.5 233.9 L357.9 230.1 L359.3 226.4 L360.7 222.6 L362.1 218.8 L363.6 215.1 L365.0 211.3 L366.4 207.5 L367.8 203.8 L369.2 200.0 L370.7 196.2 L372.1 192.5 L373.5 188.7 L374.9 185.0 L376.3 181.2 L377.8 177.4 L379.2 173.7 L380.6 169.9 L382.0 166.1 L383.5 162.4 L384.9 158.6 L386.3 154.9 L387.7 151.1 L389.1 147.4 L390.6 143.7 L392.0 139.9 L393.4 136.2 L394.4 133.6 L394.8 132.5 L396.2 128.9 L397.7 125.2 L399.1 121.6 L400.5 118.1 L402.1 114.6 L403.8 111.2 L405.6 107.9 L407.8 104.7 L410.0 101.6 L412.1 98.7 L414.0 96.1 L415.5 93.6 L417.1 91.4 L418.5 89.5 L419.7 87.8 L421.0 86.3 L422.3 85.1 L423.6 84.0 L424.9 83.2 L426.3 82.5 L427.6 82.0 L429.0 81.6 L430.4 81.4 L431.8 81.4 L433.3 81.5 L434.7 81.8 L436.2 82.2 L437.1 82.6 L437.7 82.8" fill="none" stroke="#000" stroke-width="1.0" stroke-dasharray="4.6 2.7"/>
</g>
<g clip-path="url(#clipcR)">
<path d="M265.0 269.9 L265.0 269.9 L265.0 269.8 L265.0 269.8 L265.0 269.7 L265.0 269.6 L265.0 269.5 L265.0 269.3 L265.0 269.2 L265.0 269.0 L265.0 268.7 L265.0 268.5 L265.0 268.1 L265.0 267.8 L265.0 267.3 L265.0 266.7 L265.1 266.1 L265.1 265.3 L265.1 264.4 L265.2 263.3 L265.3 262.0 L265.4 260.4 L265.6 258.6 L265.8 256.5 L266.1 253.9 L266.6 251.0 L267.2 247.7 L268.0 243.9 L269.1 239.6 L270.6 234.9 L272.5 230.0 L274.8 224.9 L277.7 219.8 L281.0 215.0 L284.7 210.5 L288.8 206.6 L293.2 203.3 L297.8 200.6 L302.5 198.5 L307.4 197.1 L312.4 196.3 L317.4 196.1 L322.3 196.7 L327.2 197.9 L331.8 199.6 L336.3 201.9 L340.5 204.5 L344.4 207.4 L348.1 210.5 L351.4 213.7 L354.5 216.9 L357.4 220.2 L360.0 223.3 L362.4 226.3 L364.6 229.2 L366.6 232.0 L368.5 234.5 L370.2 237.0 L371.7 239.3 L373.2 241.4 L374.5 243.4 L375.8 245.3 L376.9 247.0 L378.0 248.7 L379.0 250.2 L379.9 251.6 L380.7 252.9 L381.5 254.1 L382.3 255.2 L382.9 256.2 L383.6 257.2 L384.2 258.1 L384.7 258.9 L385.2 259.7 L385.7 260.5 L386.2 261.1 L386.6 261.8 L387.0 262.3 L387.3 262.9 L387.7 263.4 L388.0 263.9 L388.3 264.3 L388.5 264.7 L388.8 265.1 L389.0 265.5 L389.2 265.8 L389.4 266.1 L389.6 266.4 L389.8 266.6 L390.0 266.9 L390.1 267.1 L390.3 267.3 L390.4 267.5 L390.5 267.7 L390.6 267.9 L390.7 268.1 L390.8 268.2 L390.9 268.3 L391.0 268.5 L391.1 268.6 L391.1 268.7 L391.2 268.8 L391.3 268.9 L391.3 269.0 L391.4 269.1 L391.4 269.2 L391.5 269.2 L391.5 269.3 L391.6 269.4 L391.6 269.4 L391.6 269.5 L391.7 269.5 L391.7 269.6 L391.7 269.6 L391.8 269.7 L391.8 269.7 L391.8 269.7 L391.8 269.8 L391.8 269.8 L391.9 269.8" fill="none" stroke="#0000ff" stroke-width="1.9"/>
<path d="M265.0 269.9 L265.0 269.9 L265.0 269.8 L265.0 269.8 L265.0 269.7 L265.0 269.6 L265.0 269.5 L265.0 269.3 L265.0 269.2 L265.0 269.0 L265.0 268.8 L265.0 268.5 L265.0 268.2 L265.0 267.8 L265.0 267.3 L265.0 266.8 L265.1 266.1 L265.1 265.3 L265.1 264.4 L265.2 263.3 L265.3 262.1 L265.4 260.5 L265.6 258.7 L265.8 256.6 L266.1 254.1 L266.6 251.2 L267.2 247.9 L268.0 244.2 L269.1 240.0 L270.6 235.4 L272.5 230.5 L274.8 225.4 L277.7 220.5 L281.0 215.7 L284.7 211.4 L288.8 207.6 L293.1 204.4 L297.7 201.8 L302.5 199.8 L307.4 198.4 L312.3 197.6 L317.3 197.5 L322.3 198.0 L327.1 199.2 L331.8 200.9 L336.2 203.1 L340.4 205.7 L344.3 208.5 L348.0 211.6 L351.3 214.7 L354.4 217.9 L357.3 221.1 L359.9 224.1 L362.3 227.1 L364.5 229.9 L366.5 232.6 L368.3 235.2 L370.0 237.6 L371.6 239.8 L373.1 242.0 L374.4 243.9 L375.6 245.8 L376.8 247.5 L377.8 249.0 L378.8 250.5 L379.7 251.9 L380.6 253.2 L381.4 254.4 L382.1 255.5 L382.8 256.5 L383.4 257.4 L384.0 258.3 L384.6 259.2 L385.1 259.9 L385.6 260.6 L386.0 261.3 L386.4 261.9 L386.8 262.5 L387.2 263.0 L387.5 263.5 L387.8 264.0 L388.1 264.4 L388.4 264.8 L388.6 265.2 L388.9 265.5 L389.1 265.9 L389.3 266.2 L389.5 266.4 L389.6 266.7 L389.8 267.0 L390.0 267.2 L390.1 267.4 L390.2 267.6 L390.4 267.8 L390.5 267.9 L390.6 268.1 L390.7 268.2 L390.8 268.4 L390.8 268.5 L390.9 268.6 L391.0 268.7 L391.1 268.8 L391.1 268.9 L391.2 269.0 L391.2 269.1 L391.3 269.2 L391.3 269.3 L391.4 269.3 L391.4 269.4 L391.5 269.4 L391.5 269.5 L391.5 269.5 L391.6 269.6 L391.6 269.6 L391.6 269.7 L391.6 269.7 L391.7 269.7 L391.7 269.8 L391.7 269.8 L391.7 269.8" fill="none" stroke="#001af2" stroke-width="1.9"/>
<path d="M265.0 269.9 L265.0 269.9 L265.0 269.8 L265.0 269.8 L265.0 269.7 L265.0 269.6 L265.0 269.5 L265.0 269.4 L265.0 269.2 L265.0 269.0 L265.0 268.8 L265.0 268.5 L265.0 268.2 L265.0 267.8 L265.0 267.3 L265.0 266.8 L265.1 266.1 L265.1 265.4 L265.1 264.4 L265.2 263.4 L265.3 262.1 L265.4 260.5 L265.6 258.8 L265.8 256.6 L266.1 254.2 L266.6 251.3 L267.2 248.0 L268.0 244.2 L269.1 240.0 L270.6 235.4 L272.5 230.6 L274.8 225.6 L277.6 220.6 L280.9 215.9 L284.7 211.6 L288.7 207.8 L293.1 204.6 L297.7 202.1 L302.4 200.1 L307.3 198.7 L312.3 197.9 L317.3 197.8 L322.2 198.3 L327.0 199.5 L331.7 201.2 L336.1 203.4 L340.3 205.9 L344.2 208.8 L347.9 211.8 L351.2 215.0 L354.3 218.1 L357.2 221.3 L359.8 224.3 L362.2 227.3 L364.3 230.1 L366.4 232.8 L368.2 235.3 L369.9 237.7 L371.5 240.0 L372.9 242.1 L374.3 244.0 L375.5 245.8 L376.6 247.5 L377.7 249.1 L378.7 250.6 L379.6 252.0 L380.5 253.2 L381.3 254.4 L382.0 255.5 L382.7 256.5 L383.3 257.5 L383.9 258.4 L384.4 259.2 L385.0 260.0 L385.4 260.7 L385.9 261.3 L386.3 261.9 L386.7 262.5 L387.0 263.1 L387.4 263.5 L387.7 264.0 L388.0 264.4 L388.2 264.8 L388.5 265.2 L388.7 265.6 L388.9 265.9 L389.1 266.2 L389.3 266.5 L389.5 266.7 L389.7 267.0 L389.8 267.2 L390.0 267.4 L390.1 267.6 L390.2 267.8 L390.3 267.9 L390.4 268.1 L390.5 268.3 L390.6 268.4 L390.7 268.5 L390.8 268.6 L390.8 268.7 L390.9 268.8 L391.0 268.9 L391.0 269.0 L391.1 269.1 L391.1 269.2 L391.2 269.3 L391.2 269.3 L391.3 269.4 L391.3 269.4 L391.3 269.5 L391.4 269.5 L391.4 269.6 L391.4 269.6 L391.5 269.7 L391.5 269.7 L391.5 269.7 L391.5 269.8 L391.5 269.8 L391.6 269.8" fill="none" stroke="#0033e6" stroke-width="1.9"/>
<path d="M265.0 269.9 L265.0 269.9 L265.0 269.8 L265.0 269.8 L265.0 269.7 L265.0 269.6 L265.0 269.5 L265.0 269.4 L265.0 269.2 L265.0 269.0 L265.0 268.8 L265.0 268.5 L265.0 268.2 L265.0 267.8 L265.0 267.3 L265.0 266.8 L265.1 266.1 L265.1 265.4 L265.1 264.5 L265.2 263.4 L265.3 262.1 L265.4 260.6 L265.6 258.8 L265.8 256.7 L266.1 254.2 L266.6 251.3 L267.2 248.0 L268.0 244.3 L269.1 240.1 L270.6 235.5 L272.4 230.7 L274.8 225.7 L277.6 220.7 L280.9 216.0 L284.6 211.7 L288.7 208.0 L293.1 204.8 L297.7 202.3 L302.4 200.3 L307.3 198.9 L312.2 198.1 L317.2 198.0 L322.1 198.5 L327.0 199.7 L331.6 201.4 L336.0 203.6 L340.2 206.1 L344.1 209.0 L347.8 212.0 L351.1 215.1 L354.2 218.3 L357.1 221.4 L359.7 224.5 L362.0 227.4 L364.2 230.2 L366.2 232.9 L368.1 235.4 L369.8 237.8 L371.4 240.1 L372.8 242.2 L374.1 244.1 L375.4 245.9 L376.5 247.6 L377.6 249.2 L378.6 250.7 L379.5 252.0 L380.3 253.3 L381.1 254.5 L381.8 255.6 L382.5 256.6 L383.2 257.5 L383.8 258.4 L384.3 259.2 L384.8 260.0 L385.3 260.7 L385.7 261.4 L386.2 262.0 L386.5 262.5 L386.9 263.1 L387.2 263.6 L387.5 264.0 L387.8 264.5 L388.1 264.9 L388.3 265.2 L388.6 265.6 L388.8 265.9 L389.0 266.2 L389.2 266.5 L389.4 266.7 L389.5 267.0 L389.7 267.2 L389.8 267.4 L389.9 267.6 L390.1 267.8 L390.2 268.0 L390.3 268.1 L390.4 268.3 L390.5 268.4 L390.5 268.5 L390.6 268.6 L390.7 268.7 L390.8 268.8 L390.8 268.9 L390.9 269.0 L390.9 269.1 L391.0 269.2 L391.0 269.3 L391.1 269.3 L391.1 269.4 L391.2 269.4 L391.2 269.5 L391.2 269.5 L391.3 269.6 L391.3 269.6 L391.3 269.7 L391.3 269.7 L391.4 269.7 L391.4 269.8 L391.4 269.8 L391.4 269.8" fill="none" stroke="#004cd9" stroke-width="1.9"/>
<path d="M265.0 269.9 L265.0 269.9 L265.0 269.8 L265.0 269.8 L265.0 269.7 L265.0 269.6 L265.0 269.5 L265.0 269.4 L265.0 269.2 L265.0 269.0 L265.0 268.8 L265.0 268.5 L265.0 268.2 L265.0 267.8 L265.0 267.3 L265.0 266.8 L265.1 266.1 L265.1 265.4 L265.1 264.5 L265.2 263.4 L265.3 262.1 L265.4 260.6 L265.6 258.8 L265.8 256.7 L266.1 254.2 L266.6 251.4 L267.2 248.1 L268.0 244.3 L269.1 240.1 L270.6 235.6 L272.4 230.7 L274.8 225.7 L277.6 220.8 L280.9 216.1 L284.6 211.8 L288.7 208.1 L293.0 204.9 L297.6 202.4 L302.4 200.4 L307.2 199.0 L312.2 198.3 L317.1 198.1 L322.1 198.7 L326.9 199.8 L331.5 201.5 L336.0 203.7 L340.1 206.3 L344.0 209.1 L347.7 212.1 L351.0 215.2 L354.1 218.4 L356.9 221.5 L359.5 224.5 L361.9 227.5 L364.1 230.3 L366.1 233.0 L368.0 235.5 L369.7 237.9 L371.2 240.1 L372.7 242.2 L374.0 244.2 L375.2 246.0 L376.4 247.7 L377.4 249.2 L378.4 250.7 L379.3 252.1 L380.2 253.3 L381.0 254.5 L381.7 255.6 L382.4 256.6 L383.0 257.6 L383.6 258.4 L384.2 259.3 L384.7 260.0 L385.2 260.7 L385.6 261.4 L386.0 262.0 L386.4 262.6 L386.7 263.1 L387.1 263.6 L387.4 264.0 L387.7 264.5 L387.9 264.9 L388.2 265.2 L388.4 265.6 L388.6 265.9 L388.8 266.2 L389.0 266.5 L389.2 266.7 L389.4 267.0 L389.5 267.2 L389.7 267.4 L389.8 267.6 L389.9 267.8 L390.0 268.0 L390.1 268.1 L390.2 268.3 L390.3 268.4 L390.4 268.5 L390.5 268.6 L390.5 268.8 L390.6 268.9 L390.7 268.9 L390.7 269.0 L390.8 269.1 L390.8 269.2 L390.9 269.3 L390.9 269.3 L391.0 269.4 L391.0 269.4 L391.0 269.5 L391.1 269.6 L391.1 269.6 L391.1 269.6 L391.2 269.7 L391.2 269.7 L391.2 269.7 L391.2 269.8 L391.2 269.8 L391.3 269.8" fill="none" stroke="#0066cc" stroke-width="1.9"/>
<path d="M265.0 269.9 L265.0 269.9 L265.0 269.8 L265.0 269.8 L265.0 269.7 L265.0 269.6 L265.0 269.5 L265.0 269.4 L265.0 269.2 L265.0 269.0 L265.0 268.8 L265.0 268.5 L265.0 268.2 L265.0 267.8 L265.0 267.3 L265.0 266.8 L265.1 266.1 L265.1 265.4 L265.1 264.5 L265.2 263.4 L265.3 262.1 L265.4 260.6 L265.6 258.8 L265.8 256.7 L266.1 254.2 L266.6 251.4 L267.2 248.1 L268.0 244.3 L269.1 240.2 L270.6 235.6 L272.4 230.8 L274.8 225.8 L277.6 220.9 L280.9 216.2 L284.6 211.9 L288.7 208.2 L293.0 205.1 L297.6 202.5 L302.3 200.6 L307.2 199.2 L312.1 198.4 L317.1 198.3 L322.0 198.8 L326.8 200.0 L331.4 201.7 L335.9 203.8 L340.0 206.4 L343.9 209.2 L347.6 212.2 L350.9 215.3 L354.0 218.5 L356.8 221.6 L359.4 224.6 L361.8 227.6 L364.0 230.4 L366.0 233.1 L367.8 235.6 L369.5 238.0 L371.1 240.2 L372.5 242.3 L373.9 244.2 L375.1 246.0 L376.2 247.7 L377.3 249.3 L378.3 250.7 L379.2 252.1 L380.0 253.4 L380.8 254.5 L381.6 255.6 L382.3 256.6 L382.9 257.6 L383.5 258.5 L384.0 259.3 L384.5 260.0 L385.0 260.7 L385.5 261.4 L385.9 262.0 L386.2 262.6 L386.6 263.1 L386.9 263.6 L387.2 264.1 L387.5 264.5 L387.8 264.9 L388.0 265.2 L388.3 265.6 L388.5 265.9 L388.7 266.2 L388.9 266.5 L389.1 266.7 L389.2 267.0 L389.4 267.2 L389.5 267.4 L389.6 267.6 L389.8 267.8 L389.9 268.0 L390.0 268.1 L390.1 268.3 L390.2 268.4 L390.2 268.5 L390.3 268.6 L390.4 268.8 L390.5 268.9 L390.5 268.9 L390.6 269.0 L390.6 269.1 L390.7 269.2 L390.7 269.3 L390.8 269.3 L390.8 269.4 L390.9 269.4 L390.9 269.5 L390.9 269.6 L391.0 269.6 L391.0 269.6 L391.0 269.7 L391.0 269.7 L391.1 269.7 L391.1 269.8 L391.1 269.8 L391.1 269.8" fill="none" stroke="#0080bf" stroke-width="1.9"/>
<path d="M265.0 270.0 L265.0 269.9 L265.0 269.8 L265.0 269.8 L265.0 269.7 L265.0 269.6 L265.0 269.5 L265.0 269.4 L265.0 269.2 L265.0 269.0 L265.0 268.8 L265.0 268.5 L265.0 268.2 L265.0 267.8 L265.0 267.3 L265.0 266.8 L265.1 266.2 L265.1 265.4 L265.1 264.5 L265.2 263.4 L265.3 262.1 L265.4 260.6 L265.6 258.8 L265.8 256.7 L266.1 254.2 L266.5 251.4 L267.2 248.1 L268.0 244.4 L269.1 240.2 L270.5 235.6 L272.4 230.8 L274.8 225.8 L277.6 220.9 L280.9 216.2 L284.6 212.0 L288.6 208.3 L293.0 205.1 L297.5 202.6 L302.3 200.7 L307.1 199.3 L312.1 198.5 L317.0 198.4 L321.9 198.9 L326.7 200.0 L331.4 201.7 L335.8 203.9 L340.0 206.5 L343.9 209.3 L347.5 212.3 L350.8 215.4 L353.9 218.5 L356.7 221.7 L359.3 224.7 L361.7 227.6 L363.9 230.4 L365.9 233.1 L367.7 235.6 L369.4 238.0 L371.0 240.2 L372.4 242.3 L373.7 244.2 L375.0 246.0 L376.1 247.7 L377.2 249.3 L378.2 250.8 L379.1 252.1 L379.9 253.4 L380.7 254.6 L381.4 255.6 L382.1 256.7 L382.7 257.6 L383.3 258.5 L383.9 259.3 L384.4 260.0 L384.9 260.7 L385.3 261.4 L385.7 262.0 L386.1 262.6 L386.5 263.1 L386.8 263.6 L387.1 264.1 L387.4 264.5 L387.7 264.9 L387.9 265.3 L388.1 265.6 L388.3 265.9 L388.5 266.2 L388.7 266.5 L388.9 266.8 L389.1 267.0 L389.2 267.2 L389.4 267.4 L389.5 267.6 L389.6 267.8 L389.7 268.0 L389.8 268.1 L389.9 268.3 L390.0 268.4 L390.1 268.5 L390.2 268.6 L390.2 268.8 L390.3 268.9 L390.4 269.0 L390.4 269.0 L390.5 269.1 L390.5 269.2 L390.6 269.3 L390.6 269.3 L390.7 269.4 L390.7 269.5 L390.7 269.5 L390.8 269.6 L390.8 269.6 L390.8 269.6 L390.9 269.7 L390.9 269.7 L390.9 269.8 L390.9 269.8 L390.9 269.8 L391.0 269.8" fill="none" stroke="#0099b2" stroke-width="1.9"/>
<path d="M265.0 270.0 L265.0 269.9 L265.0 269.8 L265.0 269.8 L265.0 269.7 L265.0 269.6 L265.0 269.5 L265.0 269.4 L265.0 269.2 L265.0 269.0 L265.0 268.8 L265.0 268.5 L265.0 268.2 L265.0 267.8 L265.0 267.3 L265.0 266.8 L265.1 266.2 L265.1 265.4 L265.1 264.5 L265.2 263.4 L265.3 262.1 L265.4 260.6 L265.6 258.8 L265.8 256.7 L266.1 254.3 L266.5 251.4 L267.2 248.1 L268.0 244.4 L269.1 240.2 L270.5 235.7 L272.4 230.8 L274.7 225.8 L277.6 220.9 L280.8 216.3 L284.6 212.0 L288.6 208.3 L292.9 205.2 L297.5 202.6 L302.2 200.7 L307.1 199.3 L312.0 198.6 L317.0 198.4 L321.9 199.0 L326.7 200.1 L331.3 201.8 L335.7 204.0 L339.9 206.5 L343.8 209.3 L347.4 212.4 L350.7 215.5 L353.8 218.6 L356.6 221.7 L359.2 224.7 L361.6 227.7 L363.8 230.5 L365.8 233.1 L367.6 235.7 L369.3 238.0 L370.8 240.2 L372.3 242.3 L373.6 244.3 L374.8 246.1 L376.0 247.8 L377.0 249.3 L378.0 250.8 L378.9 252.1 L379.8 253.4 L380.6 254.6 L381.3 255.7 L382.0 256.7 L382.6 257.6 L383.2 258.5 L383.7 259.3 L384.2 260.1 L384.7 260.8 L385.2 261.4 L385.6 262.0 L386.0 262.6 L386.3 263.1 L386.6 263.6 L387.0 264.1 L387.2 264.5 L387.5 264.9 L387.8 265.3 L388.0 265.6 L388.2 265.9 L388.4 266.2 L388.6 266.5 L388.8 266.8 L388.9 267.0 L389.1 267.2 L389.2 267.4 L389.3 267.6 L389.5 267.8 L389.6 268.0 L389.7 268.1 L389.8 268.3 L389.9 268.4 L389.9 268.5 L390.0 268.6 L390.1 268.8 L390.2 268.9 L390.2 269.0 L390.3 269.0 L390.3 269.1 L390.4 269.2 L390.4 269.3 L390.5 269.3 L390.5 269.4 L390.6 269.5 L390.6 269.5 L390.6 269.6 L390.7 269.6 L390.7 269.6 L390.7 269.7 L390.7 269.7 L390.8 269.8 L390.8 269.8 L390.8 269.8 L390.8 269.8" fill="none" stroke="#00b2a6" stroke-width="1.9"/>
<path d="M265.0 270.0 L265.0 269.9 L265.0 269.8 L265.0 269.8 L265.0 269.7 L265.0 269.6 L265.0 269.5 L265.0 269.4 L265.0 269.2 L265.0 269.0 L265.0 268.8 L265.0 268.5 L265.0 268.2 L265.0 267.8 L265.0 267.3 L265.0 266.8 L265.1 266.2 L265.1 265.4 L265.1 264.5 L265.2 263.4 L265.3 262.1 L265.4 260.6 L265.6 258.8 L265.8 256.7 L266.1 254.3 L266.5 251.4 L267.2 248.1 L268.0 244.4 L269.1 240.2 L270.5 235.7 L272.4 230.8 L274.7 225.9 L277.5 221.0 L280.8 216.3 L284.5 212.1 L288.6 208.4 L292.9 205.2 L297.5 202.7 L302.2 200.8 L307.0 199.4 L311.9 198.6 L316.9 198.5 L321.8 199.0 L326.6 200.2 L331.2 201.9 L335.6 204.0 L339.8 206.6 L343.7 209.4 L347.3 212.4 L350.6 215.5 L353.7 218.6 L356.5 221.8 L359.1 224.8 L361.5 227.7 L363.6 230.5 L365.6 233.2 L367.5 235.7 L369.2 238.1 L370.7 240.3 L372.2 242.4 L373.5 244.3 L374.7 246.1 L375.9 247.8 L376.9 249.3 L377.9 250.8 L378.8 252.2 L379.6 253.4 L380.4 254.6 L381.2 255.7 L381.8 256.7 L382.5 257.6 L383.0 258.5 L383.6 259.3 L384.1 260.1 L384.6 260.8 L385.0 261.4 L385.4 262.0 L385.8 262.6 L386.2 263.1 L386.5 263.6 L386.8 264.1 L387.1 264.5 L387.4 264.9 L387.6 265.3 L387.8 265.6 L388.1 265.9 L388.3 266.2 L388.4 266.5 L388.6 266.8 L388.8 267.0 L388.9 267.2 L389.1 267.4 L389.2 267.6 L389.3 267.8 L389.4 268.0 L389.5 268.1 L389.6 268.3 L389.7 268.4 L389.8 268.5 L389.9 268.6 L389.9 268.8 L390.0 268.9 L390.1 269.0 L390.1 269.0 L390.2 269.1 L390.2 269.2 L390.3 269.3 L390.3 269.3 L390.4 269.4 L390.4 269.5 L390.4 269.5 L390.5 269.6 L390.5 269.6 L390.5 269.6 L390.6 269.7 L390.6 269.7 L390.6 269.8 L390.6 269.8 L390.6 269.8 L390.7 269.8" fill="none" stroke="#00cc99" stroke-width="1.9"/>
<path d="M265.0 270.0 L265.0 269.9 L265.0 269.8 L265.0 269.8 L265.0 269.7 L265.0 269.6 L265.0 269.5 L265.0 269.4 L265.0 269.2 L265.0 269.0 L265.0 268.8 L265.0 268.5 L265.0 268.2 L265.0 267.8 L265.0 267.3 L265.0 266.8 L265.1 266.2 L265.1 265.4 L265.1 264.5 L265.2 263.4 L265.3 262.1 L265.4 260.6 L265.6 258.8 L265.8 256.7 L266.1 254.3 L266.5 251.4 L267.1 248.1 L268.0 244.4 L269.1 240.3 L270.5 235.7 L272.4 230.9 L274.7 225.9 L277.5 221.0 L280.8 216.4 L284.5 212.1 L288.5 208.4 L292.9 205.3 L297.4 202.8 L302.1 200.9 L307.0 199.5 L311.9 198.7 L316.8 198.6 L321.7 199.1 L326.5 200.3 L331.1 202.0 L335.5 204.1 L339.7 206.7 L343.6 209.5 L347.2 212.5 L350.5 215.6 L353.6 218.7 L356.4 221.8 L359.0 224.8 L361.3 227.8 L363.5 230.6 L365.5 233.2 L367.4 235.7 L369.0 238.1 L370.6 240.3 L372.0 242.4 L373.4 244.3 L374.6 246.1 L375.7 247.8 L376.8 249.4 L377.8 250.8 L378.7 252.2 L379.5 253.4 L380.3 254.6 L381.0 255.7 L381.7 256.7 L382.3 257.6 L382.9 258.5 L383.5 259.3 L384.0 260.1 L384.4 260.8 L384.9 261.4 L385.3 262.0 L385.7 262.6 L386.0 263.1 L386.4 263.6 L386.7 264.1 L386.9 264.5 L387.2 264.9 L387.5 265.3 L387.7 265.6 L387.9 265.9 L388.1 266.2 L388.3 266.5 L388.5 266.8 L388.6 267.0 L388.8 267.2 L388.9 267.4 L389.0 267.6 L389.2 267.8 L389.3 268.0 L389.4 268.1 L389.5 268.3 L389.6 268.4 L389.6 268.5 L389.7 268.7 L389.8 268.8 L389.9 268.9 L389.9 269.0 L390.0 269.0 L390.0 269.1 L390.1 269.2 L390.1 269.3 L390.2 269.3 L390.2 269.4 L390.3 269.5 L390.3 269.5 L390.3 269.6 L390.4 269.6 L390.4 269.6 L390.4 269.7 L390.4 269.7 L390.5 269.8 L390.5 269.8 L390.5 269.8 L390.5 269.8" fill="none" stroke="#00e68c" stroke-width="1.9"/>
<path d="M265.0 270.0 L265.0 269.9 L265.0 269.8 L265.0 269.8 L265.0 269.7 L265.0 269.6 L265.0 269.5 L265.0 269.4 L265.0 269.2 L265.0 269.0 L265.0 268.8 L265.0 268.5 L265.0 268.2 L265.0 267.8 L265.0 267.3 L265.0 266.8 L265.1 266.2 L265.1 265.4 L265.1 264.5 L265.2 263.4 L265.3 262.1 L265.4 260.6 L265.6 258.8 L265.8 256.7 L266.1 254.3 L266.5 251.4 L267.1 248.2 L268.0 244.4 L269.1 240.3 L270.5 235.7 L272.4 230.9 L274.7 225.9 L277.5 221.0 L280.8 216.4 L284.5 212.2 L288.5 208.5 L292.8 205.4 L297.4 202.8 L302.1 200.9 L306.9 199.5 L311.8 198.8 L316.8 198.7 L321.7 199.2 L326.4 200.3 L331.0 202.0 L335.4 204.2 L339.6 206.7 L343.5 209.5 L347.1 212.5 L350.4 215.6 L353.5 218.8 L356.3 221.9 L358.9 224.9 L361.2 227.8 L363.4 230.6 L365.4 233.3 L367.2 235.8 L368.9 238.1 L370.5 240.3 L371.9 242.4 L373.2 244.3 L374.5 246.1 L375.6 247.8 L376.6 249.4 L377.6 250.8 L378.5 252.2 L379.4 253.4 L380.1 254.6 L380.9 255.7 L381.6 256.7 L382.2 257.6 L382.8 258.5 L383.3 259.3 L383.8 260.1 L384.3 260.8 L384.7 261.4 L385.1 262.0 L385.5 262.6 L385.9 263.1 L386.2 263.6 L386.5 264.1 L386.8 264.5 L387.1 264.9 L387.3 265.3 L387.5 265.6 L387.8 265.9 L388.0 266.2 L388.1 266.5 L388.3 266.8 L388.5 267.0 L388.6 267.2 L388.8 267.4 L388.9 267.6 L389.0 267.8 L389.1 268.0 L389.2 268.1 L389.3 268.3 L389.4 268.4 L389.5 268.5 L389.6 268.7 L389.6 268.8 L389.7 268.9 L389.8 269.0 L389.8 269.0 L389.9 269.1 L389.9 269.2 L390.0 269.3 L390.0 269.3 L390.1 269.4 L390.1 269.5 L390.1 269.5 L390.2 269.6 L390.2 269.6 L390.2 269.6 L390.3 269.7 L390.3 269.7 L390.3 269.8 L390.3 269.8 L390.3 269.8 L390.4 269.8" fill="none" stroke="#00ff80" stroke-width="1.9"/>
</g>
<g fill="none" stroke="#1c1c1c" stroke-width="1.30">
<rect x="258.90" y="-27.70" width="178.30" height="86.70"/>
<rect x="258.90" y="63.30" width="178.30" height="86.20"/>
<rect x="259.10" y="181.20" width="138.20" height="93.80"/>
</g>
<g stroke="#111" stroke-width="1.0">
<line x1="260.35" y1="59.00" x2="260.35" y2="56.60"/>
<line x1="260.35" y1="63.30" x2="260.35" y2="65.70"/>
<line x1="260.35" y1="149.50" x2="260.35" y2="147.10"/>
<line x1="261.91" y1="59.00" x2="261.91" y2="56.60"/>
<line x1="261.91" y1="63.30" x2="261.91" y2="65.70"/>
<line x1="261.91" y1="149.50" x2="261.91" y2="147.10"/>
<line x1="263.25" y1="59.00" x2="263.25" y2="56.60"/>
<line x1="263.25" y1="63.30" x2="263.25" y2="65.70"/>
<line x1="263.25" y1="149.50" x2="263.25" y2="147.10"/>
<line x1="264.44" y1="59.00" x2="264.44" y2="56.60"/>
<line x1="264.44" y1="63.30" x2="264.44" y2="65.70"/>
<line x1="264.44" y1="149.50" x2="264.44" y2="147.10"/>
<line x1="265.50" y1="59.00" x2="265.50" y2="54.40"/>
<line x1="265.50" y1="63.30" x2="265.50" y2="67.90"/>
<line x1="265.50" y1="149.50" x2="265.50" y2="144.90"/>
<line x1="272.48" y1="59.00" x2="272.48" y2="56.60"/>
<line x1="272.48" y1="63.30" x2="272.48" y2="65.70"/>
<line x1="272.48" y1="149.50" x2="272.48" y2="147.10"/>
<line x1="276.57" y1="59.00" x2="276.57" y2="56.60"/>
<line x1="276.57" y1="63.30" x2="276.57" y2="65.70"/>
<line x1="276.57" y1="149.50" x2="276.57" y2="147.10"/>
<line x1="279.47" y1="59.00" x2="279.47" y2="56.60"/>
<line x1="279.47" y1="63.30" x2="279.47" y2="65.70"/>
<line x1="279.47" y1="149.50" x2="279.47" y2="147.10"/>
<line x1="281.72" y1="59.00" x2="281.72" y2="56.60"/>
<line x1="281.72" y1="63.30" x2="281.72" y2="65.70"/>
<line x1="281.72" y1="149.50" x2="281.72" y2="147.10"/>
<line x1="283.55" y1="59.00" x2="283.55" y2="56.60"/>
<line x1="283.55" y1="63.30" x2="283.55" y2="65.70"/>
<line x1="283.55" y1="149.50" x2="283.55" y2="147.10"/>
<line x1="285.11" y1="59.00" x2="285.11" y2="56.60"/>
<line x1="285.11" y1="63.30" x2="285.11" y2="65.70"/>
<line x1="285.11" y1="149.50" x2="285.11" y2="147.10"/>
<line x1="286.45" y1="59.00" x2="286.45" y2="56.60"/>
<line x1="286.45" y1="63.30" x2="286.45" y2="65.70"/>
<line x1="286.45" y1="149.50" x2="286.45" y2="147.10"/>
<line x1="287.64" y1="59.00" x2="287.64" y2="56.60"/>
<line x1="287.64" y1="63.30" x2="287.64" y2="65.70"/>
<line x1="287.64" y1="149.50" x2="287.64" y2="147.10"/>
<line x1="288.70" y1="59.00" x2="288.70" y2="54.40"/>
<line x1="288.70" y1="63.30" x2="288.70" y2="67.90"/>
<line x1="288.70" y1="149.50" x2="288.70" y2="144.90"/>
<line x1="295.68" y1="59.00" x2="295.68" y2="56.60"/>
<line x1="295.68" y1="63.30" x2="295.68" y2="65.70"/>
<line x1="295.68" y1="149.50" x2="295.68" y2="147.10"/>
<line x1="299.77" y1="59.00" x2="299.77" y2="56.60"/>
<line x1="299.77" y1="63.30" x2="299.77" y2="65.70"/>
<line x1="299.77" y1="149.50" x2="299.77" y2="147.10"/>
<line x1="302.67" y1="59.00" x2="302.67" y2="56.60"/>
<line x1="302.67" y1="63.30" x2="302.67" y2="65.70"/>
<line x1="302.67" y1="149.50" x2="302.67" y2="147.10"/>
<line x1="304.92" y1="59.00" x2="304.92" y2="56.60"/>
<line x1="304.92" y1="63.30" x2="304.92" y2="65.70"/>
<line x1="304.92" y1="149.50" x2="304.92" y2="147.10"/>
<line x1="306.75" y1="59.00" x2="306.75" y2="56.60"/>
<line x1="306.75" y1="63.30" x2="306.75" y2="65.70"/>
<line x1="306.75" y1="149.50" x2="306.75" y2="147.10"/>
<line x1="308.31" y1="59.00" x2="308.31" y2="56.60"/>
<line x1="308.31" y1="63.30" x2="308.31" y2="65.70"/>
<line x1="308.31" y1="149.50" x2="308.31" y2="147.10"/>
<line x1="309.65" y1="59.00" x2="309.65" y2="56.60"/>
<line x1="309.65" y1="63.30" x2="309.65" y2="65.70"/>
<line x1="309.65" y1="149.50" x2="309.65" y2="147.10"/>
<line x1="310.84" y1="59.00" x2="310.84" y2="56.60"/>
<line x1="310.84" y1="63.30" x2="310.84" y2="65.70"/>
<line x1="310.84" y1="149.50" x2="310.84" y2="147.10"/>
<line x1="311.90" y1="59.00" x2="311.90" y2="54.40"/>
<line x1="311.90" y1="63.30" x2="311.90" y2="67.90"/>
<line x1="311.90" y1="149.50" x2="311.90" y2="144.90"/>
<line x1="318.88" y1="59.00" x2="318.88" y2="56.60"/>
<line x1="318.88" y1="63.30" x2="318.88" y2="65.70"/>
<line x1="318.88" y1="149.50" x2="318.88" y2="147.10"/>
<line x1="322.97" y1="59.00" x2="322.97" y2="56.60"/>
<line x1="322.97" y1="63.30" x2="322.97" y2="65.70"/>
<line x1="322.97" y1="149.50" x2="322.97" y2="147.10"/>
<line x1="325.87" y1="59.00" x2="325.87" y2="56.60"/>
<line x1="325.87" y1="63.30" x2="325.87" y2="65.70"/>
<line x1="325.87" y1="149.50" x2="325.87" y2="147.10"/>
<line x1="328.12" y1="59.00" x2="328.12" y2="56.60"/>
<line x1="328.12" y1="63.30" x2="328.12" y2="65.70"/>
<line x1="328.12" y1="149.50" x2="328.12" y2="147.10"/>
<line x1="329.95" y1="59.00" x2="329.95" y2="56.60"/>
<line x1="329.95" y1="63.30" x2="329.95" y2="65.70"/>
<line x1="329.95" y1="149.50" x2="329.95" y2="147.10"/>
<line x1="331.51" y1="59.00" x2="331.51" y2="56.60"/>
<line x1="331.51" y1="63.30" x2="331.51" y2="65.70"/>
<line x1="331.51" y1="149.50" x2="331.51" y2="147.10"/>
<line x1="332.85" y1="59.00" x2="332.85" y2="56.60"/>
<line x1="332.85" y1="63.30" x2="332.85" y2="65.70"/>
<line x1="332.85" y1="149.50" x2="332.85" y2="147.10"/>
<line x1="334.04" y1="59.00" x2="334.04" y2="56.60"/>
<line x1="334.04" y1="63.30" x2="334.04" y2="65.70"/>
<line x1="334.04" y1="149.50" x2="334.04" y2="147.10"/>
<line x1="335.10" y1="59.00" x2="335.10" y2="54.40"/>
<line x1="335.10" y1="63.30" x2="335.10" y2="67.90"/>
<line x1="335.10" y1="149.50" x2="335.10" y2="144.90"/>
<line x1="342.08" y1="59.00" x2="342.08" y2="56.60"/>
<line x1="342.08" y1="63.30" x2="342.08" y2="65.70"/>
<line x1="342.08" y1="149.50" x2="342.08" y2="147.10"/>
<line x1="346.17" y1="59.00" x2="346.17" y2="56.60"/>
<line x1="346.17" y1="63.30" x2="346.17" y2="65.70"/>
<line x1="346.17" y1="149.50" x2="346.17" y2="147.10"/>
<line x1="349.07" y1="59.00" x2="349.07" y2="56.60"/>
<line x1="349.07" y1="63.30" x2="349.07" y2="65.70"/>
<line x1="349.07" y1="149.50" x2="349.07" y2="147.10"/>
<line x1="351.32" y1="59.00" x2="351.32" y2="56.60"/>
<line x1="351.32" y1="63.30" x2="351.32" y2="65.70"/>
<line x1="351.32" y1="149.50" x2="351.32" y2="147.10"/>
<line x1="353.15" y1="59.00" x2="353.15" y2="56.60"/>
<line x1="353.15" y1="63.30" x2="353.15" y2="65.70"/>
<line x1="353.15" y1="149.50" x2="353.15" y2="147.10"/>
<line x1="354.71" y1="59.00" x2="354.71" y2="56.60"/>
<line x1="354.71" y1="63.30" x2="354.71" y2="65.70"/>
<line x1="354.71" y1="149.50" x2="354.71" y2="147.10"/>
<line x1="356.05" y1="59.00" x2="356.05" y2="56.60"/>
<line x1="356.05" y1="63.30" x2="356.05" y2="65.70"/>
<line x1="356.05" y1="149.50" x2="356.05" y2="147.10"/>
<line x1="357.24" y1="59.00" x2="357.24" y2="56.60"/>
<line x1="357.24" y1="63.30" x2="357.24" y2="65.70"/>
<line x1="357.24" y1="149.50" x2="357.24" y2="147.10"/>
<line x1="358.30" y1="59.00" x2="358.30" y2="54.40"/>
<line x1="358.30" y1="63.30" x2="358.30" y2="67.90"/>
<line x1="358.30" y1="149.50" x2="358.30" y2="144.90"/>
<line x1="365.28" y1="59.00" x2="365.28" y2="56.60"/>
<line x1="365.28" y1="63.30" x2="365.28" y2="65.70"/>
<line x1="365.28" y1="149.50" x2="365.28" y2="147.10"/>
<line x1="369.37" y1="59.00" x2="369.37" y2="56.60"/>
<line x1="369.37" y1="63.30" x2="369.37" y2="65.70"/>
<line x1="369.37" y1="149.50" x2="369.37" y2="147.10"/>
<line x1="372.27" y1="59.00" x2="372.27" y2="56.60"/>
<line x1="372.27" y1="63.30" x2="372.27" y2="65.70"/>
<line x1="372.27" y1="149.50" x2="372.27" y2="147.10"/>
<line x1="374.52" y1="59.00" x2="374.52" y2="56.60"/>
<line x1="374.52" y1="63.30" x2="374.52" y2="65.70"/>
<line x1="374.52" y1="149.50" x2="374.52" y2="147.10"/>
<line x1="376.35" y1="59.00" x2="376.35" y2="56.60"/>
<line x1="376.35" y1="63.30" x2="376.35" y2="65.70"/>
<line x1="376.35" y1="149.50" x2="376.35" y2="147.10"/>
<line x1="377.91" y1="59.00" x2="377.91" y2="56.60"/>
<line x1="377.91" y1="63.30" x2="377.91" y2="65.70"/>
<line x1="377.91" y1="149.50" x2="377.91" y2="147.10"/>
<line x1="379.25" y1="59.00" x2="379.25" y2="56.60"/>
<line x1="379.25" y1="63.30" x2="379.25" y2="65.70"/>
<line x1="379.25" y1="149.50" x2="379.25" y2="147.10"/>
<line x1="380.44" y1="59.00" x2="380.44" y2="56.60"/>
<line x1="380.44" y1="63.30" x2="380.44" y2="65.70"/>
<line x1="380.44" y1="149.50" x2="380.44" y2="147.10"/>
<line x1="381.50" y1="59.00" x2="381.50" y2="54.40"/>
<line x1="381.50" y1="63.30" x2="381.50" y2="67.90"/>
<line x1="381.50" y1="149.50" x2="381.50" y2="144.90"/>
<line x1="388.48" y1="59.00" x2="388.48" y2="56.60"/>
<line x1="388.48" y1="63.30" x2="388.48" y2="65.70"/>
<line x1="388.48" y1="149.50" x2="388.48" y2="147.10"/>
<line x1="392.57" y1="59.00" x2="392.57" y2="56.60"/>
<line x1="392.57" y1="63.30" x2="392.57" y2="65.70"/>
<line x1="392.57" y1="149.50" x2="392.57" y2="147.10"/>
<line x1="395.47" y1="59.00" x2="395.47" y2="56.60"/>
<line x1="395.47" y1="63.30" x2="395.47" y2="65.70"/>
<line x1="395.47" y1="149.50" x2="395.47" y2="147.10"/>
<line x1="397.72" y1="59.00" x2="397.72" y2="56.60"/>
<line x1="397.72" y1="63.30" x2="397.72" y2="65.70"/>
<line x1="397.72" y1="149.50" x2="397.72" y2="147.10"/>
<line x1="399.55" y1="59.00" x2="399.55" y2="56.60"/>
<line x1="399.55" y1="63.30" x2="399.55" y2="65.70"/>
<line x1="399.55" y1="149.50" x2="399.55" y2="147.10"/>
<line x1="401.11" y1="59.00" x2="401.11" y2="56.60"/>
<line x1="401.11" y1="63.30" x2="401.11" y2="65.70"/>
<line x1="401.11" y1="149.50" x2="401.11" y2="147.10"/>
<line x1="402.45" y1="59.00" x2="402.45" y2="56.60"/>
<line x1="402.45" y1="63.30" x2="402.45" y2="65.70"/>
<line x1="402.45" y1="149.50" x2="402.45" y2="147.10"/>
<line x1="403.64" y1="59.00" x2="403.64" y2="56.60"/>
<line x1="403.64" y1="63.30" x2="403.64" y2="65.70"/>
<line x1="403.64" y1="149.50" x2="403.64" y2="147.10"/>
<line x1="404.70" y1="59.00" x2="404.70" y2="54.40"/>
<line x1="404.70" y1="63.30" x2="404.70" y2="67.90"/>
<line x1="404.70" y1="149.50" x2="404.70" y2="144.90"/>
<line x1="411.68" y1="59.00" x2="411.68" y2="56.60"/>
<line x1="411.68" y1="63.30" x2="411.68" y2="65.70"/>
<line x1="411.68" y1="149.50" x2="411.68" y2="147.10"/>
<line x1="415.77" y1="59.00" x2="415.77" y2="56.60"/>
<line x1="415.77" y1="63.30" x2="415.77" y2="65.70"/>
<line x1="415.77" y1="149.50" x2="415.77" y2="147.10"/>
<line x1="418.67" y1="59.00" x2="418.67" y2="56.60"/>
<line x1="418.67" y1="63.30" x2="418.67" y2="65.70"/>
<line x1="418.67" y1="149.50" x2="418.67" y2="147.10"/>
<line x1="420.92" y1="59.00" x2="420.92" y2="56.60"/>
<line x1="420.92" y1="63.30" x2="420.92" y2="65.70"/>
<line x1="420.92" y1="149.50" x2="420.92" y2="147.10"/>
<line x1="422.75" y1="59.00" x2="422.75" y2="56.60"/>
<line x1="422.75" y1="63.30" x2="422.75" y2="65.70"/>
<line x1="422.75" y1="149.50" x2="422.75" y2="147.10"/>
<line x1="424.31" y1="59.00" x2="424.31" y2="56.60"/>
<line x1="424.31" y1="63.30" x2="424.31" y2="65.70"/>
<line x1="424.31" y1="149.50" x2="424.31" y2="147.10"/>
<line x1="425.65" y1="59.00" x2="425.65" y2="56.60"/>
<line x1="425.65" y1="63.30" x2="425.65" y2="65.70"/>
<line x1="425.65" y1="149.50" x2="425.65" y2="147.10"/>
<line x1="426.84" y1="59.00" x2="426.84" y2="56.60"/>
<line x1="426.84" y1="63.30" x2="426.84" y2="65.70"/>
<line x1="426.84" y1="149.50" x2="426.84" y2="147.10"/>
<line x1="427.90" y1="59.00" x2="427.90" y2="54.40"/>
<line x1="427.90" y1="63.30" x2="427.90" y2="67.90"/>
<line x1="427.90" y1="149.50" x2="427.90" y2="144.90"/>
<line x1="434.88" y1="59.00" x2="434.88" y2="56.60"/>
<line x1="434.88" y1="63.30" x2="434.88" y2="65.70"/>
<line x1="434.88" y1="149.50" x2="434.88" y2="147.10"/>
<line x1="258.90" y1="59.00" x2="263.50" y2="59.00"/>
<line x1="437.20" y1="59.00" x2="432.60" y2="59.00"/>
<line x1="258.90" y1="51.05" x2="261.30" y2="51.05"/>
<line x1="437.20" y1="51.05" x2="434.80" y2="51.05"/>
<line x1="258.90" y1="46.40" x2="261.30" y2="46.40"/>
<line x1="437.20" y1="46.40" x2="434.80" y2="46.40"/>
<line x1="258.90" y1="43.11" x2="261.30" y2="43.11"/>
<line x1="437.20" y1="43.11" x2="434.80" y2="43.11"/>
<line x1="258.90" y1="40.55" x2="261.30" y2="40.55"/>
<line x1="437.20" y1="40.55" x2="434.80" y2="40.55"/>
<line x1="258.90" y1="38.46" x2="261.30" y2="38.46"/>
<line x1="437.20" y1="38.46" x2="434.80" y2="38.46"/>
<line x1="258.90" y1="36.69" x2="261.30" y2="36.69"/>
<line x1="437.20" y1="36.69" x2="434.80" y2="36.69"/>
<line x1="258.90" y1="35.16" x2="261.30" y2="35.16"/>
<line x1="437.20" y1="35.16" x2="434.80" y2="35.16"/>
<line x1="258.90" y1="33.81" x2="261.30" y2="33.81"/>
<line x1="437.20" y1="33.81" x2="434.80" y2="33.81"/>
<line x1="258.90" y1="32.60" x2="263.50" y2="32.60"/>
<line x1="437.20" y1="32.60" x2="432.60" y2="32.60"/>
<line x1="258.90" y1="24.65" x2="261.30" y2="24.65"/>
<line x1="437.20" y1="24.65" x2="434.80" y2="24.65"/>
<line x1="258.90" y1="20.00" x2="261.30" y2="20.00"/>
<line x1="437.20" y1="20.00" x2="434.80" y2="20.00"/>
<line x1="258.90" y1="16.71" x2="261.30" y2="16.71"/>
<line x1="437.20" y1="16.71" x2="434.80" y2="16.71"/>
<line x1="258.90" y1="14.15" x2="261.30" y2="14.15"/>
<line x1="437.20" y1="14.15" x2="434.80" y2="14.15"/>
<line x1="258.90" y1="12.06" x2="261.30" y2="12.06"/>
<line x1="437.20" y1="12.06" x2="434.80" y2="12.06"/>
<line x1="258.90" y1="10.29" x2="261.30" y2="10.29"/>
<line x1="437.20" y1="10.29" x2="434.80" y2="10.29"/>
<line x1="258.90" y1="8.76" x2="261.30" y2="8.76"/>
<line x1="437.20" y1="8.76" x2="434.80" y2="8.76"/>
<line x1="258.90" y1="7.41" x2="261.30" y2="7.41"/>
<line x1="437.20" y1="7.41" x2="434.80" y2="7.41"/>
<line x1="258.90" y1="6.20" x2="263.50" y2="6.20"/>
<line x1="437.20" y1="6.20" x2="432.60" y2="6.20"/>
<line x1="258.90" y1="-1.75" x2="261.30" y2="-1.75"/>
<line x1="437.20" y1="-1.75" x2="434.80" y2="-1.75"/>
<line x1="258.90" y1="-6.40" x2="261.30" y2="-6.40"/>
<line x1="437.20" y1="-6.40" x2="434.80" y2="-6.40"/>
<line x1="258.90" y1="-9.69" x2="261.30" y2="-9.69"/>
<line x1="437.20" y1="-9.69" x2="434.80" y2="-9.69"/>
<line x1="258.90" y1="-12.25" x2="261.30" y2="-12.25"/>
<line x1="437.20" y1="-12.25" x2="434.80" y2="-12.25"/>
<line x1="258.90" y1="-14.34" x2="261.30" y2="-14.34"/>
<line x1="437.20" y1="-14.34" x2="434.80" y2="-14.34"/>
<line x1="258.90" y1="-16.11" x2="261.30" y2="-16.11"/>
<line x1="437.20" y1="-16.11" x2="434.80" y2="-16.11"/>
<line x1="258.90" y1="-17.64" x2="261.30" y2="-17.64"/>
<line x1="437.20" y1="-17.64" x2="434.80" y2="-17.64"/>
<line x1="258.90" y1="-18.99" x2="261.30" y2="-18.99"/>
<line x1="437.20" y1="-18.99" x2="434.80" y2="-18.99"/>
<line x1="258.90" y1="-20.20" x2="263.50" y2="-20.20"/>
<line x1="437.20" y1="-20.20" x2="432.60" y2="-20.20"/>
<line x1="258.90" y1="139.89" x2="261.30" y2="139.89"/>
<line x1="437.20" y1="139.89" x2="434.80" y2="139.89"/>
<line x1="258.90" y1="132.03" x2="261.30" y2="132.03"/>
<line x1="437.20" y1="132.03" x2="434.80" y2="132.03"/>
<line x1="258.90" y1="125.93" x2="261.30" y2="125.93"/>
<line x1="437.20" y1="125.93" x2="434.80" y2="125.93"/>
<line x1="258.90" y1="120.95" x2="261.30" y2="120.95"/>
<line x1="437.20" y1="120.95" x2="434.80" y2="120.95"/>
<line x1="258.90" y1="116.74" x2="261.30" y2="116.74"/>
<line x1="437.20" y1="116.74" x2="434.80" y2="116.74"/>
<line x1="258.90" y1="113.10" x2="261.30" y2="113.10"/>
<line x1="437.20" y1="113.10" x2="434.80" y2="113.10"/>
<line x1="258.90" y1="109.88" x2="261.30" y2="109.88"/>
<line x1="437.20" y1="109.88" x2="434.80" y2="109.88"/>
<line x1="258.90" y1="107.00" x2="263.50" y2="107.00"/>
<line x1="437.20" y1="107.00" x2="432.60" y2="107.00"/>
<line x1="258.90" y1="88.07" x2="261.30" y2="88.07"/>
<line x1="437.20" y1="88.07" x2="434.80" y2="88.07"/>
<line x1="258.90" y1="76.99" x2="261.30" y2="76.99"/>
<line x1="437.20" y1="76.99" x2="434.80" y2="76.99"/>
<line x1="258.90" y1="69.13" x2="261.30" y2="69.13"/>
<line x1="437.20" y1="69.13" x2="434.80" y2="69.13"/>
<line x1="265.00" y1="181.20" x2="265.00" y2="184.50"/>
<line x1="290.12" y1="181.20" x2="290.12" y2="184.50"/>
<line x1="315.24" y1="181.20" x2="315.24" y2="184.50"/>
<line x1="340.36" y1="181.20" x2="340.36" y2="184.50"/>
<line x1="365.48" y1="181.20" x2="365.48" y2="184.50"/>
<line x1="390.60" y1="181.20" x2="390.60" y2="184.50"/>
<line x1="259.10" y1="244.65" x2="262.30" y2="244.65"/>
<line x1="397.30" y1="244.65" x2="394.10" y2="244.65"/>
<line x1="259.10" y1="219.10" x2="262.30" y2="219.10"/>
<line x1="397.30" y1="219.10" x2="394.10" y2="219.10"/>
<line x1="259.10" y1="193.55" x2="262.30" y2="193.55"/>
<line x1="397.30" y1="193.55" x2="394.10" y2="193.55"/>
</g>
<text x="257.40" y="162.20" font-size="8.2">10</text>
<text x="267.00" y="159.20" font-size="6.2">-3</text>
<text x="280.20" y="162.20" font-size="8.2">10</text>
<text x="290.30" y="159.20" font-size="6.2">-2</text>
<text x="303.40" y="162.20" font-size="8.2">10</text>
<text x="313.50" y="159.20" font-size="6.2">-1</text>
<text x="329.10" y="162.20" font-size="8.2">10</text>
<text x="337.50" y="159.20" font-size="6.2">0</text>
<text x="352.00" y="162.20" font-size="8.2">10</text>
<text x="360.70" y="159.20" font-size="6.2">1</text>
<text x="374.00" y="162.20" font-size="8.2">10</text>
<text x="383.50" y="159.20" font-size="6.2">2</text>
<text x="397.40" y="162.20" font-size="8.2">10</text>
<text x="407.20" y="159.20" font-size="6.2">3</text>
<text x="420.20" y="162.20" font-size="8.2">10</text>
<text x="430.50" y="159.20" font-size="6.2">4</text>
<text x="239.60" y="10.10" font-size="8.2">10</text>
<text x="248.60" y="7.40" font-size="6.2">-1</text>
<text x="239.60" y="36.50" font-size="8.2">10</text>
<text x="248.60" y="33.80" font-size="6.2">-2</text>
<text x="239.60" y="62.90" font-size="8.2">10</text>
<text x="248.60" y="60.20" font-size="6.2">-3</text>
<text x="239.60" y="110.90" font-size="8.2">10</text>
<text x="248.60" y="108.20" font-size="6.2">-1</text>
<text x="243.40" y="247.45" font-size="7.4">0.1</text>
<text x="243.40" y="221.90" font-size="7.4">0.2</text>
<text x="243.40" y="196.35" font-size="7.4">0.3</text>
<text class="s" x="314.90" y="173.5" font-size="10" textLength="65.2" lengthAdjust="spacingAndGlyphs">Frequency [Hz]</text>
<text class="s" transform="translate(231.90,15.80) rotate(-90)" font-size="10" text-anchor="middle" textLength="38.3" lengthAdjust="spacingAndGlyphs"><tspan font-style="italic">G</tspan>′ [GPa]</text>
<text class="s" transform="translate(231.90,106.80) rotate(-90)" font-size="10" text-anchor="middle" textLength="39.6" lengthAdjust="spacingAndGlyphs"><tspan font-style="italic">G</tspan>″ [GPa]</text>
<text class="s" transform="translate(238.90,225.30) rotate(-90)" font-size="10.5" text-anchor="middle" textLength="34" lengthAdjust="spacingAndGlyphs"><tspan font-style="italic">G</tspan>″/<tspan font-style="italic">G</tspan><tspan font-size="8" dy="2">∞</tspan></text>
<text class="s" x="264.70" y="77.30" font-size="11" style="fill:#000">(e)</text>
<text class="s" x="264.70" y="193.90" font-size="11" style="fill:#000">(f)</text>
<rect x="402.80" y="173.00" width="44.80" height="100" fill="#fff" stroke="#1c1c1c" stroke-width="1"/>
<line x1="405.20" y1="178.60" x2="423.80" y2="178.60" stroke="#0000ff" stroke-width="1.8"/>
<text x="425.80" y="181.10" font-size="7">230 K</text>
<line x1="405.20" y1="187.55" x2="423.80" y2="187.55" stroke="#001af2" stroke-width="1.8"/>
<text x="425.80" y="190.05" font-size="7">232 K</text>
<line x1="405.20" y1="196.50" x2="423.80" y2="196.50" stroke="#0033e6" stroke-width="1.8"/>
<text x="425.80" y="199.00" font-size="7">234 K</text>
<line x1="405.20" y1="205.45" x2="423.80" y2="205.45" stroke="#004cd9" stroke-width="1.8"/>
<text x="425.80" y="207.95" font-size="7">236 K</text>
<line x1="405.20" y1="214.40" x2="423.80" y2="214.40" stroke="#0066cc" stroke-width="1.8"/>
<text x="425.80" y="216.90" font-size="7">238 K</text>
<line x1="405.20" y1="223.35" x2="423.80" y2="223.35" stroke="#0080bf" stroke-width="1.8"/>
<text x="425.80" y="225.85" font-size="7">240 K</text>
<line x1="405.20" y1="232.30" x2="423.80" y2="232.30" stroke="#0099b2" stroke-width="1.8"/>
<text x="425.80" y="234.80" font-size="7">242 K</text>
<line x1="405.20" y1="241.25" x2="423.80" y2="241.25" stroke="#00b2a6" stroke-width="1.8"/>
<text x="425.80" y="243.75" font-size="7">244 K</text>
<line x1="405.20" y1="250.20" x2="423.80" y2="250.20" stroke="#00cc99" stroke-width="1.8"/>
<text x="425.80" y="252.70" font-size="7">246 K</text>
<line x1="405.20" y1="259.15" x2="423.80" y2="259.15" stroke="#00e68c" stroke-width="1.8"/>
<text x="425.80" y="261.65" font-size="7">248 K</text>
</svg></body></html>
